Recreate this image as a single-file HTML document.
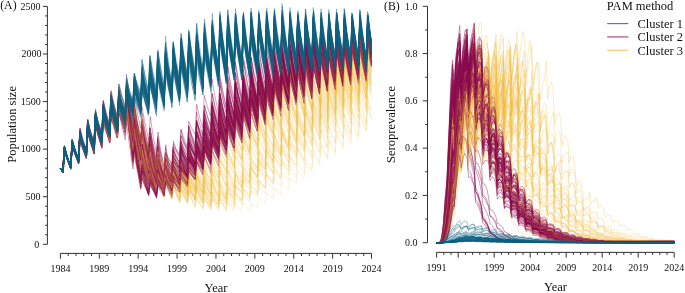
<!DOCTYPE html>
<html><head><meta charset="utf-8"><title>Population size and seroprevalence</title>
<style>
html,body{margin:0;padding:0;background:#fff;}
svg{display:block;}
.axes line{stroke:#333;stroke-width:1;fill:none;}
text{font-family:"Liberation Serif","Times New Roman",serif;fill:#111;}
.tk{font-size:10px;}
.ax{font-size:12.5px;}
.pl{font-size:11.8px;}
.data path{fill:none;stroke-linejoin:round;}
.c1{stroke:#0d5f80;stroke-opacity:0.55;stroke-width:2.6;}
.c2{stroke:#8a0a4e;stroke-opacity:0.58;stroke-width:2.6;}
.c3{stroke:#f2bd42;stroke-opacity:0.36;stroke-width:2.2;}
.d1{stroke:#0d5f80;stroke-opacity:0.55;stroke-width:2.6;}
.d2{stroke:#8a0a4e;stroke-opacity:0.62;stroke-width:2.6;}
.d3{stroke:#f2bd42;stroke-opacity:0.5;stroke-width:2.4;}
.lg{stroke-width:1.3;}
.l1{stroke:#0d5f80;stroke-opacity:0.8;stroke-width:1.1}.l2{stroke:#8a0a4e;stroke-opacity:0.55;stroke-width:1.6}.l3{stroke:#f2bd42;stroke-opacity:0.85;stroke-width:1.1}
</style></head>
<body>
<svg width="685" height="293" viewBox="0 0 685 293">
<g class="data" transform="scale(0.25)">
<path class="c2" d="M242 675l10 15 5-100 11 37 15 44 6-93 10 30 15 37 6-100 10 35 15 42 6-114 10 43 15 50 5-111 11 37 16 43 5-118 11 41 15 48 5-113 10 48 15 56 6-122 10 33 16 40 6-87 10 61 15 71 5-70 11 55 15 65 5-82 11 59 15 70 6-73 10 55 15 64 6-81 10 62 16 72 5-72 10 45 15 53 6-63 10 22 16 27 6-62 10 22 15 28 5-77 10 21 15 26 6-88 11 23 15 29 6-84 10 26 15 31 6-104 10 37 15 43 6-104 10 33 15 40 6-112 10 36 16 42 5-108 10 36 16 41 5-137 10 45 16 53 5-126 10 49 16 57 6-133 10 55 15 65 5-139 11 56 15 66 5-133 11 54 15 62 6-139 10 56 15 66 6-139 10 57 15 68 6-145 10 60 15 70 6-138 10 64 16 76 5-143 10 56 15 67 6-149 10 66 16 78 5-149 10 68 16 81 6-152 10 62 15 73 5-151 11 60 15 72 6-166 10 72 15 86 6-156 10 69 16 83 5-158 10 75 5 29"/>
<path class="c3" d="M242 676l10 13 6-94 10 34 15 40 6-98 10 32 16 38 6-99 9 35 15 41 6-109 10 37 15 45 6-123 10 41 16 48 6-116 10 42 14 51 6-124 10 52 16 62 5-124 11 38 15 44 6-96 10 98 15 117 6-77 10 71 15 83 6-55 10 42 16 49 5-64 10 33 16 38 5-64 10 40 16 46 6-68 10 37 15 43 5-66 11 24 15 29 6-57 10 12 15 14 5-75 11 17 15 19 6-80 10 26 15 31 6-95 10 33 16 39 5-96 10 32 16 37 5-107 10 37 15 45 6-114 10 41 16 49 5-118 11 40 15 47 6-122 10 45 15 52 5-122 11 39 15 45 5-130 11 50 15 58 6-143 10 55 15 65 5-141 11 53 15 62 6-132 10 55 15 64 6-155 10 59 15 70 6-157 10 69 16 83 5-161 10 71 15 85 6-150 10 65 16 76 5-162 10 70 16 82 5-146 11 68 16 81 5-161 10 68 15 81 5-152 11 72 15 85 6-161 10 63 16 74 5-170 10 75 16 89 5-152 11 70 4 24"/>
<path class="c2" d="M242 674l10 15 6-103 10 38 16 45 5-104 10 35 16 42 5-102 10 33 15 39 6-118 10 42 16 49 5-125 11 43 15 52 6-119 10 36 15 43 5-121 10 48 16 57 5-123 11 36 15 42 6-102 10 77 16 91 5-77 10 62 15 72 6-82 10 70 16 82 5-69 10 46 15 56 6-75 10 49 16 58 6-78 10 45 15 54 6-67 10 29 14 35 6-69 11 19 16 22 5-78 10 24 16 29 5-81 10 29 15 34 6-88 10 31 15 36 6-101 10 34 16 41 6-111 9 40 15 46 6-111 10 33 15 40 6-132 10 43 15 51 6-123 10 43 16 50 5-138 11 52 15 62 6-144 10 59 15 69 6-133 10 52 15 61 6-132 10 49 15 57 6-133 10 46 16 56 5-152 11 62 15 73 6-163 10 71 15 84 6-156 10 67 15 79 6-156 10 69 15 82 6-151 10 68 15 81 6-161 10 70 15 82 6-135 10 57 16 67 5-160 10 62 15 74 6-163 10 73 16 87 5-149 11 61 15 73 5-190 10 82 5 30"/>
<path class="c2" d="M242 675l9 14 6-99 10 37 15 44 6-108 10 36 16 43 5-106 11 34 15 41 6-118 10 41 15 47 6-137 10 51 15 60 6-121 10 42 15 49 6-117 10 44 15 53 6-111 10 40 15 47 6-90 10 118 15 139 6-49 10 71 15 84 6-41 10 29 16 35 5-46 11 7 15 8 6-52 10 13 14 16 6-72 10 21 16 25 6-79 10 27 15 33 5-82 11 34 15 41 6-87 10 35 15 41 6-92 10 33 15 40 6-96 10 31 16 37 5-117 11 39 15 47 6-120 10 40 15 48 6-118 10 44 15 52 6-115 10 39 15 45 6-121 10 47 15 56 5-135 11 55 16 65 5-129 10 46 15 56 6-158 10 68 15 80 6-152 10 71 16 85 6-133 10 54 15 65 6-134 10 51 15 61 5-156 11 72 15 84 6-123 10 51 15 60 6-138 10 56 15 66 6-154 10 68 15 81 6-137 10 60 16 71 5-142 10 60 15 71 6-145 10 62 16 73 6-157 10 61 15 71 6-156 10 66 15 79 6-161 10 77 5 32"/>
<path class="c2" d="M242 675l10 17 5-94 11 35 15 43 5-95 11 33 16 39 5-98 10 35 15 42 6-104 10 40 16 48 6-120 10 44 14 53 6-114 10 42 16 50 5-115 11 44 15 52 6-109 10 39 15 46 6-76 10 47 16 56 5-96 10 58 15 68 6-74 10 41 15 47 6-90 10 60 15 72 6-90 10 53 16 64 6-89 10 67 15 80 5-66 10 27 16 32 5-70 10 25 16 29 6-76 9 24 15 29 6-76 10 28 16 34 5-88 11 28 16 33 5-100 10 35 15 41 6-102 10 34 16 40 5-106 10 35 15 41 6-113 10 36 16 43 5-114 11 46 15 54 6-118 10 42 15 49 5-133 11 57 15 66 6-128 10 53 15 64 6-141 10 58 15 69 6-123 10 51 15 61 6-118 10 42 15 49 6-145 10 56 15 67 6-150 10 58 16 69 5-139 10 60 16 71 5-134 10 56 16 67 5-149 11 67 15 79 6-133 10 62 15 72 6-145 10 60 15 72 6-131 10 55 15 65 6-150 10 70 16 83 5-130 10 54 5 19"/>
<path class="c3" d="M242 674l9 16 6-89 10 32 16 39 5-97 10 34 16 40 5-105 10 37 15 45 6-107 10 40 16 46 5-122 11 46 15 55 6-103 10 32 15 38 6-101 10 41 15 49 6-104 10 45 15 53 5-88 11 72 16 85 5-59 10 53 15 63 6-64 10 50 16 59 5-65 11 43 15 52 6-57 10 26 15 30 6-77 10 42 15 50 6-62 10 35 15 41 6-59 10 35 15 41 6-55 10 29 15 34 6-52 10 28 16 33 5-48 10 22 16 27 5-53 10 17 16 20 5-59 10 19 15 22 6-61 10 20 16 25 6-65 10 21 15 26 6-64 10 14 15 16 5-71 11 20 15 23 6-89 10 29 16 35 5-83 10 29 15 33 6-91 10 32 15 36 6-97 10 35 15 40 6-106 10 39 16 45 5-94 10 39 16 45 5-101 11 35 15 40 6-106 10 38 15 46 6-112 10 40 16 47 5-102 10 36 15 43 6-124 10 45 15 53 6-106 10 41 16 49 5-135 10 52 16 62 5-142 10 68 16 81 5-140 10 61 6 26"/>
<path class="c2" d="M242 672l10 19 6-88 10 34 15 39 6-98 10 34 15 39 6-108 10 37 14 45 6-116 11 46 15 54 6-116 10 35 16 41 5-128 10 51 16 60 5-106 10 43 16 52 5-103 10 25 16 30 6-80 10 82 15 96 6-77 10 75 15 89 5-51 11 51 16 61 5-59 10 41 15 48 5-54 11 27 15 32 6-59 10 24 15 29 6-55 10 19 15 23 5-62 11 19 15 22 6-63 10 14 16 17 6-84 10 28 15 32 6-87 10 24 15 29 6-101 10 29 16 34 5-96 10 33 15 39 6-115 10 39 15 47 6-123 10 37 16 44 5-132 10 49 16 57 5-136 10 47 16 55 6-136 9 50 15 58 6-136 10 53 16 64 6-147 10 62 15 75 5-147 11 65 15 77 6-146 10 65 15 77 5-141 11 56 15 66 6-162 10 67 15 79 6-139 10 60 16 70 5-151 10 62 15 73 6-149 10 68 16 79 6-164 10 68 15 79 6-171 10 76 15 91 5-170 11 76 16 90 5-165 10 74 15 88 6-144 10 65 5 24"/>
<path class="c2" d="M242 674l10 14 6-102 9 36 15 42 6-97 10 30 16 36 5-109 10 35 16 42 5-117 11 41 15 49 6-128 10 46 15 54 5-124 11 43 15 50 5-122 11 35 16 43 6-122 10 38 15 46 5-95 10 74 15 86 6-87 10 76 16 89 5-90 11 72 15 85 6-84 10 67 15 79 5-63 11 41 15 49 6-74 10 19 15 23 6-81 10 20 15 24 6-84 10 27 15 31 6-100 10 29 15 33 6-114 10 32 15 39 5-114 11 41 16 48 5-121 11 44 15 52 5-134 11 51 15 60 6-159 10 64 15 76 5-139 11 52 15 60 6-133 10 52 15 62 6-146 10 58 15 69 5-141 11 58 15 69 5-145 11 64 16 75 5-150 10 63 15 75 6-128 10 48 16 57 6-158 10 70 16 83 5-168 10 72 15 86 5-154 11 57 15 68 6-158 10 64 15 76 6-177 10 82 16 97 5-151 10 64 15 76 6-153 10 71 16 84 6-150 10 60 15 71 6-167 10 79 15 93 6-170 10 77 15 91 5-165 11 69 5 28"/>
<path class="c2" d="M242 676l10 16 6-99 10 38 15 45 5-100 10 36 15 42 6-111 10 40 16 48 5-106 11 36 15 42 6-120 10 46 15 54 6-117 10 41 16 48 5-121 10 48 16 57 5-97 10 19 15 23 6-105 10 116 15 137 6-76 10 92 16 108 5-43 10 28 15 33 6-49 11 20 15 25 6-53 10 20 15 22 6-60 10 21 15 24 6-58 10 18 15 22 6-65 10 19 15 22 6-72 10 21 16 26 6-86 10 22 14 27 6-88 10 26 16 29 5-96 10 30 16 37 5-107 11 39 15 46 5-113 11 43 15 51 5-129 11 47 15 56 6-142 10 53 15 64 6-127 10 47 15 56 6-140 10 53 16 64 5-147 11 60 15 70 5-149 11 68 15 80 6-137 10 57 15 67 5-129 11 53 15 61 6-137 10 50 15 60 6-130 10 56 15 65 6-150 10 61 15 73 5-159 11 63 16 74 5-137 10 60 16 70 5-156 11 71 15 85 6-159 10 72 15 85 6-168 10 79 15 93 5-167 10 72 16 86 5-163 11 68 5 27"/>
<path class="c2" d="M242 674l10 15 6-102 10 36 15 44 6-106 10 33 15 39 6-122 10 41 15 49 6-117 10 40 16 47 5-120 10 38 16 45 5-134 10 44 16 53 5-135 11 51 15 59 6-127 10 40 15 48 5-136 11 79 15 94 6-81 10 58 15 67 5-87 11 62 16 72 6-95 10 69 15 81 6-88 10 67 15 80 5-85 11 68 15 80 6-66 10 26 15 29 6-66 10 20 15 24 6-75 10 19 15 21 6-88 10 24 15 29 5-95 11 28 15 33 6-108 10 38 15 45 6-115 10 39 15 46 6-121 10 42 16 50 5-110 11 33 15 39 5-135 10 54 15 64 6-129 10 50 16 58 5-140 11 54 15 64 5-128 11 49 15 58 6-152 10 63 15 76 6-149 10 61 16 73 5-136 11 50 15 59 6-156 10 67 14 81 6-148 10 58 16 68 6-178 10 70 15 82 6-170 10 73 15 87 5-158 11 75 15 89 6-167 10 70 16 83 5-166 10 72 16 86 5-181 10 80 16 93 6-172 9 85 15 101 6-170 10 73 5 28"/>
<path class="c2" d="M242 674l10 16 5-96 11 37 15 43 5-106 10 37 15 43 6-102 10 36 16 42 5-108 10 37 15 45 6-122 11 39 16 47 5-117 10 35 15 42 5-119 11 48 15 57 6-118 10 48 16 56 6-85 10 55 15 65 5-83 11 63 15 73 6-79 10 50 15 60 5-82 11 58 15 68 6-86 10 73 16 87 6-68 9 30 15 34 6-73 10 18 15 20 6-79 10 29 15 35 6-82 10 23 15 28 6-86 10 22 16 27 5-110 11 36 15 42 6-121 10 49 15 57 5-123 10 49 15 59 6-119 10 42 16 50 6-119 10 44 15 53 6-119 10 43 16 50 5-141 10 54 16 64 5-138 10 51 15 61 6-136 10 56 16 66 5-136 11 54 15 65 6-146 10 48 15 56 5-153 11 66 15 79 5-169 11 70 15 84 6-163 10 70 15 84 6-152 10 66 15 78 5-148 11 69 16 82 5-155 10 65 15 78 6-150 10 67 15 79 6-161 10 68 16 80 5-166 10 67 16 78 5-173 11 80 15 94 5-170 10 75 6 33"/>
<path class="c2" d="M242 675l10 16 6-100 10 37 15 43 6-86 10 28 16 33 5-97 10 36 15 42 5-113 11 44 16 52 5-118 10 46 15 55 6-99 10 33 16 39 5-108 11 39 15 45 6-109 10 42 15 50 5-92 10 87 15 102 6-69 11 71 16 85 5-59 10 53 16 63 5-53 10 37 16 44 5-47 10 8 16 9 6-56 9 15 15 18 6-61 10 22 16 27 6-66 10 16 15 20 6-76 10 19 15 24 6-85 10 29 15 35 6-90 10 36 16 43 5-95 10 28 16 34 5-115 10 41 15 48 6-118 10 41 16 48 6-121 10 50 15 60 6-117 10 42 15 49 5-127 11 49 15 58 6-119 10 45 15 53 6-120 10 46 15 55 6-127 10 50 15 59 6-140 10 57 16 66 5-136 10 56 15 65 6-130 10 51 16 60 5-144 10 53 15 64 6-153 10 68 15 81 6-151 10 61 16 72 6-147 10 62 15 73 6-155 10 68 15 81 6-152 10 66 15 79 6-154 10 72 15 85 6-154 10 65 15 78 6-165 10 70 5 27"/>
<path class="c2" d="M242 675l11 17 5-92 10 34 15 40 6-94 10 32 15 37 6-104 10 38 15 45 6-116 10 44 16 52 5-121 10 45 15 54 6-116 10 37 16 45 6-121 10 55 15 66 6-111 10 41 15 47 6-104 10 78 15 91 6-79 10 72 15 85 6-64 10 67 16 80 5-51 10 21 15 26 6-55 10 15 16 19 5-66 10 20 15 23 6-67 10 23 16 27 5-85 11 24 15 28 6-88 10 28 15 33 5-94 11 36 15 43 6-110 10 44 15 52 6-116 10 43 16 52 5-116 10 37 16 43 5-128 11 44 15 51 5-124 11 42 15 49 5-136 11 58 15 68 6-149 10 62 15 73 6-144 10 52 15 63 6-137 10 55 15 66 6-148 10 59 15 70 6-156 10 71 15 85 5-143 11 61 15 72 6-142 10 59 16 70 5-164 11 71 15 85 6-146 10 63 15 75 5-137 11 64 15 76 6-149 10 57 15 66 5-175 11 76 15 91 6-161 10 77 16 91 5-162 10 66 15 78 6-135 10 59 15 71 6-152 10 65 5 24"/>
<path class="c3" d="M242 675l10 15 6-96 10 35 15 42 6-95 10 32 15 39 5-98 10 34 16 39 5-114 11 45 16 54 5-115 11 40 15 47 5-105 10 43 15 50 6-108 10 38 16 44 6-113 10 38 15 45 5-115 11 67 15 79 6-81 10 57 15 67 6-77 10 59 15 71 6-86 10 53 15 63 6-73 10 43 15 50 6-80 10 67 16 79 5-69 10 37 16 44 5-60 10 16 16 18 5-64 11 19 15 23 5-65 11 26 15 31 5-76 11 23 15 27 5-80 11 24 15 29 6-93 10 36 15 41 6-89 10 29 16 34 5-87 10 36 16 42 5-108 10 40 16 47 5-103 10 37 16 44 5-112 11 39 15 47 6-115 10 42 15 51 5-110 11 42 15 49 6-119 10 45 16 53 5-120 10 50 15 59 6-131 10 48 15 57 6-133 10 56 15 66 6-128 10 50 16 59 6-149 10 63 14 75 6-142 10 61 16 72 5-142 11 58 15 69 6-135 10 56 15 66 5-148 11 59 15 70 6-134 10 55 15 65 6-155 10 72 5 29"/>
<path class="c2" d="M242 675l10 16 5-93 11 34 15 41 6-104 10 38 15 45 5-91 11 29 15 33 6-115 10 42 15 50 6-117 10 42 16 49 5-108 11 40 15 49 5-119 11 43 15 51 6-123 9 43 15 51 6-107 10 76 16 90 6-91 10 71 15 85 6-67 10 55 15 66 6-67 10 52 15 62 6-62 10 35 16 41 5-65 10 17 16 19 5-74 11 26 15 30 6-73 10 21 15 25 5-90 10 29 15 33 6-99 10 35 16 42 6-99 10 29 15 34 6-109 10 43 15 52 6-105 10 29 16 35 5-126 10 49 15 58 6-121 10 41 15 48 6-134 10 47 15 56 6-133 10 57 16 67 6-140 10 59 15 70 5-139 10 52 16 61 5-144 10 59 16 70 5-150 11 63 16 73 5-151 10 71 15 84 6-155 10 68 15 80 6-140 10 58 16 69 5-156 11 61 15 72 5-156 10 71 15 84 6-150 10 69 16 81 6-144 10 62 15 72 6-169 10 72 14 86 6-158 10 68 16 81 5-153 11 71 15 83 6-157 10 77 5 30"/>
<path class="c2" d="M242 675l10 16 6-96 10 37 15 44 6-101 10 34 15 40 6-110 10 39 15 46 6-111 10 44 16 51 5-114 10 37 15 43 6-129 10 49 16 58 5-123 11 45 15 53 5-118 11 41 15 50 5-121 11 80 15 95 6-76 10 54 15 63 6-85 10 63 16 75 5-80 10 69 15 81 5-68 11 54 16 64 6-59 10 21 15 24 5-65 11 15 15 17 6-68 10 24 15 29 5-73 11 20 15 25 5-82 11 34 15 40 6-83 10 27 16 31 6-107 10 38 15 44 5-94 10 25 15 31 6-113 10 41 16 47 5-106 11 36 15 43 6-111 10 40 15 47 6-125 10 44 15 53 6-117 10 50 15 58 6-127 10 47 15 56 5-151 11 63 16 75 5-134 10 55 16 65 5-141 11 57 15 68 6-133 10 55 14 65 6-146 10 64 16 75 6-130 10 55 15 64 5-146 11 64 15 76 6-143 10 55 15 65 6-170 10 71 15 85 6-151 10 68 15 81 5-148 11 59 16 70 5-151 10 63 16 75 5-147 10 66 5 23"/>
<path class="c3" d="M242 675l11 14 5-91 10 33 16 38 5-96 10 31 15 38 6-102 10 34 16 40 5-128 10 45 15 54 6-120 10 45 16 54 6-113 10 41 15 49 6-114 10 32 15 37 6-124 10 56 15 66 6-81 10 101 16 119 5-58 10 60 16 70 5-57 10 36 16 43 5-66 10 32 15 38 6-54 10 23 16 27 5-73 10 36 16 41 6-69 10 26 15 32 5-72 11 39 15 47 6-67 10 37 16 43 5-56 10 26 15 31 6-68 10 34 15 40 6-64 10 26 15 30 6-66 10 32 16 37 6-68 10 30 15 35 6-53 10 23 16 28 5-62 10 12 15 15 6-73 10 17 15 20 5-81 11 19 15 23 6-90 10 26 15 30 6-105 10 32 16 38 5-104 10 33 16 38 6-115 10 36 15 43 5-122 11 45 15 52 6-110 10 36 14 43 6-122 10 47 16 55 6-150 10 56 15 66 6-137 10 55 15 64 6-141 10 59 15 69 6-132 10 55 16 66 6-143 10 52 14 62 6-140 10 65 16 77 6-145 10 67 4 23"/>
<path class="c3" d="M242 675l10 14 5-100 10 37 16 44 5-99 11 31 15 38 5-110 11 36 15 42 5-120 11 43 15 50 6-124 10 44 15 53 6-124 10 39 16 45 5-113 10 38 15 45 6-117 10 35 16 42 5-115 10 92 16 110 5-101 11 92 15 110 5-68 11 62 15 73 6-63 10 49 15 58 6-64 10 35 15 41 6-63 10 43 15 51 5-52 11 31 15 36 6-46 10 14 15 17 6-53 10 15 15 17 6-61 10 19 16 22 5-65 11 16 15 19 6-80 10 24 15 29 6-86 10 25 15 29 6-94 10 30 15 36 6-97 10 34 15 41 6-98 10 40 15 47 6-105 10 34 15 41 5-118 11 44 16 52 5-110 10 41 16 49 5-104 10 39 16 46 5-118 11 42 15 50 6-120 10 43 15 51 6-148 10 56 15 66 5-139 11 46 15 54 6-131 10 57 16 67 6-140 10 56 15 66 5-159 10 71 15 83 6-136 10 59 15 69 6-143 10 58 16 68 5-151 10 61 16 73 5-153 11 70 15 83 6-147 10 57 5 23"/>
<path class="c2" d="M242 676l9 13 6-94 10 35 16 42 5-98 10 33 16 39 5-104 11 37 15 43 6-112 10 38 15 45 5-113 11 35 15 41 6-113 10 41 15 48 6-118 10 47 15 56 5-106 11 40 16 48 6-78 9 79 15 93 6-89 10 69 16 82 5-70 10 55 16 66 5-63 10 41 16 49 5-59 10 28 16 34 5-67 11 36 15 41 6-64 10 19 15 23 6-73 10 19 15 23 6-73 10 19 16 22 5-80 10 25 15 29 6-92 10 34 15 40 6-92 10 18 16 21 5-115 11 39 15 47 6-129 10 51 15 61 6-130 10 55 15 65 5-135 10 42 15 50 6-136 11 49 16 58 5-140 10 54 16 63 5-136 11 57 15 68 6-139 10 55 14 64 6-149 10 61 16 73 6-158 10 74 15 88 6-151 10 50 14 58 6-136 11 56 15 66 6-164 10 73 16 85 5-158 10 73 16 86 5-152 10 68 16 80 5-159 10 59 16 69 5-174 10 77 16 92 5-167 10 82 15 96 6-154 10 65 16 76 5-200 11 89 5 38"/>
<path class="c2" d="M242 677l9 12 6-90 10 31 16 36 5-102 10 34 16 41 5-111 10 38 16 44 5-114 11 41 15 48 5-121 11 37 15 43 6-132 10 50 16 59 5-119 10 42 15 49 6-134 10 59 15 70 6-100 10 71 15 83 6-86 10 66 15 79 6-72 10 61 15 72 6-71 11 56 15 66 6-70 10 50 14 58 6-68 10 40 16 48 5-56 10 24 16 28 5-61 11 17 15 19 6-60 10 17 15 21 6-73 10 24 15 28 5-77 11 25 15 28 5-80 11 26 16 30 5-98 10 31 15 36 6-95 10 31 16 36 6-105 10 32 15 37 6-106 10 37 15 44 5-119 11 44 15 51 6-125 10 49 15 57 6-122 10 45 15 53 6-124 10 49 15 56 6-135 10 55 15 65 6-135 10 52 16 61 5-135 11 47 15 56 6-145 9 63 15 74 6-145 10 62 16 72 6-144 10 59 15 70 6-158 10 65 15 77 6-170 10 67 15 80 6-153 10 69 16 82 5-156 11 68 15 81 6-150 10 68 15 81 5-145 10 66 6 29"/>
<path class="c3" d="M242 675l10 16 6-98 10 37 15 44 5-107 10 39 16 45 5-104 11 37 15 43 5-107 11 40 15 47 6-110 10 33 16 40 5-113 10 36 15 41 6-127 10 53 15 62 6-111 10 28 15 33 6-84 10 73 16 87 5-77 10 81 16 96 5-74 11 83 16 98 5-59 11 27 15 33 5-59 10 32 15 37 6-63 10 33 15 39 6-49 10 30 16 36 5-50 10 23 15 27 6-51 10 27 16 31 5-50 11 20 15 24 6-49 10 15 15 16 5-61 11 18 15 20 6-69 10 26 15 30 6-67 10 21 16 25 5-68 10 21 15 24 6-76 10 21 16 24 5-84 10 28 16 34 5-90 11 29 15 35 6-86 10 24 15 28 5-107 11 37 15 44 5-104 11 35 15 42 5-109 11 34 15 41 6-122 10 43 15 52 6-117 10 43 15 51 6-135 10 51 16 59 5-150 11 68 15 80 6-136 10 49 15 58 6-140 9 52 15 62 6-139 10 52 16 61 6-164 10 80 15 95 6-157 10 71 15 82 5-132 11 58 5 22"/>
<path class="c2" d="M242 673l9 17 6-98 10 36 16 42 6-96 10 33 15 39 6-100 10 30 15 35 5-112 11 39 16 45 5-125 10 39 16 47 5-128 10 40 16 47 5-133 10 54 16 63 5-126 10 43 16 50 5-121 10 113 16 133 5-57 11 74 15 88 6-58 10 54 15 64 5-53 11 27 15 31 6-59 10 17 15 21 6-70 10 19 15 23 6-76 10 24 16 28 5-83 10 25 16 30 5-91 11 31 15 36 6-96 10 35 15 41 6-109 10 42 15 50 6-114 10 43 15 51 6-118 10 41 15 49 6-115 10 40 15 46 6-120 10 52 16 61 5-121 10 45 15 53 6-136 10 48 16 58 6-123 10 47 15 55 6-144 10 61 15 71 5-140 11 59 15 69 6-135 10 46 16 54 5-141 10 64 15 76 6-152 10 63 16 76 5-152 10 59 15 71 6-136 10 65 15 76 6-145 10 57 16 68 6-147 9 69 15 82 6-154 10 60 16 72 6-152 10 55 15 65 6-171 10 83 15 98 6-157 10 71 15 83 6-160 10 70 5 27"/>
<path class="c2" d="M242 677l10 14 6-92 9 35 15 41 6-99 10 36 15 43 6-107 10 39 16 47 5-102 11 38 15 44 5-109 11 38 15 45 6-106 10 35 15 42 6-115 10 46 15 55 6-108 10 34 15 40 6-85 10 59 15 69 6-86 10 55 15 64 6-74 10 49 16 59 5-91 11 60 15 71 6-79 10 66 15 78 6-70 10 39 15 47 6-69 10 17 15 20 6-76 10 16 15 19 5-79 11 26 15 31 6-92 10 28 15 33 6-97 10 35 15 40 6-114 10 31 16 37 5-121 11 37 15 43 5-129 11 46 15 54 6-141 10 49 15 58 6-128 10 46 15 55 5-150 11 64 16 75 5-144 10 55 15 66 6-152 10 59 16 69 5-132 11 52 15 62 6-147 10 64 15 77 5-154 10 69 16 80 5-173 10 66 16 78 6-149 10 66 15 79 6-151 10 66 15 78 6-161 10 79 15 94 5-163 11 70 16 82 5-155 10 69 15 82 6-163 10 78 16 91 5-143 10 59 15 69 6-180 10 83 15 97 6-158 10 70 6 29"/>
<path class="c2" d="M242 674l10 17 6-100 10 37 15 44 6-94 10 32 15 38 5-112 11 36 15 43 6-121 10 44 16 52 5-119 10 41 16 47 5-118 11 45 15 53 6-121 10 51 15 60 5-123 10 40 15 47 6-108 10 89 16 106 5-68 11 66 15 79 6-78 10 66 15 77 5-62 11 50 15 59 5-54 11 30 15 36 6-61 10 27 15 31 6-55 10 18 16 20 5-58 10 18 15 21 6-59 10 14 16 15 5-77 11 21 15 25 6-77 10 24 15 29 6-97 10 33 15 38 6-89 10 27 15 31 6-102 10 36 15 42 5-107 11 26 16 32 5-111 11 42 15 49 6-120 10 48 15 57 5-119 10 51 16 61 5-124 10 46 15 54 6-119 10 42 17 49 5-133 10 53 15 63 6-149 10 57 15 66 5-154 11 67 15 80 6-160 10 68 15 80 6-148 10 63 16 75 5-143 11 64 15 74 6-150 10 70 15 82 5-153 10 66 16 78 6-149 10 65 15 77 6-162 10 71 15 84 6-142 10 61 15 73 6-148 10 64 5 23"/>
<path class="c2" d="M242 675l10 14 5-96 11 35 15 42 6-93 10 26 15 31 5-105 11 33 15 39 6-111 10 37 16 44 5-124 10 40 15 46 6-128 10 47 16 56 6-116 10 47 15 56 5-115 10 35 16 40 5-119 11 89 15 105 5-89 11 69 15 81 6-78 10 55 15 65 6-79 10 69 15 80 5-67 11 56 15 66 6-63 10 31 16 37 5-57 10 20 16 23 5-60 10 17 15 20 6-68 10 22 16 26 5-81 11 22 15 27 5-89 11 37 15 43 6-91 10 27 15 33 6-106 10 41 15 48 6-105 10 37 15 44 6-96 10 31 15 37 6-119 10 37 16 44 6-139 10 56 15 66 5-122 10 50 15 59 6-108 10 35 16 41 5-139 10 55 16 64 5-136 10 53 16 63 5-134 11 51 16 61 5-122 10 45 16 53 5-142 10 59 15 69 6-143 10 68 16 81 5-142 10 59 15 69 6-143 10 59 16 70 5-158 10 71 15 85 6-145 10 64 16 77 6-154 10 62 15 73 6-135 10 57 16 66 5-145 10 66 5 25"/>
<path class="c2" d="M242 675l10 14 5-97 11 35 15 41 6-101 10 35 15 40 6-102 10 38 16 43 5-112 10 44 15 51 6-113 10 36 15 44 6-111 10 40 16 46 5-119 11 51 15 60 6-110 10 35 15 42 5-117 11 89 15 106 5-80 11 71 15 84 6-58 10 49 15 58 6-61 10 47 16 56 5-63 10 37 15 42 6-59 10 25 16 29 6-57 10 14 15 15 5-70 11 21 15 24 6-73 10 21 15 25 6-80 10 26 15 30 6-83 10 19 15 22 6-96 10 34 15 41 6-113 10 39 16 46 5-115 10 36 15 43 5-120 11 47 15 56 6-129 10 46 16 55 5-127 10 48 16 56 5-133 11 48 15 57 6-130 10 60 15 70 6-129 10 50 15 58 6-133 10 54 15 64 6-150 10 56 16 65 6-154 10 64 15 76 5-141 11 61 15 71 6-148 10 58 14 69 6-156 11 65 15 76 6-150 10 62 15 72 6-167 10 70 15 84 5-156 11 67 15 80 6-161 10 76 15 90 6-159 10 71 15 83 6-143 10 64 5 25"/>
<path class="c3" d="M242 677l10 11 5-98 11 37 15 43 5-100 11 35 15 42 6-101 10 32 15 38 5-104 11 36 15 43 6-129 10 43 15 50 6-114 10 39 15 48 5-115 11 42 15 51 5-120 11 43 15 50 6-82 10 85 16 100 5-80 11 66 15 79 6-65 10 54 15 64 5-58 11 33 15 40 6-69 10 42 14 49 6-65 10 36 16 42 6-59 10 28 16 33 5-55 10 21 15 26 6-62 10 9 15 12 6-80 10 26 15 30 6-87 10 24 16 29 6-92 10 35 15 40 6-101 10 23 15 28 5-114 10 48 16 58 5-99 10 26 15 30 6-116 10 43 16 49 6-129 10 54 16 64 5-132 10 49 15 60 5-116 11 38 16 46 5-125 11 48 15 57 5-147 11 62 15 73 6-136 10 53 15 63 5-146 11 59 15 71 6-135 10 52 16 62 5-161 10 67 15 78 6-156 10 70 16 83 5-166 10 76 15 89 6-143 10 62 15 72 6-147 10 65 15 77 6-142 10 61 16 72 5-142 11 67 15 80 5-140 11 61 5 26"/>
<path class="c2" d="M242 676l10 14 6-91 10 34 16 40 5-95 10 33 15 39 5-103 11 38 16 45 5-115 10 43 16 52 5-116 11 35 15 40 6-103 10 36 15 42 6-119 10 43 15 50 5-120 11 33 15 38 6-89 10 70 15 82 6-62 10 57 15 68 6-71 10 60 16 72 5-80 10 57 16 68 5-67 11 52 15 61 6-69 10 45 15 54 5-54 11 12 16 14 6-66 9 24 15 27 5-63 11 15 15 17 6-71 10 13 16 16 5-87 11 27 15 32 5-92 10 29 16 35 5-101 11 37 15 44 6-112 10 34 15 39 5-125 11 48 15 57 6-121 10 42 15 49 6-115 10 41 16 49 5-122 10 43 15 50 5-136 11 53 15 63 6-136 10 54 15 64 6-162 10 61 16 72 5-164 10 68 15 81 6-147 10 57 16 68 6-174 10 77 15 91 5-144 11 55 15 66 6-150 10 63 15 75 6-175 10 73 16 86 5-153 10 66 15 79 6-160 10 80 16 94 5-178 10 90 15 107 6-152 10 61 15 72 6-174 10 79 5 28"/>
<path class="c3" d="M242 673l10 17 6-88 10 31 15 36 5-97 11 33 15 39 6-104 10 33 15 39 6-109 10 36 15 43 6-120 10 44 15 52 6-125 10 57 16 67 5-108 10 37 15 43 6-111 10 37 16 44 6-108 10 64 15 75 5-84 11 58 15 70 5-88 11 64 15 76 6-89 10 66 15 79 6-79 10 60 15 70 5-74 11 37 15 43 6-58 10 27 16 31 5-69 11 37 15 42 5-62 10 30 15 35 6-67 10 22 16 25 5-66 10 19 16 23 5-83 11 30 15 36 6-91 10 23 15 27 6-95 10 31 15 37 6-95 10 32 15 37 6-100 10 32 15 38 6-112 10 41 16 48 6-110 9 40 15 48 6-107 10 35 16 41 6-126 10 48 15 56 6-138 10 50 15 59 6-135 10 50 15 59 6-146 10 51 15 60 6-155 10 66 16 77 5-146 10 60 15 72 6-148 10 64 16 77 5-143 11 55 15 66 5-157 11 66 15 78 5-161 10 69 15 83 6-149 10 58 16 69 5-160 11 72 15 85 6-174 10 78 5 32"/>
<path class="c2" d="M242 673l10 16 6-97 10 34 15 41 5-106 10 35 16 40 5-102 11 36 15 42 5-119 11 45 15 53 6-125 10 40 15 46 6-130 10 50 15 59 6-124 10 42 15 48 6-126 10 43 15 52 6-109 10 103 16 122 5-70 10 64 16 74 5-71 10 55 15 66 6-66 10 44 16 52 6-67 10 41 15 49 6-62 10 24 15 28 6-67 10 17 16 21 5-72 10 18 15 21 6-83 10 25 16 29 5-82 10 28 15 34 6-101 10 40 16 46 5-101 11 33 15 39 6-120 10 38 15 45 6-125 10 46 15 54 6-117 10 47 15 54 6-135 10 56 15 66 6-139 10 59 15 70 6-140 10 51 15 61 6-140 10 51 16 60 5-134 10 59 15 70 6-148 10 59 16 71 6-130 10 44 15 52 5-144 11 67 15 79 5-149 11 55 15 64 6-137 10 53 15 62 5-169 11 70 16 83 6-166 10 71 14 85 6-160 10 69 15 82 6-141 10 60 16 72 6-157 10 64 15 76 5-176 10 86 16 102 5-170 10 84 6 38"/>
<path class="c2" d="M242 673l11 19 5-101 10 39 15 47 6-103 10 37 16 44 6-92 10 33 15 38 5-107 11 41 15 48 6-118 10 43 15 52 6-108 10 28 15 32 6-113 10 43 15 50 6-110 10 31 16 35 5-122 10 100 15 118 6-79 10 82 16 97 5-58 10 63 16 75 5-52 10 38 16 45 5-50 10 12 16 14 5-61 10 16 16 19 6-61 10 17 15 20 6-74 10 25 15 28 6-81 10 28 15 34 6-90 10 31 15 35 5-97 11 35 16 42 5-107 10 39 15 45 6-106 10 27 16 31 5-119 10 41 16 48 5-124 10 51 16 61 5-123 11 46 15 54 5-130 11 49 15 57 6-123 10 48 15 56 6-134 10 55 15 66 6-130 10 49 15 60 6-137 10 55 15 64 6-155 10 63 15 74 6-146 10 57 16 68 5-151 11 67 15 79 6-142 10 60 15 71 6-136 10 60 15 72 6-139 10 63 15 75 6-147 10 65 15 77 6-148 10 63 16 74 5-135 10 61 15 72 5-146 11 67 16 80 5-151 11 68 4 24"/>
<path class="c2" d="M242 674l10 16 6-93 10 34 15 40 6-103 10 36 15 43 6-110 10 37 15 44 6-106 10 36 15 43 6-120 10 46 15 55 6-117 10 42 16 50 5-116 11 46 15 54 5-116 11 42 15 49 5-108 11 86 15 102 5-74 11 67 15 80 6-68 10 64 15 77 6-55 10 31 16 37 6-57 9 17 14 20 6-72 10 23 16 28 6-77 10 22 16 25 5-88 10 36 16 43 5-91 11 26 15 30 5-100 11 39 15 47 5-109 10 39 16 46 5-106 11 35 15 41 6-121 10 43 15 51 6-125 10 51 15 61 6-120 10 43 15 50 6-128 10 56 16 65 6-132 9 49 15 59 6-130 10 50 15 60 6-151 10 53 16 63 5-159 10 66 16 79 5-141 11 60 15 71 6-155 10 66 15 78 6-154 10 67 15 79 6-150 10 62 15 73 6-149 10 61 15 73 6-158 10 61 16 72 5-160 10 76 15 89 6-151 10 63 15 75 6-167 10 79 16 94 5-158 10 70 16 83 5-168 11 69 15 81 6-147 10 60 5 26"/>
<path class="c2" d="M242 675l10 15 5-104 11 38 15 45 6-94 10 32 16 37 5-98 10 34 15 39 6-109 10 40 15 46 6-118 10 41 15 48 6-138 10 42 16 49 6-118 10 43 15 51 5-117 11 28 15 33 6-96 10 99 15 117 6-97 10 93 15 110 6-70 10 62 15 73 6-54 10 21 15 25 6-72 10 20 15 23 6-80 10 28 16 34 5-78 11 26 15 31 5-86 11 25 15 29 6-101 10 31 15 36 6-109 10 40 15 47 6-112 10 37 15 44 6-131 10 42 15 50 6-157 10 55 16 65 5-156 10 59 16 70 5-141 11 59 15 70 5-142 10 52 16 62 5-164 10 70 16 83 5-144 11 61 15 72 6-136 10 52 15 62 6-148 10 61 15 73 6-146 10 60 15 72 6-146 10 67 15 79 6-157 10 69 15 81 6-151 10 64 16 75 5-157 10 66 15 79 6-167 11 72 15 84 6-159 10 79 15 93 5-147 10 54 16 64 5-157 11 68 16 80 5-177 10 85 15 100 6-154 10 64 16 77 5-156 10 72 5 28"/>
<path class="c2" d="M242 675l9 14 6-92 10 33 15 40 6-97 10 33 16 39 5-105 10 38 15 45 6-111 10 43 16 50 5-111 10 39 16 45 6-107 10 34 16 40 5-105 10 39 15 45 5-116 11 45 15 54 6-118 10 99 15 118 6-81 10 69 16 83 5-61 10 53 16 63 5-56 10 41 16 49 5-56 11 33 15 38 6-57 10 26 15 30 5-57 11 18 15 22 6-61 10 14 15 16 6-66 10 26 15 29 6-73 10 15 15 18 6-90 10 29 15 34 6-95 10 32 16 39 5-112 10 37 16 44 5-101 10 34 16 40 5-107 10 37 16 44 5-116 11 39 15 46 5-121 11 42 15 49 5-133 11 52 16 62 5-131 10 44 16 51 5-141 11 62 15 72 6-149 9 56 15 66 6-131 10 52 15 61 6-142 10 62 16 74 5-163 11 65 15 76 5-147 11 57 15 67 5-144 11 68 15 81 6-144 10 59 15 69 6-144 10 63 15 74 5-155 11 67 16 78 6-160 10 78 14 91 6-158 10 66 16 78 5-166 11 68 5 29"/>
<path class="c2" d="M242 673l10 17 5-102 11 39 15 47 6-107 10 39 15 46 6-101 10 36 15 43 6-103 10 38 15 45 6-120 10 40 15 47 6-112 10 34 15 40 6-121 10 49 16 58 5-120 10 39 15 47 6-117 11 87 15 103 6-80 10 73 14 86 6-68 10 68 16 80 5-61 11 45 15 52 6-54 10 31 15 37 6-57 10 17 16 20 6-59 10 17 15 20 5-67 11 19 15 22 6-72 10 23 15 27 6-83 10 25 15 30 5-83 10 28 15 32 6-98 10 32 16 39 6-111 10 40 15 48 6-107 10 43 15 51 6-104 10 43 15 49 6-123 10 39 16 47 5-118 10 48 15 56 6-134 10 56 15 66 6-122 10 42 16 50 5-132 11 48 15 57 6-141 10 58 15 69 5-131 11 49 15 57 5-134 11 58 15 68 6-142 10 61 16 71 6-142 9 64 15 77 5-150 11 54 15 65 5-145 11 62 16 73 5-145 10 60 16 71 5-156 11 75 15 89 6-144 10 60 15 70 5-144 11 70 15 83 6-154 10 69 5 26"/>
<path class="c3" d="M242 675l10 15 6-93 10 34 15 39 6-98 10 34 15 41 5-109 11 38 16 45 5-115 10 42 16 49 6-119 10 43 15 50 6-127 10 47 15 56 5-104 10 40 16 47 5-115 10 32 15 38 6-91 10 67 16 80 6-87 10 69 15 83 6-79 10 67 15 79 6-69 10 55 16 65 5-69 11 32 15 37 5-74 10 36 16 44 5-70 10 39 16 46 5-59 10 33 15 40 6-59 10 31 16 36 6-64 10 35 15 42 6-58 10 25 15 30 6-57 10 26 15 31 6-57 10 23 15 28 6-52 10 13 16 15 5-62 10 21 15 24 6-62 10 15 16 18 6-67 10 20 15 23 5-73 11 19 15 22 5-87 11 25 15 30 6-82 10 28 15 33 6-80 10 21 15 24 6-117 10 43 15 51 6-104 10 37 16 44 5-108 10 35 16 43 5-111 10 38 16 45 5-134 11 55 15 65 5-133 11 51 15 61 6-137 10 57 15 67 5-138 11 59 15 69 6-143 10 60 15 71 5-141 11 56 15 66 6-140 10 64 5 24"/>
<path class="c2" d="M242 674l10 15 6-93 10 35 15 40 6-103 10 36 16 42 5-85 10 27 15 32 6-115 10 38 15 45 6-122 10 41 16 50 6-117 10 42 15 50 6-118 10 45 14 54 6-118 10 36 16 43 6-113 10 68 15 81 6-77 10 61 15 73 6-80 10 59 15 71 6-86 10 64 15 76 6-74 10 56 15 66 6-71 10 19 16 23 6-80 10 33 15 38 6-83 10 26 15 31 6-86 10 23 15 28 6-96 10 31 15 37 6-110 10 31 15 38 6-130 10 48 16 57 6-135 10 47 14 56 6-139 10 50 16 60 5-135 10 53 15 63 6-134 10 54 16 63 6-144 10 57 16 68 5-144 10 61 15 73 6-140 10 54 15 65 6-151 10 64 15 75 5-177 11 73 16 87 5-148 10 65 15 78 6-150 10 55 16 66 5-165 11 69 15 83 6-154 10 62 15 73 5-161 11 75 15 88 6-158 10 72 16 86 5-162 10 70 15 82 6-172 10 76 15 90 6-170 10 76 16 89 5-150 10 65 15 77 6-163 10 73 5 27"/>
<path class="c2" d="M242 674l9 16 6-98 10 36 16 43 6-102 10 38 15 45 6-98 10 35 15 42 6-110 10 34 16 41 5-117 10 42 15 49 5-110 11 39 16 46 5-118 11 42 15 50 5-108 10 29 15 35 6-96 10 73 16 85 6-75 10 60 15 71 6-71 10 48 16 56 5-78 10 64 15 76 5-67 11 55 16 65 5-70 10 50 15 59 6-55 10 17 16 20 6-59 10 16 15 19 6-73 10 24 15 27 5-73 11 22 15 26 5-79 11 19 15 21 6-90 10 26 15 30 6-97 10 30 16 36 5-111 10 39 15 47 6-116 10 34 15 41 6-121 10 38 16 44 5-133 10 51 16 60 5-134 11 55 15 66 6-148 10 62 15 73 5-137 11 45 15 52 5-154 11 53 15 64 6-150 10 67 15 80 6-143 10 60 15 72 6-138 10 66 15 79 6-140 10 62 15 72 6-154 10 57 16 68 6-147 10 61 15 72 5-170 10 73 16 86 5-158 11 73 15 85 6-141 10 68 15 80 5-160 11 72 15 85 6-152 10 63 5 23"/>
<path class="c3" d="M242 674l10 17 5-86 11 32 15 37 5-94 11 32 15 38 6-98 10 31 15 37 6-117 10 47 15 56 6-123 10 48 16 56 5-105 10 31 16 36 5-118 10 44 15 52 6-109 10 43 15 51 6-85 10 62 16 73 5-57 11 46 15 55 6-71 10 58 15 69 6-76 10 50 16 60 5-76 10 43 16 52 5-70 10 29 16 35 5-75 11 44 15 52 5-68 10 28 16 34 5-72 11 37 15 44 6-66 10 31 15 37 5-72 11 39 15 45 5-70 11 34 16 40 5-68 10 31 16 36 5-70 10 33 15 40 6-58 10 26 16 31 5-60 11 18 15 21 5-67 11 21 15 24 5-73 11 20 15 23 5-75 11 24 15 29 5-82 10 23 16 28 5-94 11 30 16 37 5-91 10 30 15 36 6-97 10 34 16 40 5-103 10 37 15 43 6-91 10 34 16 41 6-115 10 40 15 48 6-121 10 46 15 54 6-136 10 48 16 57 5-116 10 47 15 57 6-133 10 56 15 65 6-136 10 55 15 64 6-142 10 59 5 24"/>
<path class="c3" d="M242 676l10 14 5-97 11 35 15 42 6-86 10 27 15 31 6-99 10 31 15 38 6-116 10 45 15 52 6-125 10 42 16 48 5-117 10 38 16 45 6-120 10 41 15 48 6-117 10 61 15 73 6-78 10 74 15 87 5-79 10 79 16 94 5-55 11 58 15 67 6-46 10 27 16 32 5-55 10 33 15 40 6-59 10 33 16 39 5-51 11 23 15 27 5-46 10 11 15 14 6-54 10 17 16 20 6-59 10 18 15 21 6-68 10 25 15 30 6-76 10 25 15 29 6-75 10 23 16 27 5-85 10 29 15 33 5-86 11 22 15 26 6-103 10 43 16 51 5-95 10 33 16 39 5-101 11 35 15 40 6-92 10 28 15 33 5-107 11 38 15 44 6-120 10 51 15 60 6-108 10 42 16 49 5-113 10 40 15 47 6-124 10 47 15 57 6-126 10 45 15 54 6-126 10 49 16 59 5-134 10 56 15 67 6-145 10 62 16 74 6-155 10 63 15 74 6-154 10 69 15 82 6-148 10 64 16 76 5-159 10 64 5 24"/>
<path class="c2" d="M242 674l10 16 6-96 10 36 15 42 5-91 11 28 15 34 6-97 10 34 15 40 6-120 10 48 15 56 6-120 10 40 15 47 6-106 10 39 15 46 6-113 10 34 16 41 5-124 10 40 16 47 5-87 10 89 16 106 5-75 11 71 16 83 5-65 10 51 15 60 5-59 11 45 16 53 5-52 10 25 15 29 6-61 10 22 15 27 6-65 10 17 15 20 6-72 10 20 16 24 5-80 11 26 15 30 5-86 10 28 15 34 6-96 10 28 16 33 5-124 11 42 15 49 6-123 10 45 15 53 6-128 10 41 15 49 5-141 11 54 16 64 5-121 10 40 16 48 5-131 11 54 15 64 6-134 10 50 14 59 6-132 10 49 16 58 6-157 9 60 15 72 6-141 10 60 16 71 5-147 11 62 15 73 6-164 10 70 15 82 6-148 10 59 16 70 5-163 10 76 15 89 6-167 10 74 16 88 5-153 10 74 16 88 5-169 11 66 15 78 6-169 10 75 15 88 5-167 11 76 15 91 6-161 10 73 15 85 6-152 10 65 5 25"/>
<path class="c2" d="M242 675l10 14 5-97 11 36 15 43 5-95 11 31 15 36 5-108 11 37 15 43 6-120 10 46 15 55 5-119 11 36 15 42 6-123 10 38 15 44 6-133 10 48 15 58 6-129 10 61 16 72 5-87 10 118 15 140 6-51 10 52 16 62 5-48 10 21 15 25 6-63 10 18 16 21 6-68 10 25 16 31 5-78 10 23 15 27 5-72 11 13 15 16 6-100 10 33 15 39 6-103 10 25 16 28 6-121 9 43 15 51 6-130 10 38 15 45 6-148 10 62 16 74 5-155 11 60 15 70 6-161 10 60 15 70 5-151 11 65 15 77 6-160 10 49 15 57 6-165 10 68 15 80 6-178 10 79 15 94 6-165 10 70 16 83 5-166 10 75 15 89 6-171 10 77 16 90 5-167 11 68 15 80 6-164 10 74 15 86 6-172 10 71 15 83 6-181 10 84 15 99 6-171 10 75 15 88 6-167 10 75 15 88 6-186 10 82 16 95 5-175 10 84 15 99 6-162 10 73 16 87 5-161 11 73 15 87 6-168 10 85 5 35"/>
<path class="c3" d="M242 675l10 15 6-106 9 39 15 47 6-95 10 33 16 40 5-107 10 39 16 47 5-113 10 38 16 46 5-122 10 41 16 48 5-110 11 39 16 45 5-121 10 39 16 45 5-125 10 43 15 50 5-103 11 56 16 67 5-83 10 66 16 79 5-84 10 62 16 72 6-93 10 68 14 81 6-80 10 59 16 69 6-75 10 36 15 42 6-81 10 41 15 48 5-77 11 40 15 48 6-71 10 38 15 45 6-63 10 35 16 42 5-61 10 37 15 45 6-62 11 36 15 42 6-53 10 28 15 34 6-48 10 27 15 31 5-45 10 23 16 27 5-43 11 15 15 18 5-42 11 7 15 9 6-53 10 13 15 15 6-56 10 14 16 17 5-70 10 20 16 23 5-67 10 16 15 19 6-75 10 16 16 19 5-81 11 24 15 28 6-93 10 27 15 33 6-95 10 30 15 37 5-105 11 35 15 43 6-118 10 39 16 46 5-127 10 51 15 62 6-122 10 46 16 54 5-122 10 44 15 52 6-129 10 49 16 58 6-125 10 55 5 22"/>
<path class="c2" d="M242 675l9 15 6-97 10 35 15 41 6-103 10 35 16 42 5-108 10 39 15 46 6-114 10 42 15 50 6-124 10 45 15 54 6-124 10 41 16 48 5-115 11 45 15 53 6-119 10 50 15 58 5-116 11 117 16 138 5-64 10 69 15 82 6-50 10 44 16 52 5-44 11 18 15 21 5-51 10 14 15 17 6-60 10 12 16 14 5-68 11 21 15 24 6-76 10 20 15 24 6-82 10 32 16 37 5-93 10 29 15 35 6-94 10 32 15 38 6-110 10 37 15 43 6-125 10 43 15 51 6-123 10 45 16 53 5-119 11 40 15 48 6-127 10 43 16 50 5-143 10 56 15 66 6-147 10 63 15 75 6-134 10 48 15 58 6-140 10 59 16 71 6-165 10 68 14 81 6-142 10 55 15 64 6-168 10 72 16 84 5-156 11 68 15 81 6-150 10 65 15 78 6-155 10 72 15 85 6-152 10 67 16 79 5-152 10 70 16 84 5-159 11 67 15 78 6-141 10 63 15 75 5-168 11 73 15 88 5-163 10 67 6 30"/>
<path class="c2" d="M242 672l10 18 5-95 11 35 15 42 6-99 10 35 16 41 5-111 10 39 15 46 6-95 10 32 16 38 5-123 10 38 15 46 6-123 10 47 16 55 6-105 10 43 15 51 6-117 10 27 15 32 6-106 10 71 15 84 6-84 10 50 16 60 5-90 10 64 16 77 5-83 10 63 15 74 6-90 10 61 16 71 5-75 10 54 16 63 5-62 11 27 15 31 6-66 10 19 15 23 6-75 10 19 15 23 6-88 10 28 15 33 6-94 10 28 15 33 5-107 11 37 15 44 5-97 11 32 16 37 5-114 11 38 16 45 5-119 10 43 15 50 5-133 11 54 15 63 6-122 10 43 15 51 5-137 11 55 15 65 6-131 10 50 15 60 5-132 11 52 15 61 6-142 10 59 15 71 6-142 10 48 16 57 5-152 10 69 15 82 6-149 10 57 16 67 6-164 10 75 15 90 5-163 11 71 15 84 6-145 10 58 15 69 6-175 10 76 15 91 5-174 11 76 15 90 5-170 11 67 16 80 5-168 10 75 16 87 5-187 10 81 5 29"/>
<path class="c3" d="M242 674l11 14 5-99 10 35 15 41 6-91 10 30 16 34 5-106 11 37 15 45 6-111 10 38 15 45 6-125 10 40 15 47 5-121 11 40 16 49 5-120 10 44 16 51 5-115 10 23 15 28 6-105 10 91 16 108 5-85 11 89 15 105 6-74 10 71 14 83 6-62 10 30 16 36 6-63 10 29 15 34 5-80 11 45 15 53 6-73 10 39 16 46 5-64 10 31 16 36 5-59 10 30 16 36 5-70 11 33 15 38 6-67 10 34 15 40 5-65 10 22 16 25 5-61 11 13 15 16 5-81 11 21 15 25 6-85 10 24 15 29 6-86 10 25 15 28 6-83 10 23 15 28 6-111 10 34 16 41 5-105 10 32 15 37 6-117 10 43 15 51 6-127 10 48 15 56 6-135 10 49 16 58 5-130 10 52 15 62 6-140 10 54 16 64 5-142 11 46 15 55 5-147 11 59 16 70 5-158 10 69 16 81 5-151 10 66 15 78 6-152 10 67 15 80 6-153 10 69 16 82 5-139 11 59 15 71 6-149 10 61 4 19"/>
<path class="c2" d="M242 676l10 12 5-96 11 34 15 41 5-101 11 34 15 41 6-100 10 39 15 45 5-114 11 42 15 50 6-106 10 34 16 40 5-112 10 44 16 52 5-109 11 36 15 43 6-111 10 30 15 35 5-87 11 83 15 99 6-76 9 68 15 82 6-69 10 57 16 67 5-65 11 55 15 65 6-49 10 33 15 39 6-58 10 16 16 20 5-61 10 14 16 16 5-74 10 24 16 29 5-80 11 24 15 30 6-91 10 31 15 37 5-95 11 33 15 38 6-100 10 34 15 41 6-115 10 38 15 45 6-112 10 40 15 47 6-112 10 39 16 45 5-121 10 46 15 55 6-139 10 56 16 66 6-135 10 53 15 62 5-129 11 47 15 55 5-134 11 54 16 63 5-129 10 57 16 69 5-144 10 56 16 66 5-109 10 47 16 56 5-141 10 65 15 78 5-137 11 55 15 64 6-137 10 49 16 58 5-158 10 64 16 76 5-150 11 63 15 74 6-171 10 79 15 94 6-142 10 66 15 78 5-174 11 80 15 95 5-146 11 64 5 27"/>
<path class="c2" d="M242 675l10 15 6-88 10 32 15 38 6-94 10 32 15 38 6-103 10 34 16 40 5-108 10 41 16 48 5-119 11 38 15 46 6-123 10 43 14 52 6-123 10 51 16 60 5-124 10 50 16 59 5-89 10 62 16 73 5-83 10 56 16 66 6-70 10 56 15 65 6-74 10 60 16 70 5-65 11 50 15 58 5-63 10 37 15 43 6-61 10 21 16 24 5-63 10 18 15 22 6-62 10 16 16 20 5-87 11 21 15 24 6-94 10 40 15 48 6-96 10 34 15 41 6-98 10 26 16 32 5-103 11 32 15 37 5-105 10 35 15 40 6-111 10 42 16 51 5-129 10 44 15 53 6-118 10 47 16 56 6-135 10 54 16 64 5-144 10 60 16 70 5-135 10 50 15 60 6-151 10 66 15 77 6-147 10 57 15 68 6-145 10 62 15 74 6-147 10 59 15 69 6-167 10 73 15 87 6-168 10 66 16 78 6-143 10 64 15 77 5-157 11 70 15 83 5-140 11 64 16 76 5-152 10 70 16 81 5-167 11 74 4 26"/>
<path class="c2" d="M242 676l10 15 6-94 10 36 15 41 6-105 10 38 15 44 6-102 10 34 16 41 5-108 11 39 15 46 5-129 11 50 15 59 5-115 10 45 16 53 5-113 11 39 15 45 6-120 10 45 15 54 5-95 11 97 15 113 6-63 10 78 15 92 6-51 10 43 15 51 6-47 10 23 16 26 5-43 10 8 15 9 6-62 10 14 16 16 5-72 10 27 16 33 6-77 10 26 15 32 6-76 10 22 15 26 5-88 11 29 15 34 6-91 10 33 15 39 6-101 10 39 15 46 6-101 10 37 15 43 6-110 10 36 16 43 5-118 10 41 15 47 6-122 10 50 16 58 6-129 10 49 15 57 6-128 10 53 15 64 5-129 10 45 16 53 5-133 11 55 15 64 6-136 10 57 15 67 6-127 10 54 16 65 6-135 10 52 15 62 5-132 11 51 15 60 6-135 10 62 15 74 6-162 10 64 15 77 6-142 10 65 15 76 5-139 11 61 16 72 5-114 10 51 15 61 6-148 10 59 15 71 6-153 10 60 15 70 6-136 10 65 5 23"/>
<path class="c2" d="M242 676l10 13 6-97 10 35 16 40 5-103 11 34 15 40 6-108 10 38 15 45 5-116 10 42 16 49 5-117 11 42 15 50 6-125 10 47 16 55 5-114 10 37 15 43 6-108 10 30 16 34 6-90 10 113 15 133 6-58 10 79 15 94 5-51 10 46 16 55 5-45 10 21 15 24 6-52 10 13 16 16 6-56 10 14 15 17 5-65 11 23 16 27 5-65 10 19 15 24 6-72 10 20 16 24 5-91 10 29 15 33 6-94 10 33 16 40 5-115 10 42 16 49 5-118 11 41 15 49 6-120 10 46 15 55 5-119 10 47 16 55 5-113 11 37 15 45 6-122 10 45 15 53 6-126 10 53 16 62 6-123 10 42 15 49 5-134 10 48 16 55 5-156 10 63 15 75 6-148 11 63 16 75 5-143 10 60 16 70 5-143 10 58 15 70 6-152 10 67 15 79 5-164 11 69 15 82 5-155 11 70 16 84 5-150 11 65 15 76 6-169 9 79 15 93 6-149 10 66 16 78 5-144 11 63 15 74 6-148 10 72 4 24"/>
<path class="c2" d="M242 675l10 13 6-87 10 31 15 36 6-106 10 37 14 45 6-99 10 34 16 41 6-118 10 44 16 53 5-110 11 40 15 46 5-115 11 37 15 44 6-120 10 43 15 51 6-102 10 36 15 43 6-111 10 126 15 148 5-72 11 76 16 89 5-46 10 33 16 39 6-53 9 14 15 17 6-56 10 13 15 17 6-69 10 20 16 23 5-73 11 20 15 23 6-84 10 26 15 30 6-92 10 33 15 40 6-102 10 33 16 39 6-107 9 42 15 49 6-126 10 40 15 48 6-127 10 49 16 57 5-122 10 42 15 49 6-135 10 48 16 57 5-135 10 54 16 65 5-151 11 54 15 63 6-149 10 62 15 73 5-142 11 55 15 66 5-154 11 66 15 79 6-145 10 56 16 66 5-156 10 60 16 70 6-149 10 63 15 75 5-184 10 79 16 95 5-161 10 75 16 88 5-151 11 65 15 78 6-141 10 64 15 76 5-177 11 73 15 86 6-183 10 86 15 102 5-167 11 73 16 87 5-157 10 70 15 84 6-167 10 70 5 26"/>
<path class="c2" d="M242 675l10 15 5-95 11 35 15 40 6-97 10 34 15 39 5-105 11 38 15 44 6-117 10 41 15 49 6-119 10 42 15 50 6-124 10 42 15 50 6-99 10 34 16 41 5-119 11 45 15 54 6-89 10 87 14 103 6-88 10 84 16 100 5-65 11 61 15 73 6-45 10 27 16 33 5-50 10 14 16 17 6-63 9 16 15 19 6-63 10 16 16 18 5-71 11 24 15 29 6-78 10 24 15 29 5-87 10 28 16 32 5-99 11 38 15 45 5-108 11 40 15 47 6-102 10 28 15 33 6-113 10 43 15 52 6-107 10 36 15 43 6-135 10 52 15 62 6-127 10 47 16 55 5-131 10 50 16 59 5-135 11 55 15 65 6-133 10 57 15 67 6-150 10 60 15 71 6-146 10 48 15 58 6-159 10 65 16 78 5-151 10 68 15 80 5-159 11 66 15 77 6-149 10 60 15 72 6-167 10 79 16 92 5-159 11 71 15 84 6-168 10 72 15 86 6-154 10 70 15 83 6-161 10 74 14 88 6-135 11 57 5 23"/>
<path class="c2" d="M242 675l10 15 6-100 10 36 15 41 6-95 10 33 16 39 6-104 10 29 15 35 5-119 10 42 15 50 6-113 10 37 15 43 6-129 10 43 16 52 5-127 11 49 15 57 6-126 10 41 15 50 6-117 10 101 15 120 6-65 10 73 16 86 5-60 11 61 15 72 5-53 10 38 16 45 5-52 10 18 16 22 5-70 11 20 15 25 6-73 10 16 15 18 6-82 10 22 15 26 6-88 10 25 15 30 6-105 10 33 15 40 6-101 10 33 16 39 5-132 10 42 15 48 6-131 10 55 15 66 6-137 10 46 15 54 6-136 11 49 15 58 6-134 10 61 15 73 6-149 10 60 15 71 6-163 10 66 15 77 6-147 10 54 15 64 5-150 11 62 15 75 6-147 10 62 15 72 6-154 10 67 15 80 6-165 10 72 16 84 5-140 10 55 16 64 5-164 10 74 16 88 5-149 11 69 15 82 6-165 10 73 15 87 6-171 10 76 15 91 6-157 10 76 16 89 5-143 10 64 15 77 6-153 10 66 16 78 5-167 11 72 4 25"/>
<path class="c2" d="M242 674l10 17 5-99 11 39 15 46 5-98 11 35 15 41 6-98 10 36 15 41 6-115 10 45 15 52 6-117 10 37 15 43 6-119 10 50 15 60 6-107 10 41 15 48 6-110 10 46 15 54 6-79 10 65 16 76 5-69 10 62 16 73 5-61 10 62 16 73 5-50 11 40 15 48 5-49 11 14 16 16 5-61 10 19 15 22 6-68 10 19 15 22 6-75 10 21 15 25 6-75 10 22 16 25 6-90 10 27 15 33 5-100 11 27 15 33 6-98 10 28 15 32 5-121 11 45 15 52 6-125 10 47 15 55 5-124 11 46 16 53 5-143 11 56 15 67 6-135 10 49 15 57 5-149 10 64 16 77 5-131 11 52 15 62 5-144 11 57 15 68 6-144 10 61 15 72 6-159 10 63 15 76 6-146 10 60 15 71 6-140 10 56 15 67 6-174 10 76 15 89 6-141 10 67 16 78 5-159 11 74 15 87 5-149 11 61 15 72 5-158 11 74 15 86 6-161 10 67 15 80 6-137 10 60 15 71 6-168 10 79 5 32"/>
<path class="c3" d="M242 676l10 12 5-100 11 36 16 42 5-98 11 32 15 38 6-101 10 36 15 44 5-116 10 41 16 48 5-131 11 51 15 60 5-121 11 46 15 54 6-116 10 45 15 53 5-128 11 42 16 50 5-118 11 104 15 123 6-83 10 68 14 80 6-60 10 55 16 64 5-58 10 32 16 38 5-62 10 33 16 40 5-61 11 46 15 55 6-50 10 30 15 35 6-48 10 21 16 25 5-47 10 12 15 13 6-49 10 15 15 18 6-60 11 16 15 17 6-72 10 18 15 23 6-77 10 30 15 36 5-80 11 27 15 33 5-73 11 15 15 17 6-96 10 30 15 34 6-96 10 35 15 40 6-101 10 36 15 42 6-98 10 34 15 41 6-120 10 45 16 54 5-115 10 37 15 45 6-137 10 53 15 63 6-121 10 48 15 58 6-131 10 54 16 65 5-133 11 51 16 60 5-120 10 44 15 53 6-135 10 47 15 56 6-142 10 67 15 79 6-159 10 66 15 77 6-150 10 69 16 82 5-138 11 52 15 61 6-155 10 75 4 26"/>
<path class="c3" d="M242 675l10 14 5-98 10 36 15 44 6-103 10 35 16 41 5-100 11 33 15 39 6-125 10 45 15 53 5-128 10 44 15 52 6-120 10 38 16 45 5-120 11 47 15 56 6-132 10 68 15 81 6-95 10 99 16 116 5-69 10 71 16 83 5-50 10 33 15 40 6-59 10 31 15 36 6-56 10 27 16 32 5-60 10 21 15 25 6-67 10 29 16 33 6-64 10 22 15 26 6-75 10 20 15 23 6-83 10 28 15 33 6-87 10 26 15 31 6-104 10 39 15 46 6-101 10 29 15 34 6-114 10 51 16 60 6-104 10 36 15 43 5-114 11 49 15 57 6-106 10 36 15 41 5-127 11 44 15 52 6-109 10 38 16 45 5-119 10 44 15 53 6-135 10 53 15 63 6-137 10 56 16 67 5-146 11 61 15 72 5-127 11 50 15 59 6-139 9 56 15 67 6-150 10 57 16 68 5-150 11 63 16 75 5-154 10 65 15 77 6-161 10 69 16 83 5-158 10 72 16 86 5-148 11 68 15 81 5-139 11 55 5 24"/>
<path class="c3" d="M242 675l11 13 5-99 10 35 15 43 6-109 10 38 16 45 5-94 11 31 15 36 6-121 10 43 15 51 5-123 11 41 15 49 5-114 11 39 15 48 6-118 10 48 16 56 5-121 10 43 16 51 5-118 10 103 15 122 6-65 10 66 16 78 6-62 10 56 15 67 5-54 11 28 15 33 6-60 10 32 16 38 5-64 10 26 15 31 6-63 10 33 16 40 5-64 10 33 16 39 5-61 10 35 15 41 6-56 10 30 16 37 6-54 10 26 14 31 6-57 10 33 16 38 5-51 11 24 15 29 6-52 10 17 15 21 6-48 10 14 15 17 6-51 10 14 15 17 6-53 10 16 16 19 5-64 10 17 15 19 6-66 10 24 16 28 5-69 11 25 15 30 6-80 10 24 15 28 6-83 10 25 15 30 6-84 10 28 15 33 6-88 10 33 15 40 6-95 10 31 15 36 6-107 10 37 16 45 5-105 10 37 16 44 5-111 10 43 15 50 6-101 10 38 16 45 5-121 10 42 16 50 6-122 10 44 15 53 6-120 10 47 4 16"/>
<path class="c3" d="M242 676l10 14 6-103 10 38 15 45 6-97 10 32 16 38 5-102 11 35 15 42 6-107 10 38 15 44 6-128 10 46 15 56 5-111 11 36 16 41 5-113 10 38 16 44 5-118 10 46 15 55 6-112 10 68 15 82 6-95 10 66 16 79 5-76 11 56 15 66 6-79 10 85 15 101 5-64 11 29 15 35 6-73 10 38 15 46 6-67 10 37 15 44 6-68 10 38 15 45 6-64 10 31 16 36 5-57 11 19 15 22 5-58 10 20 15 23 6-66 10 19 16 21 5-74 10 20 16 23 5-85 11 36 15 42 6-76 10 21 16 24 5-87 10 30 15 34 6-95 10 35 16 41 6-100 9 39 15 45 6-107 10 39 17 46 5-115 10 42 15 49 6-92 10 29 15 34 5-108 11 44 15 52 5-123 11 44 15 51 6-132 10 54 14 64 6-124 10 44 16 52 6-133 10 54 16 64 6-136 9 59 15 69 6-131 10 53 16 63 5-146 10 63 15 74 6-129 10 49 16 57 5-134 10 58 15 68 6-157 10 70 5 25"/>
<path class="c3" d="M242 674l10 17 5-92 11 34 15 39 6-105 10 37 15 45 6-108 10 39 16 46 5-107 11 41 15 50 6-126 10 40 15 47 6-123 10 43 14 51 6-110 10 40 16 48 5-120 11 26 16 30 5-121 10 86 15 101 6-95 10 69 15 81 6-82 10 64 15 76 6-85 10 79 15 93 6-63 11 38 15 46 6-67 10 45 14 54 6-54 11 38 15 44 6-47 10 28 15 34 6-39 10 18 16 21 5-45 10 12 15 15 6-49 10 18 15 20 6-55 10 15 15 17 6-61 10 18 15 21 6-62 10 21 16 24 5-63 11 21 15 23 5-71 11 23 15 27 6-69 10 25 15 30 5-74 11 25 15 30 6-82 10 25 15 30 6-86 10 31 16 36 6-90 9 29 15 34 6-89 10 31 16 36 5-98 11 38 15 45 6-97 10 37 15 44 6-114 10 41 15 49 6-112 10 45 15 52 6-115 10 43 15 50 6-125 10 57 15 69 6-129 10 52 15 62 6-113 10 49 15 58 6-125 10 48 16 56 5-119 11 48 4 16"/>
<path class="c3" d="M242 674l10 17 5-95 10 36 15 42 6-100 10 35 15 42 6-94 10 33 16 39 5-119 10 42 15 50 6-113 10 32 16 37 6-118 10 48 15 56 6-119 10 52 15 62 6-110 10 28 15 32 6-82 10 61 15 73 6-63 10 51 15 60 5-80 11 52 16 62 6-91 10 67 15 80 5-72 10 73 15 87 6-58 10 26 16 29 5-61 10 35 15 42 6-52 10 25 16 30 5-54 11 33 15 38 6-51 10 29 15 34 6-46 10 27 15 32 6-47 10 23 16 28 6-43 9 22 15 27 6-41 10 15 16 17 5-38 11 7 15 7 5-43 10 7 16 8 6-61 10 17 14 19 6-58 10 15 16 16 6-70 10 18 15 21 5-66 11 18 16 21 5-77 10 20 15 25 6-88 10 31 15 36 6-101 10 34 16 41 6-103 10 32 15 37 6-97 10 31 15 37 6-117 10 44 15 53 6-118 10 44 15 52 6-121 10 40 15 48 6-140 10 59 15 70 6-128 10 52 15 60 6-129 11 46 16 53 5-118 10 44 5 19"/>
<path class="c2" d="M242 675l10 16 6-91 10 34 15 41 6-106 10 39 16 46 5-98 10 34 16 39 5-114 11 46 15 54 6-115 10 41 15 48 5-117 10 45 16 54 5-105 11 40 15 46 6-109 10 53 15 63 6-67 10 84 15 100 6-59 10 56 15 66 5-50 11 33 15 39 6-57 10 35 16 43 6-54 10 19 15 22 5-55 10 12 16 16 5-66 11 16 15 18 6-79 10 22 15 26 5-88 10 30 15 35 6-94 10 30 16 35 6-99 10 30 15 36 5-114 11 45 16 53 5-121 11 43 15 51 5-117 10 40 15 47 6-127 10 40 16 47 6-137 10 50 15 60 6-138 10 59 15 69 5-126 11 47 15 56 6-142 10 57 15 69 5-139 11 57 16 68 5-147 10 60 16 72 5-145 11 62 15 73 5-150 10 60 16 71 5-149 10 62 16 73 5-164 11 71 15 85 6-147 10 63 15 73 5-170 11 80 16 94 5-158 10 68 15 80 6-154 10 66 15 79 6-170 10 77 15 92 5-182 11 81 16 96 5-149 10 71 5 25"/>
<path class="c2" d="M242 674l10 14 6-95 10 34 15 39 5-96 11 29 16 34 5-118 10 40 15 46 6-125 10 52 16 61 6-117 10 32 15 38 6-122 10 41 15 49 6-118 10 43 15 51 6-127 10 67 15 78 6-120 10 115 15 137 6-76 10 71 15 83 6-50 10 36 16 43 5-52 10 19 16 22 5-60 10 15 16 19 5-76 10 19 15 22 6-84 10 23 16 28 5-94 10 29 16 35 5-106 11 39 15 46 6-99 10 24 15 29 6-121 10 41 16 49 5-136 10 52 15 61 6-158 10 59 16 70 5-148 10 53 15 64 6-137 10 52 16 60 6-153 10 60 15 72 6-150 10 59 15 70 6-162 10 65 15 78 5-150 11 61 15 73 6-169 10 71 15 83 6-162 10 68 16 81 5-154 10 66 15 77 6-163 10 71 16 83 5-186 11 81 15 96 6-154 10 70 15 83 6-166 10 72 15 84 6-176 10 78 15 92 5-180 11 81 15 97 6-163 10 80 16 95 5-174 10 82 16 96 5-176 11 77 15 91 5-162 11 65 4 22"/>
<path class="c3" d="M242 676l9 13 6-93 10 33 16 40 5-93 11 31 15 36 6-96 10 36 15 42 5-109 11 41 15 49 6-126 10 44 15 51 5-110 11 37 15 44 6-116 10 40 15 46 6-115 10 55 15 65 6-116 10 96 15 113 6-77 10 67 16 79 5-63 10 52 16 60 5-56 10 31 15 36 6-59 10 29 16 35 5-61 11 27 15 33 6-58 10 26 15 30 6-64 10 33 15 40 6-58 10 29 16 33 5-60 10 31 15 38 5-57 11 33 15 39 6-57 10 28 16 34 6-60 10 27 15 32 5-55 11 16 15 19 6-63 10 22 15 27 6-60 10 19 14 23 6-64 10 20 16 24 6-67 10 21 16 26 5-80 10 27 15 32 6-79 10 22 16 27 6-90 10 35 15 42 5-92 10 30 16 36 5-92 11 32 15 38 6-94 10 34 15 40 6-94 10 36 15 42 6-102 10 38 15 46 6-113 10 38 15 45 6-119 10 42 15 50 6-115 10 47 15 56 6-116 10 48 16 57 5-125 10 49 16 59 5-132 10 52 6 23"/>
<path class="c3" d="M242 675l10 14 6-94 10 34 15 39 6-102 10 35 15 41 6-117 10 39 15 47 6-127 10 42 15 50 6-120 10 37 15 44 6-130 10 45 16 52 5-114 10 38 16 45 5-120 11 43 15 50 6-125 10 85 14 101 6-66 10 56 16 67 6-82 10 65 15 76 5-83 11 71 15 85 6-74 10 44 15 51 6-69 10 33 15 39 6-66 10 34 15 40 6-68 10 38 16 45 5-60 11 35 15 41 5-63 10 33 16 39 5-61 11 31 15 36 6-64 10 21 16 25 5-62 11 14 15 16 5-73 10 21 15 25 5-69 11 19 15 23 6-82 10 17 16 20 5-88 11 27 15 32 6-100 10 34 15 39 6-100 10 31 15 37 6-99 10 24 15 28 5-128 11 46 15 53 6-112 10 39 16 46 5-144 10 55 15 64 6-146 10 56 15 66 6-150 10 59 16 69 5-148 10 61 16 73 5-155 10 60 16 72 5-147 11 61 15 71 5-148 11 70 15 82 6-131 10 50 16 59 5-163 10 72 15 86 6-146 10 62 5 24"/>
<path class="c2" d="M242 674l10 16 6-100 10 37 16 44 5-104 11 34 15 41 5-109 10 36 15 43 6-108 10 42 15 51 6-129 10 47 15 56 6-114 10 44 16 52 5-109 11 48 15 58 6-103 10 35 15 42 6-104 10 80 15 94 6-57 10 58 15 70 6-64 10 49 16 58 5-66 11 42 15 50 5-58 11 28 15 34 6-62 10 19 15 23 6-73 10 15 15 18 5-93 10 32 16 36 5-86 11 30 15 34 6-89 10 27 15 32 6-102 10 34 15 41 6-122 10 39 15 47 6-128 10 47 16 55 5-124 11 50 15 59 5-126 11 49 15 57 6-131 10 49 15 59 5-147 11 61 16 71 5-130 10 51 15 59 6-149 10 67 15 78 5-134 11 49 15 58 6-151 10 57 16 68 6-155 10 62 15 74 6-149 10 69 15 82 6-152 10 67 15 78 5-150 11 62 15 73 5-157 11 78 16 92 5-151 10 62 15 74 6-161 10 66 15 78 6-143 10 59 15 69 6-154 10 73 15 86 6-175 10 72 16 86 5-152 11 61 4 22"/>
<path class="c2" d="M242 675l10 16 6-89 10 33 15 40 6-99 10 34 16 39 5-95 10 32 15 39 6-106 10 40 15 48 6-104 10 37 16 45 6-115 10 44 15 53 5-111 10 42 16 50 5-110 11 32 15 37 6-118 10 89 15 105 6-73 10 69 15 82 6-63 10 63 15 74 6-56 10 51 16 60 6-46 9 20 15 23 6-51 10 13 16 17 6-56 10 11 15 13 5-64 11 17 15 21 5-70 11 16 15 19 6-85 10 26 15 32 6-89 10 26 15 31 6-107 10 38 16 44 5-115 10 39 16 47 6-111 10 35 15 43 5-122 10 42 15 51 6-129 11 40 15 47 6-137 10 52 15 62 6-155 10 65 15 77 5-136 11 57 16 67 5-155 10 67 15 80 6-151 10 59 15 71 6-147 10 58 16 67 5-157 11 63 15 75 6-152 10 73 15 86 5-167 11 76 15 90 6-156 10 62 15 74 5-172 11 63 15 75 6-155 10 66 15 77 6-157 10 68 16 81 6-193 10 91 15 108 6-165 9 77 15 91 6-156 10 69 5 25"/>
<path class="c2" d="M242 675l10 15 5-98 11 37 15 43 6-95 10 32 15 38 6-104 10 38 15 46 6-104 10 39 16 45 5-115 10 37 15 44 6-120 10 48 15 57 6-117 10 39 16 47 6-112 10 31 15 37 5-104 11 87 15 104 6-63 10 66 15 79 6-67 10 58 15 68 5-59 10 42 16 49 6-71 10 38 15 45 6-62 10 21 15 24 6-64 10 19 15 23 6-71 10 18 16 20 5-86 10 27 15 32 6-99 10 29 16 34 5-94 11 26 15 32 6-116 10 44 15 52 6-117 10 42 15 49 6-125 10 43 15 51 6-122 10 40 16 47 5-148 11 56 15 67 5-136 11 50 15 59 5-152 10 62 15 73 6-153 10 63 16 75 5-143 11 62 15 74 6-159 10 72 15 86 6-146 10 62 16 72 5-143 10 55 15 65 5-143 11 57 15 68 6-158 10 69 15 82 5-160 11 65 16 76 5-148 10 63 16 74 5-161 11 79 15 92 5-144 11 59 15 71 6-142 10 63 15 74 6-176 10 81 15 95 5-147 11 68 5 28"/>
<path class="c2" d="M242 672l10 18 6-90 10 33 15 39 6-96 10 33 16 40 5-101 10 37 15 44 6-113 10 39 15 45 6-121 10 32 16 38 5-125 10 47 16 55 5-128 10 43 16 50 5-116 10 47 15 55 6-102 10 90 16 105 5-70 11 68 16 81 5-70 10 63 15 75 6-63 10 51 15 59 6-53 10 33 15 38 6-54 10 16 16 18 5-55 10 14 16 15 5-62 11 11 15 13 6-81 10 21 15 25 6-88 10 22 15 26 5-102 11 26 15 30 5-113 11 49 15 57 6-120 10 52 16 61 5-120 10 38 15 45 6-121 10 40 16 47 5-133 11 51 15 61 6-122 10 45 14 52 6-139 10 59 15 69 6-122 10 45 16 53 5-137 11 56 15 66 6-146 10 47 16 55 5-163 10 69 15 81 6-166 10 68 16 82 5-156 10 59 16 69 5-158 11 70 15 82 5-167 10 76 15 91 6-175 10 78 16 92 6-171 10 80 15 95 5-164 10 67 16 80 5-162 11 80 15 95 5-152 11 72 15 85 6-153 10 62 5 24"/>
<path class="c2" d="M242 675l10 14 6-85 10 31 15 37 6-104 10 34 15 39 6-102 10 37 15 44 6-112 10 40 15 47 6-122 10 45 15 52 6-110 10 36 16 43 5-119 11 46 15 54 6-118 10 28 15 33 5-121 11 89 15 105 5-99 11 76 15 90 6-70 10 58 15 69 6-86 10 65 16 76 5-59 10 46 15 55 6-67 10 30 15 36 6-64 10 15 16 17 5-68 10 13 16 15 6-81 10 27 14 33 6-87 11 22 15 26 6-88 10 25 15 30 5-100 11 30 16 36 5-127 10 43 15 51 6-123 10 43 16 52 5-122 11 43 15 51 5-127 10 42 15 50 6-149 10 60 15 72 6-146 10 58 16 69 6-145 10 59 15 71 6-147 10 57 15 68 6-151 10 56 15 67 6-147 10 71 15 84 6-157 10 61 15 72 6-170 10 72 16 84 5-154 11 60 15 71 6-167 10 75 15 89 5-164 11 80 15 94 5-162 10 68 16 79 6-171 10 78 15 93 6-161 10 71 16 84 5-151 10 65 15 77 6-175 10 73 5 28"/>
<path class="c3" d="M242 676l10 12 6-88 10 29 15 35 5-100 11 31 15 38 6-102 10 33 15 39 6-110 10 36 15 42 6-128 10 42 15 50 6-121 10 49 15 58 6-118 10 31 15 35 6-127 10 46 16 54 5-102 10 94 16 112 5-86 10 68 16 80 5-70 11 59 15 71 5-71 11 54 15 63 6-60 10 38 15 45 6-63 10 32 15 38 6-61 10 27 15 33 6-66 10 33 15 39 6-68 10 37 15 44 6-67 10 35 16 42 5-57 11 30 15 35 5-52 11 28 15 32 6-52 10 29 15 34 6-53 10 27 15 33 6-48 10 21 15 25 5-47 11 17 15 20 6-48 10 14 16 15 5-53 10 13 15 15 6-52 10 17 16 20 5-55 11 14 15 18 6-66 10 18 15 20 5-68 10 21 16 24 5-74 11 25 15 30 5-82 11 24 15 27 6-82 10 25 15 31 6-96 10 33 15 39 6-97 10 29 16 34 6-107 10 43 15 51 6-112 10 42 15 51 6-111 10 41 15 48 6-118 10 41 15 49 6-118 10 47 5 20"/>
<path class="c2" d="M242 675l9 15 5-96 11 35 15 41 6-102 10 33 15 39 6-105 10 33 15 38 6-120 10 41 15 48 6-123 10 45 16 52 5-112 10 38 15 46 6-129 10 42 16 49 5-116 10 48 16 57 5-104 10 85 15 102 6-91 11 74 15 86 6-76 10 64 16 75 5-66 10 49 15 57 6-61 10 34 15 41 6-66 10 21 16 24 6-66 10 30 15 34 5-76 11 21 15 25 6-87 10 26 15 30 6-90 10 32 15 39 6-94 10 29 15 34 6-111 10 36 15 43 5-118 11 44 15 52 6-114 10 42 15 50 6-118 10 47 16 57 6-124 10 47 15 57 5-132 11 52 15 62 6-115 10 44 15 52 5-125 11 52 15 61 6-131 10 47 15 55 6-132 10 51 15 61 6-149 10 64 16 76 5-144 10 59 15 70 6-132 10 53 16 63 6-157 10 65 14 77 6-140 10 62 16 72 5-152 11 66 15 77 6-154 10 65 16 77 5-160 10 71 15 85 5-150 11 69 15 80 5-148 11 66 15 78 6-156 10 65 6 28"/>
<path class="c3" d="M242 675l11 15 6-96 10 36 15 42 5-96 11 33 15 40 5-107 11 36 15 42 5-120 11 43 16 50 5-121 10 44 15 52 6-125 10 41 16 48 5-132 10 53 16 63 5-119 10 41 15 49 6-115 10 98 16 115 5-74 10 78 16 92 5-65 11 67 16 79 5-48 10 27 15 32 6-47 10 25 16 29 5-60 10 35 16 41 5-47 10 28 16 34 5-49 11 25 15 30 6-46 10 27 14 31 6-42 10 23 16 26 5-43 10 21 16 24 5-40 11 10 16 11 5-50 10 16 15 19 6-54 10 18 15 21 6-48 10 14 16 16 6-63 9 18 15 21 6-63 10 21 16 23 5-69 11 25 15 28 5-61 10 15 15 18 6-69 10 21 16 26 6-80 10 30 15 36 6-72 10 20 15 23 6-82 10 26 15 32 6-89 10 31 15 37 6-116 10 45 16 54 5-99 11 32 15 38 6-100 10 33 15 40 5-99 10 38 15 44 6-110 10 40 16 47 6-116 10 41 15 48 6-112 10 41 15 48 6-138 10 56 4 17"/>
<path class="c3" d="M242 676l9 13 6-97 10 36 15 42 6-86 10 26 15 31 6-109 10 38 16 46 6-113 10 44 14 52 6-131 10 46 15 54 6-119 10 34 15 40 6-115 11 48 15 56 6-123 10 64 16 76 5-89 10 86 16 100 5-64 10 55 16 65 5-66 10 37 15 43 5-67 11 34 16 40 6-68 10 41 15 49 6-70 10 36 15 41 5-71 10 44 16 53 5-58 10 41 16 48 5-53 11 30 15 35 6-50 10 28 15 34 6-52 10 28 15 33 5-45 11 14 16 16 5-55 10 16 16 19 5-58 10 20 15 22 6-52 10 15 16 18 5-58 10 15 15 19 6-66 10 22 16 26 6-68 10 22 15 26 5-70 11 23 15 27 6-78 10 23 15 29 6-73 10 23 16 28 5-78 10 23 16 28 5-98 11 33 15 39 6-109 10 36 15 43 5-97 10 40 16 47 5-104 11 32 15 38 5-112 11 36 15 42 6-112 10 41 15 48 6-136 10 62 15 72 5-144 11 56 15 66 6-127 10 50 16 59 5-136 10 63 6 31"/>
<path class="c3" d="M242 676l10 15 6-94 10 35 15 42 6-101 10 34 15 42 6-101 10 35 16 42 5-117 11 45 15 52 5-121 11 44 15 52 5-115 11 44 15 52 6-108 10 46 15 53 5-109 11 31 15 37 6-97 10 62 16 75 5-85 10 56 15 67 6-75 10 59 15 70 6-71 10 44 15 52 6-73 10 49 15 58 6-83 10 42 16 49 5-74 10 48 16 58 5-68 10 48 16 57 5-53 11 38 16 45 5-50 10 32 15 37 6-42 10 22 15 25 6-39 10 15 16 17 5-43 10 15 15 17 6-46 10 14 15 16 6-48 10 12 16 15 6-50 10 14 15 16 6-53 10 14 15 16 5-63 11 21 15 25 5-71 11 22 16 26 5-69 10 21 15 24 6-78 10 28 16 33 6-85 9 29 15 35 6-80 10 25 16 29 5-88 10 28 15 34 6-99 10 34 16 41 5-103 10 44 16 53 5-99 11 35 15 41 5-106 11 37 16 44 5-112 10 47 16 56 5-101 10 37 15 43 6-113 10 41 15 49 6-134 10 50 5 18"/>
<path class="c2" d="M242 673l10 18 5-99 11 39 15 46 6-99 10 34 15 40 6-104 10 37 16 45 5-102 10 33 15 40 6-112 10 40 15 48 6-110 10 39 16 47 5-119 10 46 15 54 5-119 11 36 15 43 6-99 10 105 16 124 5-58 10 77 16 91 5-52 11 43 15 51 6-46 10 28 16 32 5-55 10 17 15 20 6-54 10 12 15 16 6-60 10 17 15 20 6-69 10 24 16 28 5-76 10 22 15 25 6-76 10 21 16 25 5-86 11 27 15 32 6-106 10 39 15 46 5-101 11 36 15 43 6-110 10 39 15 46 6-120 10 32 15 39 6-116 10 46 16 56 5-121 10 49 16 58 5-133 11 49 15 57 5-143 11 52 15 62 5-148 11 60 15 72 6-134 10 57 15 68 6-155 10 66 15 77 6-151 10 66 15 77 6-139 10 61 15 73 6-145 10 58 15 70 6-152 10 61 15 71 6-144 10 64 16 76 5-159 11 67 15 78 6-153 10 66 15 78 6-163 10 74 15 87 6-162 10 68 15 79 6-158 10 68 5 27"/>
<path class="c2" d="M242 676l9 13 6-93 10 34 15 40 6-99 10 33 16 39 6-101 10 36 15 42 6-116 10 36 15 44 5-118 11 38 15 44 6-128 10 43 15 51 6-125 10 41 15 49 6-117 10 45 16 53 6-130 10 115 15 136 6-92 10 81 15 94 5-64 10 55 15 65 6-55 10 40 16 47 5-51 11 30 15 36 6-57 10 20 15 24 6-61 10 14 15 17 6-70 10 20 16 24 6-77 10 23 15 26 5-79 10 24 16 28 5-90 11 28 15 33 6-102 10 33 15 40 6-107 10 47 15 55 6-107 10 27 15 32 5-136 11 50 16 58 5-112 10 51 15 61 6-125 10 50 15 59 6-126 10 51 16 60 5-116 11 32 15 38 6-150 10 61 15 73 6-136 10 53 15 63 5-138 10 52 16 61 5-143 11 62 15 74 6-149 10 60 15 71 5-150 10 65 16 77 6-138 10 57 15 66 6-164 10 70 15 82 6-157 10 63 16 74 5-176 10 83 16 98 5-173 10 71 16 84 5-156 10 67 16 79 5-155 10 66 6 28"/>
<path class="c3" d="M242 674l10 14 5-95 11 33 15 38 5-97 11 34 15 39 5-96 11 31 15 38 6-109 10 38 15 45 5-133 10 48 16 56 5-114 11 38 15 46 6-121 11 48 15 55 6-117 10 44 15 51 5-84 10 88 15 105 6-83 11 83 15 98 6-59 10 52 15 60 6-55 10 30 15 36 5-51 10 24 16 28 5-55 11 33 15 40 6-62 10 36 15 42 6-49 10 28 16 32 5-45 10 31 15 37 6-40 10 22 16 27 5-40 11 20 15 23 6-42 10 20 15 22 5-44 10 16 16 18 5-41 11 11 16 15 5-41 10 12 15 14 6-47 10 14 16 16 5-55 11 20 15 24 6-51 10 13 15 17 5-60 10 19 16 24 6-56 10 20 15 22 6-65 10 21 15 24 6-69 10 20 15 25 6-80 10 27 16 32 5-75 10 25 15 30 6-84 10 28 16 34 5-97 10 33 15 40 6-98 10 38 16 45 5-92 10 32 16 38 5-96 11 37 15 44 5-101 11 34 15 41 6-107 10 44 15 51 5-107 11 37 5 15"/>
<path class="c2" d="M242 674l10 14 5-87 11 29 15 34 6-104 10 33 15 40 6-118 10 41 15 47 6-123 10 45 16 53 5-124 10 46 15 55 6-129 10 46 15 54 6-116 10 51 16 61 5-114 11 57 15 67 6-93 10 91 15 108 5-70 11 66 15 79 6-54 10 35 15 41 6-61 10 26 15 31 6-63 10 16 15 19 6-71 10 16 16 19 6-92 10 22 14 25 6-102 10 40 16 47 5-99 11 38 15 44 6-99 10 33 15 38 5-119 11 49 15 58 6-132 10 45 15 54 6-144 10 50 15 60 6-145 10 55 15 65 6-133 10 51 16 60 5-136 11 53 15 62 6-152 9 59 15 70 6-162 10 63 16 74 5-152 11 64 16 75 5-160 10 67 15 79 5-177 11 74 15 87 6-152 10 60 15 71 6-162 10 72 16 85 5-187 11 82 15 98 5-169 11 64 15 75 5-173 11 81 15 97 6-166 10 79 15 93 6-155 10 67 15 80 6-151 10 61 15 73 6-160 10 75 15 89 5-172 11 75 15 88 6-179 10 83 5 34"/>
<path class="c2" d="M242 674l10 15 5-89 11 31 15 37 5-94 10 30 15 36 6-109 10 37 15 45 6-115 10 43 16 50 5-132 10 50 16 60 5-105 10 38 16 46 6-119 10 44 15 54 6-114 10 42 15 49 6-117 10 86 15 102 6-80 10 73 16 87 5-61 10 45 15 54 6-61 10 36 15 43 6-70 10 41 16 48 6-63 10 31 15 36 5-60 11 16 15 20 5-79 11 25 15 28 6-86 10 32 15 39 6-85 10 29 15 34 6-84 10 26 16 32 5-113 11 42 15 50 6-101 10 37 15 44 6-115 10 40 15 47 5-122 10 41 16 49 5-112 11 50 15 59 6-112 10 42 15 50 6-118 10 43 15 51 6-122 10 44 16 52 5-144 10 59 15 69 6-131 10 56 16 66 5-140 10 52 16 62 5-157 11 64 15 75 6-129 10 53 15 62 5-134 11 55 15 64 5-142 10 61 16 72 6-145 10 56 15 65 6-159 10 69 15 81 5-147 11 71 16 83 5-158 11 66 15 77 6-163 10 77 15 91 6-150 10 66 5 28"/>
<path class="c2" d="M242 675l9 14 5-96 11 36 15 43 6-97 10 32 16 37 5-96 10 28 15 32 6-127 10 44 16 51 6-129 10 44 15 51 5-110 10 33 16 38 5-128 11 43 16 51 5-120 10 50 16 59 6-89 9 78 15 93 5-84 11 73 15 86 6-71 10 65 16 77 5-63 10 51 16 59 5-62 11 39 15 47 6-64 10 28 15 32 5-59 11 11 15 12 6-76 10 30 15 35 6-77 10 27 15 31 5-86 11 33 15 40 6-78 10 25 15 30 5-92 11 35 15 41 6-89 10 25 15 30 6-102 10 35 16 41 5-110 11 41 15 49 6-115 10 42 15 49 5-125 11 43 15 50 6-131 10 49 15 57 6-122 10 50 15 60 5-131 11 51 15 61 6-135 10 60 15 71 6-144 10 58 15 67 6-131 10 56 16 68 6-127 10 51 15 61 5-135 11 51 15 60 6-136 10 57 15 67 5-146 11 64 15 74 6-149 10 62 16 73 5-173 10 74 15 88 6-149 10 64 16 75 5-155 10 72 16 85 5-132 10 50 6 22"/>
<path class="c2" d="M242 674l9 16 6-96 10 35 15 42 6-100 10 34 16 40 5-97 11 32 15 39 6-110 10 40 15 48 6-117 10 42 15 50 6-124 10 38 15 44 6-112 10 41 15 48 6-112 10 56 15 66 6-110 10 112 16 133 5-50 10 56 15 66 6-49 10 26 16 30 6-59 10 18 15 21 5-69 11 27 15 31 6-82 10 28 15 33 6-77 10 23 15 27 6-91 10 28 15 34 6-95 10 31 16 38 6-116 10 44 14 52 6-102 10 34 15 40 6-119 10 43 16 50 5-130 11 52 15 60 5-127 11 45 15 53 6-131 10 54 15 63 6-144 10 61 15 74 6-139 10 57 16 66 6-141 10 48 15 56 5-161 10 69 15 81 6-136 10 56 16 66 5-167 10 74 16 87 5-138 10 55 16 66 5-146 11 66 15 78 6-156 10 70 15 83 5-161 11 71 16 83 5-151 10 70 15 84 6-169 10 75 15 89 6-123 10 46 16 54 6-160 9 67 15 80 6-168 10 71 16 85 6-180 10 82 15 97 5-170 11 74 5 30"/>
<path class="c3" d="M242 673l10 18 6-99 10 37 15 44 6-101 10 34 15 40 6-113 10 41 15 47 6-117 10 42 15 50 6-129 10 45 15 54 6-120 10 40 16 49 5-115 10 39 16 46 5-121 10 56 15 65 6-77 11 63 16 75 5-69 10 51 15 61 6-84 10 66 16 79 5-67 10 49 15 59 6-67 10 49 15 57 6-57 10 20 15 24 6-67 10 19 15 21 6-77 10 28 16 32 5-78 10 25 15 31 6-83 11 33 15 39 6-88 10 25 15 28 6-100 10 37 15 43 6-106 10 41 16 49 5-112 10 35 15 40 6-115 10 44 15 52 5-127 11 44 16 53 5-126 11 49 15 58 6-127 10 49 15 59 5-123 10 47 16 56 5-130 10 60 16 70 5-134 11 53 16 63 5-122 10 44 15 52 5-149 11 68 16 79 5-136 10 55 15 64 6-153 10 64 15 74 6-150 10 68 16 81 5-156 10 70 16 84 6-136 10 54 15 64 6-155 10 66 15 79 6-151 10 60 15 70 5-133 10 59 16 70 5-141 11 62 5 25"/>
<path class="c3" d="M242 676l10 14 5-97 10 35 16 43 6-107 10 38 15 45 6-104 10 36 15 43 6-121 10 48 15 56 6-112 10 39 15 45 6-116 10 39 15 46 6-122 10 41 16 47 5-121 10 37 16 45 6-122 10 102 15 121 5-78 10 72 16 85 5-64 11 65 15 76 6-62 10 42 15 50 6-51 10 29 15 34 6-58 10 33 15 40 6-55 10 26 16 31 5-55 10 18 16 21 6-58 9 18 15 21 6-63 10 24 15 30 6-61 10 15 16 17 5-74 11 26 15 30 6-84 10 30 15 36 6-84 10 31 15 37 6-84 10 30 15 35 6-81 10 24 15 28 6-100 10 29 16 35 5-94 11 36 15 43 5-114 11 40 15 47 6-123 10 51 15 60 6-105 10 38 15 46 6-115 10 45 15 54 6-121 10 42 16 50 5-113 10 50 15 58 5-133 11 60 15 71 6-108 10 41 16 48 5-129 11 49 15 57 6-130 10 54 15 64 5-142 11 63 15 74 6-128 10 53 15 63 5-136 11 55 16 64 5-162 10 74 5 29"/>
<path class="c3" d="M242 675l10 14 5-95 10 35 16 40 5-100 10 34 16 41 5-104 10 35 16 43 5-113 11 41 15 49 6-122 10 39 15 46 6-122 10 41 15 50 6-125 10 48 16 56 5-127 10 48 15 56 6-111 10 75 15 87 6-101 10 60 15 70 6-94 10 73 16 86 5-84 11 75 15 90 6-65 10 34 15 39 5-69 11 44 15 52 5-63 11 42 15 49 6-60 10 44 15 51 6-48 10 31 15 37 6-42 10 21 15 26 6-40 10 16 15 20 6-43 10 14 16 17 5-45 10 10 15 12 6-48 10 12 16 15 5-54 11 15 15 17 6-54 10 13 15 17 6-65 10 21 15 25 6-68 10 17 15 19 5-76 11 25 16 30 5-80 10 23 16 28 5-89 11 27 15 34 5-98 10 36 15 42 6-92 10 29 16 35 5-98 11 37 15 44 6-107 10 41 15 48 6-106 10 38 15 44 6-121 10 39 15 45 6-132 10 49 16 57 5-119 10 50 15 59 6-138 10 53 15 63 6-123 10 42 16 50 6-137 9 62 6 27"/>
<path class="c3" d="M242 675l11 16 5-84 10 29 15 35 6-91 10 31 15 37 6-100 10 31 16 36 5-115 10 44 16 53 5-111 11 36 15 43 6-120 10 44 14 52 6-134 10 50 16 59 5-129 10 44 16 52 5-101 11 98 16 116 5-86 10 78 15 92 6-69 10 59 16 70 5-54 10 36 16 43 5-57 10 25 15 30 6-59 10 24 16 29 6-55 10 25 15 30 6-61 10 21 14 25 6-63 10 17 16 20 5-73 11 20 15 24 6-83 10 27 15 31 6-91 10 23 15 27 6-104 10 36 16 43 5-97 10 34 16 40 5-106 10 40 15 47 6-107 10 39 16 47 5-115 11 42 15 48 6-126 10 40 15 47 6-119 10 47 15 54 5-139 11 56 16 65 6-142 10 52 15 62 5-126 10 51 15 59 6-141 10 53 15 61 6-157 10 73 16 86 6-147 10 59 15 70 6-148 10 61 15 71 5-145 11 67 15 79 6-143 10 60 15 72 6-160 10 74 15 87 5-155 11 66 16 77 5-158 11 66 15 77 5-157 11 72 4 25"/>
<path class="c2" d="M242 673l10 18 5-91 10 33 16 39 5-94 10 30 15 36 6-101 10 33 16 39 6-119 10 40 15 48 5-125 11 46 15 55 6-115 10 36 15 42 6-118 10 46 15 54 6-112 10 49 15 58 6-90 10 98 16 115 5-79 11 67 15 79 6-56 9 52 15 62 6-53 10 35 16 42 6-52 10 27 15 32 5-57 11 13 15 15 6-65 10 18 15 21 6-67 10 20 15 22 6-79 10 21 15 25 6-94 10 33 15 40 6-100 10 34 16 40 5-107 10 39 15 46 6-117 10 43 16 50 5-123 11 42 15 49 6-113 10 43 15 51 6-121 10 34 15 41 6-131 10 52 15 61 5-121 11 53 16 61 6-124 9 45 15 54 6-145 10 60 15 70 6-141 10 57 16 66 6-141 10 55 15 65 6-140 10 62 15 72 5-138 11 54 15 65 6-170 10 79 15 94 6-150 10 54 15 64 6-152 10 63 15 74 6-166 10 72 15 86 6-169 10 77 16 92 5-149 10 68 16 81 5-142 10 58 16 68 5-160 10 73 6 33"/>
<path class="c3" d="M242 677l9 11 6-97 10 37 16 43 6-100 10 35 15 41 6-102 10 38 15 46 6-106 10 38 16 44 5-119 10 37 15 44 6-121 10 44 15 52 6-110 10 40 16 48 6-117 9 32 15 38 6-93 10 89 16 104 6-73 10 69 15 80 5-66 11 65 15 76 6-64 10 35 16 41 6-60 10 29 15 35 5-70 10 33 15 39 6-59 10 39 16 45 5-60 10 35 15 42 6-53 10 35 16 41 5-43 11 24 15 30 6-41 10 26 15 30 5-42 11 21 15 25 6-38 10 18 15 22 5-37 11 14 15 17 6-41 10 12 16 14 5-42 10 13 15 15 6-41 10 12 16 14 5-53 11 18 15 22 6-55 10 18 15 22 6-52 10 17 15 19 6-56 10 16 16 18 5-62 10 24 15 28 6-64 10 19 16 24 5-63 10 22 15 26 6-80 10 24 16 29 5-82 10 28 16 34 5-85 11 29 15 34 5-85 11 28 15 34 5-89 11 28 15 34 5-111 10 44 16 51 5-105 11 40 15 48 6-111 10 43 5 18"/>
<path class="c2" d="M242 674l9 15 6-100 10 36 16 41 6-104 10 34 15 39 6-112 10 41 15 47 5-120 11 44 15 52 5-119 11 39 16 46 5-121 10 35 15 42 6-124 10 49 16 58 6-130 9 51 15 60 6-111 10 73 16 87 5-95 10 62 16 74 6-88 10 53 15 63 5-78 11 54 15 64 6-86 10 69 15 82 6-82 10 53 16 63 6-69 10 20 15 24 5-74 11 22 15 27 5-89 10 29 16 34 5-93 10 32 16 38 5-96 11 33 15 39 5-120 11 39 15 47 6-110 10 36 15 42 6-125 10 46 15 54 6-127 10 47 15 56 6-111 10 40 15 47 6-135 10 57 16 67 5-130 10 55 16 64 5-128 10 49 16 58 6-144 10 57 15 68 6-136 10 62 15 72 6-140 10 56 15 67 6-140 10 56 15 66 6-131 10 43 15 51 6-172 10 80 16 94 5-153 10 70 15 84 5-161 11 67 16 79 5-164 11 73 15 86 6-160 10 65 15 75 6-183 10 89 15 104 6-157 10 66 16 79 5-159 10 73 5 27"/>
<path class="c2" d="M242 675l11 16 5-93 10 34 15 41 6-96 10 35 16 41 5-109 11 40 15 46 6-103 10 38 15 46 6-138 10 44 15 51 6-128 10 40 16 47 5-117 10 46 16 55 5-122 10 39 15 48 6-128 10 87 16 103 5-72 10 60 15 72 6-71 10 47 16 56 5-86 11 57 15 67 6-82 10 65 16 76 5-72 10 40 15 47 6-69 10 32 15 39 6-60 10 12 15 15 6-70 10 24 16 28 5-85 10 26 16 32 5-87 10 31 16 36 5-91 11 29 15 34 6-111 10 38 15 44 5-102 11 34 16 40 5-121 10 43 15 50 6-124 10 48 15 57 5-123 11 47 16 56 5-133 11 46 15 55 5-123 10 48 16 57 5-128 11 55 15 66 5-140 11 53 15 64 6-134 10 57 15 67 5-146 10 61 16 72 5-147 11 53 15 61 6-144 10 55 15 65 6-131 10 57 15 68 6-153 10 70 16 82 5-163 10 64 16 75 5-146 10 76 15 90 6-161 10 75 16 89 5-148 10 65 16 76 5-141 10 58 5 21"/>
<path class="c2" d="M242 675l11 16 6-88 9 31 15 37 6-93 10 32 15 38 5-100 11 37 15 44 6-111 10 41 15 50 6-116 10 40 16 46 5-124 10 44 16 51 5-109 11 39 15 46 6-109 10 44 15 52 6-111 10 70 16 83 5-69 10 42 15 50 5-80 11 63 16 76 5-78 11 60 15 72 6-70 10 51 14 60 6-72 11 46 15 53 6-54 10 17 15 20 6-73 10 16 15 19 6-80 10 21 16 25 5-88 10 28 15 34 6-100 10 32 15 38 6-103 10 35 16 42 5-113 10 33 15 40 6-128 10 40 16 48 5-127 11 51 15 61 6-130 10 43 14 50 6-144 10 57 16 67 6-137 10 50 15 58 6-133 10 48 15 56 5-137 10 56 16 66 5-151 11 58 15 69 6-159 10 69 16 82 5-144 10 59 16 69 5-164 10 74 16 87 5-169 11 73 15 85 6-176 10 76 15 91 6-160 10 74 15 87 5-146 11 68 15 82 6-154 10 71 15 84 6-142 10 58 16 68 5-151 10 69 16 82 5-149 11 66 4 23"/>
<path class="c3" d="M242 674l9 17 6-96 10 36 16 43 5-93 11 29 15 34 5-102 10 38 16 45 5-117 11 43 15 51 6-118 10 39 15 46 6-109 10 33 15 39 6-111 10 46 15 54 6-110 10 34 16 40 6-80 10 120 15 143 5-51 10 62 15 74 6-46 10 24 16 29 5-50 11 28 15 34 6-57 10 32 15 38 6-55 10 29 15 35 6-45 10 27 15 31 6-49 10 22 15 26 6-49 10 16 15 19 6-47 10 11 15 13 6-59 10 17 16 21 5-67 10 25 16 28 6-70 10 24 15 28 5-67 11 21 15 25 6-72 10 21 15 26 6-87 10 28 15 34 6-92 10 33 16 39 5-94 10 34 16 41 6-89 9 34 15 40 6-103 10 36 15 43 6-93 10 30 16 36 6-101 10 37 15 44 6-115 10 45 15 54 6-105 10 36 15 43 6-120 10 47 15 55 5-112 11 50 15 59 6-111 10 51 15 59 6-127 10 52 15 61 6-116 10 47 16 55 5-118 10 44 16 53 5-135 11 53 15 63 6-134 10 58 5 24"/>
<path class="c2" d="M242 675l10 15 6-101 10 37 15 43 5-107 11 35 16 41 5-109 10 40 15 46 6-119 10 44 15 51 6-134 10 45 16 54 6-124 10 50 15 58 6-110 10 37 15 43 5-117 10 37 15 45 6-126 10 68 16 80 5-86 11 69 15 83 5-80 11 61 16 72 6-83 10 62 15 74 5-79 10 64 16 75 5-69 11 48 15 57 6-59 10 18 15 21 6-68 10 22 15 26 6-65 10 17 15 20 6-77 10 26 15 31 6-81 10 29 15 35 6-87 10 31 16 37 5-95 10 25 16 29 5-107 10 34 15 40 6-113 10 43 16 51 6-113 10 42 15 50 5-119 11 45 15 53 5-118 11 43 15 51 6-129 10 46 15 55 6-132 10 55 15 66 6-138 10 49 15 57 6-140 10 59 16 70 5-143 10 59 16 70 5-146 11 62 15 74 6-137 10 51 15 61 5-146 11 65 15 76 6-160 10 65 15 77 6-142 10 56 15 66 6-146 10 68 15 81 5-134 11 61 16 73 5-136 10 53 16 62 5-169 10 75 5 27"/>
<path class="c2" d="M242 676l11 14 6-95 9 35 15 41 6-103 10 37 16 43 6-104 10 38 15 44 6-115 10 38 15 45 6-126 10 48 15 56 5-127 11 44 16 51 5-115 10 37 15 45 6-108 10 42 16 49 6-93 10 67 15 79 5-100 11 67 15 79 6-78 10 61 15 73 6-67 10 56 16 65 5-68 10 47 15 55 6-71 10 44 15 52 6-62 10 33 16 39 5-56 10 14 15 17 5-61 11 16 15 20 6-71 10 15 16 17 6-80 10 20 15 23 6-88 10 27 15 33 5-102 11 31 16 36 5-112 10 47 16 55 5-109 10 35 15 42 6-122 10 45 15 54 6-122 10 43 16 51 6-126 10 39 15 47 5-143 11 57 15 67 5-131 10 51 16 59 5-135 11 61 15 72 6-142 10 61 15 71 5-138 11 54 15 65 6-153 10 66 15 79 6-151 10 61 15 72 6-145 10 67 15 80 6-136 10 53 16 62 5-137 11 59 15 69 5-140 11 59 15 71 6-161 10 67 15 78 6-156 10 66 15 77 6-146 10 72 4 23"/>
<path class="c3" d="M242 675l10 13 6-92 10 33 15 38 6-96 10 30 14 34 6-101 11 33 16 39 5-98 11 32 15 37 5-143 11 50 15 59 6-112 10 37 15 43 5-119 11 50 15 60 6-115 10 41 15 47 6-89 10 61 15 71 6-90 10 65 15 78 6-81 10 69 15 81 6-83 10 78 15 92 6-60 10 32 16 38 5-67 10 29 15 34 6-59 10 22 15 26 6-71 10 35 16 42 5-74 11 34 16 40 5-71 10 34 15 40 6-74 10 33 15 40 5-71 11 35 15 41 6-69 10 35 16 41 5-64 11 29 15 34 6-61 10 15 15 18 5-68 11 15 15 19 6-84 10 23 15 26 5-94 11 30 15 36 6-90 10 26 16 31 5-95 10 25 15 29 6-116 10 33 15 39 6-126 10 45 16 54 5-130 11 55 15 65 6-122 10 43 15 51 6-123 10 41 15 50 6-145 10 53 15 64 6-161 10 66 15 78 5-146 11 57 15 67 6-164 10 70 15 82 6-166 10 62 15 74 6-176 10 85 16 101 5-157 10 68 5 26"/>
<path class="c2" d="M242 674l10 16 6-96 10 34 15 41 6-100 10 35 16 41 5-103 11 35 15 41 6-114 10 44 15 53 5-126 11 43 15 51 6-125 10 48 15 57 6-119 10 42 15 51 5-128 10 61 16 72 5-112 11 105 16 123 6-69 10 73 15 87 6-49 10 42 15 50 6-49 10 24 15 28 5-45 11 17 15 20 5-58 11 13 16 15 5-65 10 23 15 27 6-66 10 20 16 23 5-77 10 24 16 29 5-85 10 29 15 34 5-84 11 24 15 29 6-100 10 37 16 43 6-97 10 34 15 40 5-110 10 39 15 45 6-117 11 44 15 52 6-111 10 39 15 47 6-124 10 46 15 55 6-120 10 41 16 49 5-119 10 44 15 52 6-141 10 58 16 69 5-138 11 55 15 65 6-128 10 48 15 56 6-150 10 68 15 81 6-143 10 57 15 68 6-133 10 52 15 61 6-170 10 78 15 93 6-140 10 65 15 78 5-158 11 71 15 84 6-157 10 69 16 81 5-159 10 74 16 87 5-136 10 55 15 65 6-160 10 71 5 26"/>
<path class="c2" d="M242 676l10 13 6-97 10 35 15 42 6-91 10 30 16 35 5-103 10 34 15 40 6-105 10 35 16 43 5-128 10 39 16 47 6-115 10 46 15 55 6-121 10 43 15 52 6-120 10 39 15 47 6-111 10 71 15 83 6-76 10 66 16 77 5-77 10 71 15 83 6-77 10 57 15 67 6-65 10 48 16 56 6-62 10 27 14 32 6-61 10 25 16 29 5-66 11 20 15 24 6-76 10 20 16 25 5-90 10 28 15 34 6-89 10 28 15 33 6-102 10 37 15 44 6-109 10 38 16 44 6-112 10 43 15 52 5-105 11 32 15 37 5-117 11 40 15 48 6-129 10 50 15 58 6-126 10 52 15 61 5-132 11 48 15 57 6-142 10 52 16 60 5-132 10 49 15 57 6-138 10 59 16 70 5-146 10 65 16 77 5-135 11 57 15 67 5-162 10 70 16 83 5-152 11 60 15 72 6-158 10 67 15 78 6-164 10 67 16 80 5-139 10 60 16 71 6-163 9 73 15 86 6-150 10 65 16 75 5-163 10 71 5 27"/>
<path class="c3" d="M242 674l10 14 6-105 10 38 15 45 5-99 11 33 15 39 6-104 10 38 15 46 6-111 10 39 15 45 6-126 10 46 16 53 5-122 11 45 15 52 6-114 10 37 16 43 5-120 10 49 16 58 5-106 10 66 15 77 5-95 11 63 16 76 5-87 10 73 15 85 6-71 10 48 15 57 6-72 10 35 16 42 6-81 10 47 15 56 5-63 11 41 15 48 6-59 10 34 15 41 5-55 10 35 16 42 6-62 10 38 15 45 6-53 10 31 16 36 5-49 10 24 16 28 5-48 11 11 15 13 5-56 10 14 15 17 6-63 10 19 16 23 5-64 10 16 16 19 5-65 11 17 15 20 5-77 11 22 15 27 6-84 10 26 15 31 6-89 10 28 15 32 6-84 10 24 15 30 6-101 10 40 16 46 5-98 11 34 16 41 5-100 10 35 15 42 6-104 10 34 14 40 6-120 10 43 16 52 6-127 10 49 15 57 6-130 10 47 15 55 6-135 10 55 16 66 5-132 10 54 15 65 6-126 10 51 15 61 6-151 10 62 5 22"/>
<path class="c3" d="M242 675l10 14 6-91 10 34 16 40 5-87 10 27 15 31 6-100 10 30 16 35 5-116 11 42 15 50 5-121 11 41 15 49 6-124 10 46 15 54 5-122 11 53 15 62 6-108 10 33 15 39 6-81 10 76 15 91 6-69 10 58 16 68 5-75 11 64 15 77 5-67 11 43 15 50 6-65 10 36 15 41 5-67 11 40 15 46 6-66 10 36 14 43 6-60 10 32 16 39 6-57 10 31 15 37 6-55 10 24 16 28 5-56 10 10 16 13 5-65 11 20 15 24 6-65 10 15 15 17 5-73 10 20 16 24 5-90 11 26 15 30 6-89 10 23 16 28 5-103 10 32 15 39 6-108 10 39 15 45 6-118 10 38 16 43 5-117 10 40 16 48 5-131 10 42 15 50 6-142 10 53 16 62 5-133 11 52 15 62 5-138 10 53 16 63 5-146 11 56 15 67 6-146 10 66 15 78 6-151 10 66 16 78 5-150 10 61 15 72 6-168 10 71 15 83 6-161 10 73 16 86 6-166 10 72 15 85 5-172 11 73 4 26"/>
<path class="c2" d="M242 675l10 15 6-104 10 39 15 47 5-102 10 36 16 43 5-113 11 42 16 48 6-105 10 39 14 45 6-124 10 48 15 57 6-124 10 50 16 59 5-115 10 44 15 52 6-113 10 32 16 38 6-74 10 53 15 62 5-72 11 54 15 64 6-78 10 59 15 68 5-70 11 47 15 56 6-69 10 49 16 57 5-63 10 36 16 42 6-66 10 34 15 41 5-67 11 21 15 24 5-63 10 16 16 20 5-86 11 27 15 32 6-87 10 30 15 36 5-93 11 34 15 40 5-96 11 31 15 37 6-103 10 35 16 40 5-115 10 41 15 47 6-120 10 45 16 54 5-122 11 46 15 54 6-125 10 52 14 61 6-120 10 47 15 55 6-122 10 39 16 47 6-138 10 56 15 66 5-138 11 57 15 67 6-142 10 57 15 67 6-142 10 57 16 67 5-156 10 70 15 84 6-152 10 63 15 74 6-147 10 63 16 75 6-163 10 71 15 83 6-140 10 60 15 71 6-135 10 67 15 79 6-129 10 58 15 68 6-154 10 65 5 27"/>
<path class="c3" d="M242 674l10 16 5-95 11 36 15 43 6-103 10 36 15 41 6-107 10 39 16 45 5-119 10 43 15 51 6-121 10 37 16 45 5-109 10 37 16 45 5-113 11 39 15 47 6-118 10 39 15 46 6-103 10 64 15 77 6-67 10 60 16 72 5-80 10 66 16 77 5-80 10 55 16 65 5-72 10 43 15 49 6-78 10 40 16 46 5-77 10 45 15 52 6-76 10 37 16 43 5-70 11 29 15 35 6-71 10 27 15 32 5-71 11 27 15 32 6-78 10 25 15 29 6-91 10 32 15 38 6-91 10 30 15 36 6-97 10 29 15 34 5-100 11 29 16 33 5-109 10 35 16 42 6-108 10 41 15 48 5-114 11 39 15 46 6-127 10 55 15 66 5-140 11 47 16 55 6-146 9 58 15 68 6-134 10 54 16 63 5-142 10 58 16 69 5-134 10 46 16 54 5-139 10 58 16 68 5-132 10 60 15 70 6-157 10 69 16 81 5-152 11 71 15 83 6-126 10 50 15 59 5-150 11 61 16 73 5-175 10 82 5 32"/>
<path class="c3" d="M242 675l10 15 6-97 10 37 16 44 5-97 10 35 15 40 6-99 10 36 16 43 5-112 11 41 15 49 6-122 10 41 15 48 5-117 10 48 15 56 6-104 10 32 16 39 5-113 11 48 15 57 5-106 11 112 16 133 5-51 10 60 15 71 6-44 10 23 15 27 6-56 10 25 16 30 5-63 11 31 15 38 6-67 10 31 15 37 5-61 11 30 15 35 6-56 10 31 14 36 6-54 10 25 16 29 5-61 11 18 15 22 6-73 10 24 15 27 6-76 10 28 15 34 6-72 10 25 15 30 6-80 10 23 15 27 6-96 10 31 16 36 6-93 10 32 15 37 6-93 10 36 15 44 5-97 10 33 16 39 5-107 11 40 15 48 6-103 10 31 15 36 6-103 10 36 16 43 5-114 10 43 16 52 5-124 10 39 15 47 6-125 10 52 16 63 5-114 11 44 15 52 5-137 11 53 15 62 6-141 10 55 15 66 5-128 11 57 16 66 5-125 10 55 15 65 6-155 10 63 15 75 6-154 10 68 15 80 6-152 10 61 5 25"/>
<path class="c2" d="M242 675l10 14 6-96 10 35 15 40 6-99 10 35 15 40 6-104 10 33 15 38 6-113 10 42 15 50 6-121 10 38 15 44 6-121 10 40 16 47 5-116 11 42 15 50 6-118 10 36 15 43 5-120 10 113 16 135 5-81 11 98 15 116 6-56 10 47 15 56 6-48 10 10 15 11 6-65 10 10 16 12 6-82 10 23 15 27 6-95 9 29 15 35 6-88 10 25 16 30 5-93 10 32 15 38 6-125 11 42 15 50 6-117 10 37 14 44 6-130 11 44 15 52 6-155 10 54 15 63 6-166 10 71 15 84 5-171 11 71 16 85 6-167 10 65 15 76 5-151 10 54 16 64 5-156 10 69 16 82 5-162 11 61 15 72 6-155 10 70 16 83 5-168 10 74 15 89 6-160 10 65 16 76 5-174 10 78 15 92 6-161 10 71 16 85 5-145 10 69 16 82 5-158 10 70 15 83 6-155 10 61 16 72 6-168 10 78 15 92 5-171 11 77 15 91 6-163 10 81 15 96 6-165 10 74 16 88 5-160 10 72 5 28"/>
<path class="c2" d="M242 675l10 13 6-99 10 37 15 42 6-101 10 36 16 42 5-109 10 39 14 45 6-109 11 37 15 44 6-121 10 46 16 54 5-119 11 44 15 52 5-119 11 40 15 47 6-118 10 32 15 38 5-124 11 87 15 102 5-95 11 81 15 96 6-85 10 70 15 83 6-69 10 53 15 62 6-62 10 45 16 54 6-64 9 32 15 38 6-54 10 18 16 21 5-63 10 21 16 25 5-58 10 17 16 20 6-74 10 24 15 29 5-78 11 33 15 38 6-85 10 27 15 32 6-97 10 28 16 33 5-102 10 36 16 43 5-100 10 31 16 36 5-108 11 39 15 45 5-112 10 40 15 47 6-115 10 42 16 50 5-118 10 44 16 52 5-124 11 49 15 59 6-117 10 45 16 53 6-134 9 47 15 55 5-124 11 58 16 68 5-140 10 54 16 65 5-135 10 50 16 58 5-134 10 61 16 73 5-150 11 57 15 68 5-155 11 68 15 81 6-146 10 63 15 74 6-156 10 72 15 86 6-146 10 55 15 65 6-169 10 72 5 29"/>
<path class="c3" d="M242 673l10 17 6-98 10 37 15 45 6-100 10 33 15 39 6-98 10 35 15 42 6-111 10 40 15 47 6-121 10 47 16 55 5-123 10 41 16 49 5-116 10 41 15 49 6-118 10 39 16 45 5-96 11 75 15 89 6-95 10 85 15 100 6-70 10 67 15 80 5-56 10 27 16 32 5-59 10 19 16 23 6-76 10 47 16 55 6-68 9 35 15 42 6-63 10 35 15 41 6-60 10 32 16 38 6-59 10 31 15 37 5-57 11 28 15 33 6-63 10 35 15 41 6-54 10 25 15 29 6-58 10 24 16 28 5-54 10 14 15 16 6-53 10 9 15 9 6-63 10 17 16 20 6-69 10 20 15 22 5-75 11 23 15 27 6-77 10 24 15 28 5-87 11 29 15 35 6-93 10 28 16 33 5-91 10 28 15 34 6-108 10 38 16 46 5-108 10 38 16 45 5-109 10 40 15 46 6-125 10 45 16 53 6-117 10 42 15 50 6-147 10 60 15 70 6-131 10 55 15 65 6-143 10 57 16 67 5-155 10 56 5 20"/>
<path class="c2" d="M242 676l9 14 5-94 11 34 16 41 6-99 10 33 15 39 6-109 10 41 15 47 5-107 11 40 15 47 5-119 11 37 15 44 6-126 10 35 16 40 6-134 10 49 15 59 5-127 11 53 15 62 5-98 10 89 16 106 5-72 10 75 16 87 5-59 11 50 15 60 6-61 10 39 16 46 5-60 10 30 15 35 6-64 10 17 16 20 5-79 10 25 15 29 6-82 10 26 16 31 5-82 10 16 15 20 6-97 10 25 15 30 6-124 10 44 16 53 6-129 10 50 15 59 5-128 11 41 15 48 6-137 10 46 15 55 5-140 11 59 16 68 5-140 10 57 15 66 6-144 10 62 15 74 6-147 10 66 15 79 6-144 10 59 16 68 6-140 10 51 15 60 5-154 11 70 15 82 6-158 10 63 15 74 5-157 11 65 15 77 6-179 10 83 15 98 6-158 10 67 15 78 6-168 10 72 15 85 6-153 10 66 16 77 5-152 10 68 16 80 5-169 10 75 15 88 6-157 11 72 15 86 6-157 10 71 15 85 6-159 10 72 5 29"/>
<path class="c2" d="M242 677l10 12 5-100 10 36 15 43 6-91 10 29 16 35 6-111 10 39 15 46 6-115 10 43 15 52 6-118 10 47 15 57 6-119 10 41 16 48 6-117 10 39 15 46 5-120 11 45 15 54 6-107 10 86 15 101 6-74 10 67 15 80 6-65 10 69 15 82 6-60 10 44 15 53 6-47 10 7 15 10 5-73 11 16 16 18 5-80 10 24 16 28 5-82 10 28 16 32 5-88 10 27 15 32 6-100 10 30 16 36 6-112 10 33 15 40 5-126 11 38 15 45 6-131 10 50 15 59 6-129 10 47 15 55 6-135 10 50 15 58 6-135 10 47 16 56 5-153 10 71 16 84 5-152 10 60 16 71 5-168 11 70 15 82 6-145 10 54 15 65 6-149 10 65 14 77 6-156 11 64 15 75 6-157 10 62 16 72 5-156 10 72 15 86 6-171 10 80 16 94 5-164 10 76 15 90 6-159 10 69 16 81 6-149 10 70 15 83 5-148 11 61 15 71 5-162 11 72 15 87 5-161 11 70 15 82 6-151 10 68 5 26"/>
<path class="c3" d="M242 672l9 18 6-95 10 35 16 41 5-98 10 32 16 39 5-106 10 39 15 47 6-112 10 38 16 45 6-114 10 41 14 49 6-109 10 33 16 38 5-120 11 49 15 58 6-116 10 39 15 47 6-96 10 82 15 98 6-71 10 62 15 74 6-68 10 65 16 76 5-60 10 44 15 51 6-57 10 27 16 33 5-67 11 35 15 42 6-61 10 33 15 40 6-60 10 35 16 41 5-50 10 28 15 33 6-49 10 27 15 31 6-49 10 27 16 32 6-41 10 19 15 23 5-49 10 21 16 24 5-42 10 6 15 7 6-47 10 13 16 15 5-52 11 9 15 11 5-61 11 17 15 19 6-67 10 16 15 18 6-84 10 23 15 28 5-82 11 25 15 28 6-89 10 27 15 32 6-93 10 25 16 29 5-89 11 25 15 30 5-104 11 34 15 40 5-137 10 48 16 56 5-128 11 46 15 54 6-140 10 54 16 63 5-115 10 43 15 50 6-138 10 58 16 68 5-142 10 57 15 66 6-148 10 65 16 76 5-151 10 64 6 27"/>
<path class="c3" d="M242 675l10 16 5-97 11 36 15 42 6-94 10 32 15 39 5-102 11 32 15 38 6-114 10 40 16 46 5-126 10 43 15 51 6-109 10 34 15 41 6-110 10 41 15 48 6-117 10 56 16 67 6-106 10 87 15 104 6-81 10 74 15 88 6-69 10 53 15 62 6-54 10 40 15 48 6-60 10 32 16 39 5-61 11 28 15 33 5-61 10 21 15 26 6-62 11 17 15 19 6-74 10 17 14 21 6-74 11 20 15 24 6-83 10 23 15 27 6-113 10 32 15 38 6-125 10 46 15 54 6-117 10 42 15 49 6-110 10 38 16 46 6-119 10 38 15 44 5-139 11 54 15 63 6-146 10 54 15 63 6-142 10 55 15 64 6-151 10 67 15 80 6-140 10 59 15 68 6-133 10 59 16 71 5-147 10 56 15 65 5-143 11 55 16 66 6-155 10 63 15 74 5-165 11 79 15 94 5-155 11 70 15 82 5-157 11 65 15 76 6-160 10 76 15 89 6-159 10 63 15 75 6-167 10 79 15 93 6-162 10 76 5 31"/>
<path class="c3" d="M242 675l10 17 5-94 11 36 16 43 5-96 10 34 15 40 6-101 10 37 15 43 5-101 11 36 15 44 6-129 10 46 16 54 5-123 10 45 15 54 6-110 10 44 15 52 6-104 10 39 16 45 5-77 10 52 16 62 5-65 11 44 15 51 6-76 10 63 15 74 5-69 11 42 15 50 6-71 10 39 15 46 6-71 10 30 15 36 6-78 10 47 15 56 6-67 10 42 16 49 5-69 10 41 16 49 5-63 10 39 16 46 5-56 11 31 15 37 6-49 10 23 15 28 6-56 10 19 15 23 6-58 10 16 15 18 6-58 10 14 16 17 5-71 10 26 15 30 6-66 10 19 15 21 6-79 10 26 16 31 5-80 10 28 16 32 5-79 11 26 15 30 5-85 11 27 15 31 6-95 10 31 15 37 5-94 10 32 16 37 5-103 11 32 15 38 6-116 10 41 15 49 6-107 10 37 16 44 5-116 10 44 15 52 6-124 11 53 15 63 6-130 10 46 14 55 6-125 10 53 17 64 5-127 10 56 15 68 6-130 10 54 5 21"/>
<path class="c2" d="M242 676l9 13 6-102 10 37 16 45 5-105 10 36 16 42 5-100 10 33 16 40 5-107 10 40 16 47 5-123 11 35 15 42 5-128 11 47 15 55 6-119 10 47 15 55 6-119 10 40 15 48 6-103 10 88 15 103 6-94 10 78 15 92 6-63 10 63 16 75 5-62 11 47 15 56 5-58 11 16 15 19 6-70 10 20 15 24 5-63 11 16 16 18 6-86 9 36 15 43 6-91 10 34 15 39 5-90 11 25 16 29 5-104 11 33 15 40 6-120 10 44 15 51 6-115 10 42 15 49 6-132 10 48 15 57 5-116 11 42 15 50 6-122 10 40 15 47 6-159 10 60 16 70 6-128 9 45 15 54 6-141 10 56 16 66 5-151 10 58 15 69 6-153 11 60 15 71 6-166 10 79 15 94 5-156 11 71 15 85 6-149 10 64 15 77 5-160 11 63 15 74 6-163 10 67 15 80 6-156 10 71 16 85 5-158 10 76 15 89 6-181 10 90 16 107 6-153 10 65 14 77 6-170 10 79 16 93 6-140 10 64 5 26"/>
<path class="c2" d="M242 676l10 14 5-88 11 32 15 37 5-98 11 34 15 40 5-96 10 37 15 44 6-105 11 39 16 46 5-125 10 44 15 51 6-111 10 35 15 42 6-116 10 30 15 36 6-123 10 55 16 64 6-115 10 77 15 91 6-80 10 56 15 66 6-81 10 61 15 73 6-79 10 65 15 78 6-67 10 50 16 59 5-68 10 29 16 34 5-62 10 18 16 21 5-81 10 31 15 37 6-81 10 27 16 32 5-80 11 23 15 27 5-101 11 37 15 43 6-107 10 39 15 45 6-100 10 37 16 43 5-106 10 37 16 43 5-114 10 45 15 52 6-119 10 43 16 52 5-128 10 46 15 54 6-133 10 49 16 57 5-131 10 52 16 62 5-134 10 51 16 61 5-144 11 59 15 69 6-139 10 55 15 65 6-154 10 65 16 76 5-151 10 64 15 76 6-139 10 54 16 65 5-147 10 66 16 78 5-157 11 65 15 76 6-148 10 61 15 73 5-152 11 71 15 83 6-147 10 66 16 79 5-154 10 73 15 85 6-151 10 65 5 26"/>
<path class="c2" d="M242 674l11 15 5-98 10 35 15 41 5-99 11 33 15 39 6-94 10 30 16 36 6-116 10 43 15 50 6-128 9 43 15 51 6-132 10 48 16 57 5-111 11 40 16 48 5-122 10 32 15 37 6-109 10 79 15 93 5-95 11 73 16 86 5-85 10 62 15 74 6-77 10 61 16 73 5-69 10 50 15 60 6-68 10 48 16 57 5-54 11 24 15 28 5-63 11 16 15 18 6-68 10 15 15 18 6-80 10 20 15 23 6-84 10 26 15 31 5-91 11 29 16 34 5-95 10 32 16 37 5-113 10 35 16 42 5-117 10 34 16 40 5-122 11 45 15 53 6-133 10 52 15 62 6-142 10 53 15 64 6-145 10 55 15 65 6-129 10 53 15 63 6-134 10 50 16 59 6-147 10 54 15 65 6-161 10 75 15 87 5-147 10 63 15 75 5-156 11 67 16 79 5-165 11 64 15 76 5-152 10 69 15 82 6-133 11 52 15 60 6-163 10 75 15 87 6-161 10 72 15 86 6-173 10 79 16 95 6-160 10 74 4 26"/>
<path class="c3" d="M242 674l9 16 6-96 10 34 16 40 6-100 10 33 15 40 5-95 11 32 15 37 6-115 10 43 15 50 6-120 10 38 15 45 6-117 10 35 16 40 5-127 10 47 16 56 5-113 10 51 15 60 6-112 10 80 15 93 6-86 10 74 16 87 5-72 11 56 16 67 5-69 10 61 15 72 6-54 10 30 16 37 5-69 10 30 15 35 6-56 10 26 16 32 5-64 10 30 15 34 5-65 11 29 16 34 5-64 10 20 15 23 6-72 10 19 16 23 6-86 10 20 15 24 5-97 11 28 15 33 6-91 10 28 16 34 5-106 10 34 15 41 6-113 10 43 15 50 6-127 10 40 16 47 6-120 9 42 15 49 6-142 10 51 16 60 5-120 10 43 16 50 6-136 10 50 15 59 5-167 11 74 15 86 6-148 10 66 15 79 6-153 10 57 15 68 6-160 10 69 16 82 6-161 10 68 15 81 5-165 10 69 16 82 5-140 11 54 15 64 6-149 10 69 15 80 6-156 10 68 15 81 6-162 10 81 15 96 6-157 10 67 5 25"/>
<path class="c3" d="M242 675l10 15 6-96 9 36 15 42 6-99 10 31 16 36 6-100 10 31 15 37 6-118 10 42 15 51 6-123 10 46 15 55 6-125 10 51 16 61 5-116 10 39 16 45 5-122 10 46 16 53 5-78 11 61 15 73 6-63 10 52 14 62 6-79 10 62 16 75 6-71 10 51 15 60 6-71 10 51 15 60 6-71 10 36 15 42 6-61 10 35 15 42 6-59 10 31 16 38 5-57 10 34 16 40 5-51 11 34 15 40 6-46 10 23 14 27 6-49 10 24 16 28 6-43 10 21 15 24 6-44 10 20 15 23 6-43 10 11 16 14 5-46 11 15 15 18 6-48 10 13 15 15 6-50 10 15 15 17 5-61 11 17 15 21 5-60 10 20 16 24 5-68 11 19 15 22 6-61 10 16 16 19 5-75 10 26 15 32 6-85 10 33 15 38 6-86 10 30 15 37 6-93 10 36 15 42 6-89 10 30 16 36 6-104 10 42 16 49 5-100 10 34 15 42 5-102 11 32 16 38 5-114 10 49 15 58 6-109 10 44 5 16"/>
<path class="c3" d="M242 675l9 16 6-105 10 39 16 46 5-113 10 40 16 47 5-91 10 32 16 39 5-112 10 45 16 52 5-118 11 40 15 49 5-113 11 38 15 46 5-119 11 45 15 54 6-110 10 32 16 39 5-89 10 84 15 99 5-89 11 73 15 87 6-75 10 60 15 71 6-60 10 39 16 46 6-57 10 41 15 47 6-57 10 36 15 43 6-51 10 33 15 38 5-44 11 18 16 22 5-43 10 11 15 12 6-49 10 13 16 15 5-62 10 19 15 21 6-70 10 18 16 20 6-69 10 19 15 23 6-77 10 20 14 23 6-99 10 38 16 45 6-100 10 35 15 42 5-100 11 32 15 38 6-99 10 29 15 34 6-109 10 44 16 53 5-113 10 39 15 45 6-118 10 49 16 58 5-120 11 41 15 49 6-117 10 41 15 49 6-147 10 54 15 65 5-125 11 52 15 62 5-136 11 53 15 62 5-136 11 59 15 70 6-141 10 68 15 80 5-151 11 56 16 67 5-139 11 54 15 64 5-163 10 72 15 85 6-152 10 67 6 29"/>
<path class="c2" d="M242 674l10 15 6-89 10 31 16 36 5-94 10 30 15 36 6-100 10 33 15 40 6-118 10 42 16 51 5-124 10 42 15 49 6-115 10 41 16 49 6-111 10 43 15 50 6-121 10 55 16 65 5-108 10 98 15 115 6-71 10 75 15 89 6-54 10 51 15 62 6-52 10 21 15 26 6-48 10 17 16 21 5-61 10 17 15 19 6-64 10 12 16 15 5-80 11 21 15 26 6-85 10 26 15 30 6-94 10 30 15 36 6-100 10 29 15 34 6-120 10 44 15 53 6-119 10 40 15 48 6-124 10 43 16 51 5-132 10 52 16 60 5-137 10 57 16 67 6-151 10 56 15 66 6-143 10 59 15 70 6-145 10 55 15 65 6-153 10 67 16 79 5-155 10 60 16 71 6-152 10 67 15 79 6-152 10 52 15 61 5-162 10 75 16 88 5-183 11 74 15 87 6-161 10 77 15 90 6-165 10 82 15 97 6-167 10 69 15 81 6-166 10 76 16 92 5-172 10 72 15 85 6-157 10 68 16 80 6-162 10 76 4 27"/>
<path class="c3" d="M242 676l11 13 5-101 10 37 15 44 6-104 10 36 16 43 6-100 10 32 15 38 5-111 11 43 15 50 6-125 10 40 15 46 6-123 10 40 16 47 5-118 10 46 15 55 6-117 10 57 15 67 6-73 10 76 16 90 5-56 10 52 15 63 6-64 10 46 16 56 6-64 10 36 15 43 6-71 10 69 15 81 5-48 11 22 15 27 6-51 10 13 15 15 6-55 10 16 15 19 5-68 11 17 15 19 6-81 10 26 16 31 5-82 11 32 15 38 6-88 10 27 15 32 6-95 10 30 15 35 6-96 10 31 15 37 6-97 10 32 16 38 5-106 11 33 15 40 6-118 10 41 14 48 6-125 10 47 16 55 6-111 10 43 15 50 5-129 11 54 15 64 5-115 11 39 16 47 5-142 10 59 15 69 6-135 10 54 15 64 6-167 10 66 15 79 5-161 11 71 15 83 6-143 10 57 16 68 6-152 9 68 15 81 6-155 10 59 16 70 6-159 10 70 15 82 6-142 10 64 15 75 6-152 10 76 15 90 6-150 10 68 4 21"/>
<path class="c3" d="M242 676l10 13 5-99 11 34 15 42 6-102 10 34 16 40 5-108 10 39 16 46 5-110 11 33 15 37 5-128 10 46 16 55 5-115 10 32 16 39 6-137 10 52 15 61 6-129 10 50 15 59 6-122 10 82 15 98 6-87 10 75 16 90 5-83 10 80 16 95 5-65 10 39 16 46 5-65 10 36 16 43 5-73 10 35 16 42 6-65 10 20 15 23 5-74 11 22 15 26 6-84 10 24 15 29 5-92 11 40 15 48 6-98 10 30 15 35 6-110 10 38 15 46 6-122 10 42 15 51 6-101 10 32 16 38 6-120 10 47 15 54 6-137 10 55 15 64 6-139 10 53 15 62 6-134 10 51 15 59 6-125 10 48 15 56 6-129 10 53 15 63 6-131 10 52 16 60 5-153 10 65 16 77 5-142 10 62 15 74 6-135 10 56 16 65 5-136 11 58 15 69 5-139 11 54 15 64 5-156 11 70 15 82 6-146 10 65 15 78 5-156 11 64 15 77 6-168 10 78 16 93 5-161 10 72 16 86 5-160 10 71 5 28"/>
<path class="c3" d="M242 676l11 15 5-86 10 32 15 38 6-91 10 29 15 35 6-94 10 32 15 37 6-103 10 37 16 44 5-123 11 42 15 49 6-130 10 51 15 60 5-98 11 34 15 41 6-112 10 34 15 41 6-97 10 97 15 116 6-80 10 65 15 77 6-63 10 43 16 51 5-64 10 37 16 44 5-63 10 42 16 51 5-67 10 48 16 56 5-52 11 34 16 39 5-47 10 22 15 27 6-47 10 18 15 22 6-54 10 16 15 19 6-52 10 14 15 16 6-62 10 20 15 23 6-69 10 17 15 21 6-73 10 25 16 30 6-71 10 20 15 23 5-88 11 30 15 36 5-90 10 30 15 36 6-95 11 29 15 34 6-99 10 31 16 36 5-103 10 39 15 47 6-118 10 42 16 50 5-116 10 38 16 44 5-126 11 46 15 56 5-131 11 56 15 66 6-121 10 51 15 60 5-128 11 56 15 66 6-126 10 43 15 52 6-162 10 71 15 85 6-135 10 49 15 58 6-145 10 65 15 77 6-137 10 52 16 63 6-147 10 65 4 23"/>
<path class="c2" d="M242 675l9 13 6-96 10 33 15 39 6-108 10 40 16 46 5-98 10 32 16 38 5-124 11 44 15 53 6-128 10 48 15 57 6-116 10 47 15 55 6-105 10 40 15 47 6-120 10 36 15 42 6-118 10 92 16 109 5-87 10 83 16 98 5-60 10 54 16 63 5-61 10 47 16 55 6-61 10 36 15 43 6-53 10 27 15 32 5-49 11 14 15 16 5-58 11 16 15 19 6-63 10 14 16 18 5-75 10 17 16 20 5-88 10 32 15 37 5-83 11 26 16 31 5-99 11 36 15 44 6-100 9 36 15 42 6-106 10 38 16 45 6-108 10 43 15 51 6-101 10 33 15 39 6-118 10 34 15 40 6-116 10 44 15 51 6-124 10 43 16 50 5-139 10 55 16 65 5-145 10 59 15 70 6-132 10 48 16 56 5-148 11 64 15 75 6-171 10 73 15 85 6-165 10 74 15 89 6-140 10 57 15 67 6-135 10 62 15 74 6-150 10 59 15 70 6-159 10 67 16 80 5-160 11 71 15 83 6-171 10 73 5 31"/>
<path class="c2" d="M242 677l10 13 6-98 10 36 15 43 5-94 11 29 15 35 6-99 10 33 15 39 5-110 11 41 16 48 5-121 10 46 16 54 5-115 11 36 15 43 6-128 10 48 15 56 6-113 10 47 15 57 6-113 10 94 15 111 6-68 10 68 16 80 5-63 10 58 15 68 6-55 10 41 15 48 6-55 10 29 15 35 6-57 10 24 16 27 5-52 10 13 16 16 5-62 10 21 16 25 5-64 10 15 16 18 5-81 11 20 15 24 6-84 10 26 15 31 6-90 10 30 15 34 6-103 10 30 15 36 6-114 10 38 15 45 6-122 10 44 15 51 6-119 10 40 16 46 5-126 11 52 15 61 5-119 11 42 15 50 5-129 11 54 15 63 5-141 11 61 15 71 6-134 10 56 15 65 6-137 10 49 15 58 6-142 10 59 15 70 5-151 11 60 16 71 5-159 10 74 15 87 6-146 10 61 16 72 5-161 11 67 15 79 5-154 11 65 15 77 5-150 11 59 16 69 5-158 10 74 15 88 5-181 11 80 15 95 6-164 10 75 5 31"/>
<path class="c2" d="M242 678l9 9 6-93 10 33 16 39 5-98 10 31 16 37 6-110 10 38 15 45 6-114 10 39 15 47 5-123 11 44 15 51 6-121 10 35 16 42 5-113 10 49 15 58 6-120 10 47 16 56 5-84 10 61 16 73 5-65 10 54 16 64 5-76 11 51 15 61 6-80 10 76 15 90 6-67 10 29 15 34 6-73 10 23 15 28 6-85 10 23 16 28 5-86 10 36 15 42 6-93 10 26 16 31 5-116 10 38 15 46 6-109 10 36 15 44 6-134 10 45 16 54 5-139 10 57 16 68 5-144 11 55 15 65 6-148 10 52 16 62 5-140 10 57 16 67 5-152 10 62 15 73 6-154 10 56 16 66 5-148 10 58 15 67 6-169 10 69 16 81 5-149 11 72 15 86 5-160 11 62 15 74 6-153 10 66 15 78 6-161 10 71 15 84 6-162 10 68 16 82 6-166 10 66 15 79 5-183 10 83 15 99 6-149 10 73 16 85 5-146 10 64 15 76 6-168 10 78 16 93 5-186 11 80 15 94 6-177 10 85 5 34"/>
<path class="c2" d="M242 673l9 16 6-93 10 33 16 39 6-92 10 29 15 34 6-105 10 36 15 43 6-115 10 46 15 54 6-112 10 35 15 42 6-111 10 41 15 49 6-116 10 43 16 51 5-122 11 45 15 52 6-115 10 107 15 128 5-54 11 89 15 105 5-45 11 25 15 30 6-43 10 9 15 10 6-58 10 13 15 14 6-69 10 19 16 23 5-85 10 30 15 35 6-89 10 30 16 36 5-88 11 32 15 39 5-96 10 32 16 38 5-109 11 36 16 43 5-111 10 39 15 47 6-131 10 53 15 64 6-120 10 46 15 53 6-113 10 37 15 43 6-132 10 50 15 60 6-159 11 66 16 77 5-142 10 49 15 57 6-150 10 60 15 71 5-150 11 65 15 77 6-151 10 56 15 67 6-154 10 65 15 76 6-155 10 66 16 77 5-158 10 67 16 79 5-149 10 63 16 76 5-165 10 71 15 84 6-168 10 73 16 86 5-158 10 71 16 84 6-180 10 78 15 93 6-174 10 82 15 96 6-172 10 74 15 87 6-148 10 76 5 31"/>
<path class="c2" d="M242 675l10 14 6-100 10 38 15 45 6-95 10 32 16 38 5-105 10 38 16 46 6-115 10 43 15 52 5-115 10 36 15 43 6-113 11 41 15 48 6-103 10 32 16 38 5-109 10 40 15 48 5-82 11 70 15 83 6-84 10 74 15 87 6-62 10 54 15 63 6-63 10 49 16 59 6-56 10 33 14 39 6-59 10 29 16 34 5-54 11 13 15 16 6-65 10 20 15 25 5-68 11 22 15 26 5-83 11 28 15 33 6-87 10 29 15 35 6-99 10 33 16 40 5-106 10 40 16 47 5-97 10 39 16 46 5-113 10 36 15 41 6-115 10 41 16 48 5-114 11 44 15 52 6-117 10 36 15 42 5-127 11 46 15 56 6-127 10 46 16 55 5-128 10 47 16 56 5-140 10 60 15 70 6-155 10 68 15 82 6-148 10 61 16 72 6-163 10 66 15 79 6-138 10 56 16 67 5-164 11 66 15 79 6-144 10 58 14 69 6-152 10 72 16 86 5-153 11 68 15 81 6-169 10 78 15 93 5-152 11 64 4 22"/>
<path class="c2" d="M242 674l10 16 5-103 10 38 15 44 6-106 11 35 15 40 6-114 10 42 15 49 6-133 10 53 15 64 6-118 10 35 15 41 6-119 10 44 16 52 5-115 10 39 15 46 6-120 10 42 16 48 5-88 11 68 15 80 6-79 10 72 14 85 6-75 10 58 16 70 6-72 10 59 15 70 6-64 10 46 15 55 6-59 10 30 16 34 5-58 10 15 15 17 6-66 10 17 15 19 5-74 11 23 16 27 5-74 11 18 15 23 5-100 11 28 15 32 5-106 11 34 15 39 6-114 10 40 15 48 5-114 10 44 16 52 6-113 10 38 15 45 6-134 10 44 15 52 6-145 10 50 15 58 6-140 10 55 15 66 6-124 10 51 16 59 6-134 10 47 15 56 5-151 11 58 15 69 5-145 11 64 15 76 6-156 10 68 15 81 5-151 11 67 16 79 5-164 10 66 15 80 6-175 10 73 15 86 6-154 10 64 16 76 5-167 10 81 16 96 5-173 11 75 15 88 6-166 10 73 15 85 6-153 10 70 15 83 6-183 10 81 5 31"/>
<path class="c2" d="M242 674l9 14 6-91 10 32 16 38 5-97 10 31 16 37 5-105 11 39 15 47 6-112 10 44 15 51 6-115 10 40 15 48 6-119 10 46 16 56 5-111 10 36 16 43 5-114 10 42 15 50 6-96 10 109 15 129 6-67 10 66 16 78 6-52 10 41 15 47 6-53 10 31 15 37 6-56 10 15 15 17 6-64 10 19 15 22 6-66 10 20 16 23 5-73 10 25 15 29 6-85 10 31 16 36 5-88 10 21 15 25 6-98 10 36 16 42 6-101 10 29 15 34 5-115 11 40 15 47 6-136 10 49 15 57 6-122 10 44 15 53 6-135 10 51 16 60 5-138 10 57 16 68 5-127 10 46 16 56 5-145 10 60 15 71 6-141 10 57 16 68 6-126 10 47 15 57 6-158 10 66 15 79 6-157 10 63 16 74 5-155 10 60 15 70 6-156 10 64 15 76 6-155 10 67 15 81 6-178 10 82 16 97 5-146 10 61 16 72 5-176 11 75 15 87 6-172 10 78 15 92 6-166 10 71 15 84 6-174 10 81 5 33"/>
<path class="c3" d="M242 675l10 15 5-107 11 40 15 49 6-98 10 32 15 37 6-101 10 32 15 37 6-116 10 45 15 55 6-122 10 41 15 48 6-120 10 44 15 53 6-121 10 51 15 60 6-115 10 40 15 47 6-93 10 86 16 103 5-83 11 70 15 82 6-66 10 61 15 72 6-62 10 39 15 46 5-56 11 24 16 28 5-67 10 31 15 36 6-67 10 35 15 40 6-71 10 40 16 47 5-54 10 27 15 32 6-55 10 35 16 41 6-50 10 28 15 33 6-45 10 29 15 34 5-43 10 26 16 31 5-39 11 17 15 21 6-32 10 15 15 18 5-33 11 14 15 18 6-33 10 9 15 10 6-36 10 7 15 10 6-39 10 10 16 12 6-44 10 13 15 16 5-53 11 15 15 17 5-48 11 11 15 14 6-52 10 14 15 17 6-63 10 17 15 19 5-69 11 19 15 23 6-79 10 26 16 30 6-75 9 26 15 32 6-82 10 27 16 33 5-97 10 35 16 41 5-91 10 31 16 37 6-100 10 31 15 37 6-99 10 36 5 15"/>
<path class="c3" d="M242 674l10 16 5-94 10 35 16 40 5-104 11 37 15 43 6-100 10 35 16 40 5-118 11 46 15 53 5-122 11 45 15 52 6-107 9 38 15 45 6-120 10 50 16 60 5-117 11 37 15 44 6-82 10 73 15 86 6-72 10 72 15 85 6-61 10 66 15 79 6-52 10 22 15 25 6-58 10 30 15 34 6-70 10 40 16 46 5-59 11 28 15 34 5-55 11 27 15 33 5-57 10 32 16 38 5-52 11 26 15 31 6-48 10 26 15 31 5-48 11 22 16 28 6-49 10 23 15 28 6-44 10 13 14 15 6-52 10 12 16 16 6-52 10 10 15 11 5-65 11 14 15 17 5-72 11 19 15 22 5-78 11 20 15 23 5-95 11 31 15 36 6-85 10 28 15 33 6-93 10 32 15 37 6-114 10 39 16 46 5-105 10 29 16 35 5-117 11 44 15 52 5-134 11 47 15 55 6-139 9 52 15 62 6-146 10 62 16 73 5-136 11 50 15 59 6-134 10 52 15 61 6-146 10 60 16 70 5-140 10 64 5 26"/>
<path class="c3" d="M242 676l9 14 6-98 10 37 16 43 6-94 10 34 15 40 5-107 10 39 16 47 5-116 11 42 15 49 5-130 11 53 15 63 6-110 10 40 16 46 5-105 10 40 15 49 6-109 10 23 16 27 5-81 10 58 15 67 6-91 10 77 16 91 6-76 10 64 15 77 6-65 10 72 14 84 6-51 10 24 16 28 5-55 11 30 15 36 5-52 11 27 15 32 6-54 10 29 15 34 6-53 10 25 16 29 5-48 10 27 16 32 5-46 10 23 15 29 6-48 10 22 16 25 6-45 10 12 15 15 6-48 10 11 15 13 6-54 10 10 15 13 6-65 10 19 15 23 6-69 10 18 16 22 5-83 10 27 15 32 6-77 10 23 15 27 6-83 10 28 16 33 5-92 10 26 16 32 5-102 11 32 15 39 6-109 10 36 15 42 5-105 11 42 15 50 6-103 10 36 16 43 5-123 10 43 15 50 6-125 10 48 15 55 6-136 10 54 16 64 5-141 10 57 15 68 6-141 10 57 16 66 6-136 10 61 15 72 6-141 10 56 5 22"/>
<path class="c2" d="M242 675l9 15 6-98 10 36 16 42 6-113 10 41 15 48 5-96 11 30 15 36 6-121 10 45 16 52 5-130 10 44 16 52 5-133 11 54 16 63 5-111 10 34 14 42 6-117 10 43 16 50 6-113 10 94 15 110 6-68 10 62 15 73 6-64 10 53 16 63 5-67 10 50 16 58 5-56 10 43 15 50 6-50 10 17 16 21 5-57 11 18 15 21 6-65 9 16 15 19 6-69 10 21 16 26 6-84 10 29 14 35 6-90 11 33 15 40 6-96 10 32 16 38 5-98 10 34 16 40 5-108 10 33 15 39 5-110 11 41 15 48 6-110 10 40 16 48 5-119 10 42 15 48 6-116 10 40 16 46 6-131 10 51 15 61 6-138 10 58 15 68 5-129 11 51 15 59 6-142 10 63 15 75 6-137 10 53 15 63 6-141 10 66 16 78 5-142 10 58 15 68 6-151 10 65 16 76 5-142 10 62 16 73 5-162 10 68 16 80 5-158 11 69 15 82 5-134 11 50 16 59 5-145 10 71 15 83 6-156 10 70 5 25"/>
<path class="c1" d="M242 674l10 15 5-90 11 32 15 37 6-95 10 33 15 38 5-98 11 32 15 38 6-116 10 38 15 45 5-125 11 41 16 48 5-124 10 50 15 60 6-112 10 39 15 46 6-124 10 42 16 51 6-121 9 41 15 48 6-95 10 35 16 42 5-112 11 55 16 64 5-128 10 43 15 51 6-144 10 62 16 74 5-164 10 61 15 73 6-185 10 77 15 90 6-189 10 74 15 87 6-191 10 79 16 94 5-183 10 94 16 110 5-207 10 91 16 107 5-200 10 100 16 118 5-182 10 78 16 93 5-181 11 71 15 85 6-178 10 74 15 87 6-210 10 89 16 104 5-193 10 90 15 106 6-185 10 81 16 97 6-158 10 72 15 86 5-188 10 80 15 95 6-170 10 72 16 85 6-171 10 83 15 98 6-187 10 79 15 93 6-172 10 79 16 92 5-190 10 90 16 106 5-191 11 87 15 104 5-158 11 71 15 85 5-176 10 81 15 95 6-159 10 78 16 93 5-172 11 73 15 87 6-185 10 87 15 103 6-158 10 67 5 26"/>
<path class="c1" d="M242 674l10 17 5-88 11 33 16 38 5-99 10 34 15 40 5-102 11 37 16 44 5-106 10 40 15 47 6-121 11 43 15 50 6-114 10 38 15 45 6-117 10 45 15 54 5-112 11 26 15 30 6-111 10 45 15 52 6-103 10 34 15 41 6-126 10 62 15 74 6-119 10 52 16 60 5-134 11 55 15 65 6-159 10 52 15 61 6-147 10 60 15 71 5-155 10 73 16 86 5-189 11 76 15 90 6-160 10 73 16 87 5-183 10 86 15 101 6-177 10 74 15 86 6-180 10 78 16 92 5-164 10 66 15 77 6-172 10 82 16 96 5-187 11 82 15 97 6-166 10 71 15 84 6-185 10 82 15 97 6-179 10 83 15 97 6-195 10 92 15 109 6-165 10 71 15 83 6-185 10 84 16 99 5-180 10 80 16 95 6-167 10 79 15 93 6-151 10 69 15 82 5-183 11 89 15 104 6-150 10 67 15 80 6-159 10 69 16 81 6-175 9 80 15 94 6-176 10 77 16 92 5-157 10 71 16 85 5-165 11 70 4 25"/>
<path class="c1" d="M242 676l10 14 5-93 10 33 15 39 6-99 10 32 15 39 6-122 10 45 16 53 5-110 11 41 15 48 6-110 9 33 15 40 6-128 10 34 16 41 6-119 10 58 16 69 5-117 11 29 15 35 5-112 10 38 16 44 5-108 10 37 16 45 5-116 11 45 15 53 6-139 10 61 14 73 6-152 10 74 16 87 5-172 11 80 15 94 6-155 10 75 15 90 5-153 11 52 15 61 6-159 10 68 15 80 5-180 11 78 16 94 5-176 10 74 16 89 5-195 11 90 15 106 5-192 10 78 16 92 5-204 11 79 15 93 6-188 10 78 15 94 5-199 10 99 16 118 5-172 11 68 15 81 5-174 11 82 15 97 6-176 10 89 15 105 6-161 10 76 16 90 5-178 10 82 15 96 6-155 10 66 15 79 6-170 10 79 15 93 6-143 11 69 15 81 6-154 10 68 15 80 6-163 10 63 15 74 6-169 10 80 15 94 6-150 10 66 15 77 6-171 10 77 16 92 5-180 11 70 15 83 5-182 11 94 15 113 5-162 10 69 6 30"/>
<path class="c1" d="M242 675l10 14 6-97 10 34 15 41 6-103 10 33 15 39 6-104 10 31 15 38 5-111 11 38 15 46 6-139 10 55 15 65 6-120 10 41 15 49 6-121 10 45 16 54 5-123 10 38 16 44 6-122 10 46 15 54 6-113 10 51 15 61 5-120 11 45 15 52 6-137 10 52 15 62 6-147 10 72 16 85 5-163 11 62 15 74 5-156 10 68 16 80 5-150 10 66 15 79 6-167 10 67 16 78 5-167 11 72 15 86 6-206 10 93 15 109 5-205 11 87 16 104 5-204 10 100 16 118 5-176 10 75 15 90 6-197 10 87 16 103 5-160 10 75 16 88 5-163 11 67 15 80 6-167 10 70 15 83 6-165 10 76 15 89 5-174 11 78 15 91 6-174 10 74 15 88 6-194 10 83 15 98 6-187 10 89 15 105 6-185 10 83 16 98 5-177 10 76 16 91 5-173 10 80 15 95 6-165 10 80 15 94 6-154 10 74 16 86 5-158 11 73 15 86 5-163 11 78 15 92 6-172 10 67 16 81 6-151 10 72 4 25"/>
<path class="c1" d="M242 674l9 16 5-102 11 39 15 46 6-90 10 30 15 36 6-104 10 36 15 42 6-112 10 35 15 42 6-122 10 46 15 53 6-107 10 34 15 41 6-109 10 47 15 56 6-122 10 29 16 33 5-106 11 38 15 44 6-112 10 45 15 54 6-118 10 42 15 51 5-138 11 55 15 65 6-154 10 80 15 94 6-150 10 57 15 68 6-158 10 70 16 82 5-172 10 70 16 83 5-159 11 68 15 81 6-192 10 79 15 94 6-176 10 75 15 89 5-192 11 86 15 101 6-182 10 72 16 87 5-197 10 97 15 114 6-173 10 79 15 93 6-177 10 83 15 98 6-167 10 73 15 85 6-188 10 84 15 99 6-155 10 69 16 82 5-177 11 81 15 95 6-173 10 79 15 93 6-174 10 84 15 99 6-155 10 67 16 79 5-177 10 77 16 92 5-178 11 82 15 97 6-167 10 77 15 92 5-168 10 78 16 91 5-162 11 65 15 76 6-174 10 79 15 93 6-159 10 72 15 84 6-174 10 81 16 96 5-170 10 80 6 37"/>
<path class="c1" d="M242 674l11 16 6-95 10 35 14 41 6-114 10 39 16 46 5-106 10 35 15 43 6-122 10 42 15 50 6-130 10 44 16 53 6-112 10 27 15 31 6-117 10 41 15 48 6-134 10 44 15 52 6-111 10 38 15 44 5-109 11 48 16 57 5-116 10 46 16 54 5-130 11 51 15 60 6-164 10 72 14 84 6-182 10 80 16 94 5-173 10 81 16 96 5-179 11 66 15 77 5-173 11 71 15 83 5-199 11 110 15 130 6-170 10 70 16 83 6-208 9 94 15 111 6-184 10 79 15 94 6-181 10 66 16 79 5-201 10 97 16 116 5-192 11 90 15 107 6-172 10 61 15 74 5-194 11 90 15 107 6-182 10 84 15 100 6-180 10 76 15 90 6-188 10 89 16 106 5-185 10 84 16 100 5-189 10 85 16 100 5-181 11 77 15 91 6-182 10 92 15 109 5-172 11 82 15 97 6-187 10 85 15 100 6-162 10 69 16 81 5-193 10 91 15 108 5-194 11 86 15 102 6-195 10 92 16 108 5-168 10 78 5 28"/>
<path class="c1" d="M242 676l9 13 6-99 10 38 15 44 6-97 10 32 15 37 6-106 10 38 15 44 6-121 10 40 15 47 6-125 10 49 16 57 5-119 11 39 15 46 6-113 10 42 15 50 6-125 10 39 15 47 6-111 10 24 15 28 6-112 10 39 16 46 5-112 10 57 15 67 6-126 10 44 16 52 5-145 10 70 16 82 5-169 10 65 15 76 6-181 10 92 16 109 5-154 10 66 16 78 5-166 11 72 15 85 6-172 10 74 16 87 6-200 10 94 14 112 6-183 10 85 15 102 6-177 10 70 16 84 5-190 10 75 16 88 5-170 10 73 16 87 5-188 11 84 15 100 6-165 10 79 15 93 6-197 10 86 15 101 6-173 10 78 15 93 6-168 10 77 15 91 6-158 10 68 16 80 5-171 10 75 15 88 6-174 10 76 15 90 6-166 10 77 16 90 5-186 10 88 15 104 6-167 11 76 15 89 6-171 10 79 15 92 5-172 11 84 15 100 6-180 10 81 15 96 6-162 10 79 16 92 5-163 11 80 15 93 5-162 10 73 6 33"/>
<path class="c1" d="M242 674l10 16 5-93 11 33 16 40 5-109 10 38 15 46 6-94 10 31 16 37 5-110 10 38 15 46 6-128 10 43 15 50 6-108 10 45 16 54 6-108 10 40 15 47 5-110 11 46 15 53 6-111 10 35 15 42 5-92 11 37 15 43 6-109 10 46 15 55 6-115 10 35 15 40 6-138 10 56 15 67 6-151 10 54 16 63 5-151 10 62 15 72 6-167 10 62 15 74 6-166 10 78 16 93 6-179 10 81 15 96 5-181 11 80 15 95 6-196 10 70 15 83 5-218 11 103 15 121 6-208 10 94 16 110 5-174 10 72 16 85 5-181 10 80 16 94 5-208 10 99 16 117 5-183 10 74 16 88 5-179 10 82 15 98 6-194 10 85 16 99 5-176 11 81 15 96 6-191 10 87 15 103 5-176 11 86 16 103 5-189 11 82 15 97 5-175 10 86 15 101 6-181 10 84 15 99 6-183 10 80 15 94 6-190 10 90 16 107 6-161 10 74 15 88 6-165 10 76 16 90 5-153 10 70 15 83 6-149 10 66 5 24"/>
<path class="c1" d="M242 676l11 13 5-106 10 39 15 46 5-92 11 29 16 33 5-98 10 30 16 36 5-117 10 45 15 54 6-125 10 41 16 48 5-121 10 40 15 46 6-135 10 52 16 61 5-110 10 41 15 49 6-109 10 32 16 37 6-97 10 39 15 47 5-111 11 38 16 44 5-139 10 68 15 80 6-131 10 48 15 56 6-178 10 73 15 87 6-160 10 51 16 60 5-174 10 87 16 103 5-164 11 66 15 78 6-180 10 84 16 100 5-178 11 84 15 99 5-202 10 80 16 95 5-183 10 77 15 91 6-199 10 82 15 98 6-203 10 103 16 122 5-183 10 88 15 104 6-191 10 80 16 95 6-175 10 81 15 96 6-181 10 74 15 88 6-177 10 73 15 86 6-208 10 98 15 115 6-177 10 82 16 96 6-175 10 81 15 95 5-181 10 85 16 100 5-169 10 78 15 92 6-172 10 79 16 95 5-177 11 79 15 93 5-183 11 85 15 101 6-165 10 78 15 91 6-170 10 78 15 93 6-167 10 78 16 93 5-175 10 79 5 29"/>
<path class="c1" d="M242 676l10 14 5-99 11 38 15 44 6-92 10 32 15 38 5-112 11 41 15 48 6-104 10 36 15 42 6-115 10 35 15 41 6-125 10 45 15 54 6-127 10 50 16 59 5-117 10 41 15 50 6-87 10 24 16 30 5-102 10 44 16 52 5-91 10 37 16 45 6-119 10 56 15 67 6-139 10 52 15 60 6-163 10 70 15 83 6-154 10 75 15 89 6-155 10 63 15 76 6-163 10 74 15 87 6-156 10 60 16 71 5-163 10 59 16 70 5-196 11 82 15 97 5-193 11 85 15 101 6-195 10 90 15 106 6-179 10 81 15 96 5-178 11 67 16 80 5-191 10 81 15 96 6-188 10 91 15 108 6-192 10 92 16 108 5-176 10 77 16 91 5-165 11 74 15 88 6-166 10 75 15 87 6-159 10 69 16 82 5-172 10 84 15 99 6-159 10 76 16 89 6-151 10 63 15 75 5-173 10 78 16 91 5-181 10 84 15 100 6-148 10 68 16 80 5-174 11 77 15 90 6-167 10 76 15 89 5-154 11 74 5 32"/>
<path class="c1" d="M242 674l10 16 6-97 10 35 15 42 6-92 10 27 15 32 6-100 10 32 15 38 6-120 10 46 15 54 6-118 10 38 16 45 5-117 11 41 15 49 6-120 10 47 15 56 5-122 11 35 16 41 5-101 10 28 15 32 6-110 10 39 16 46 5-127 10 64 16 75 5-135 10 46 16 54 5-164 11 75 15 90 6-165 10 80 15 94 5-173 10 78 15 92 6-184 10 76 16 90 6-176 10 79 15 95 6-182 10 74 16 87 5-188 10 85 15 100 6-166 10 62 16 73 5-188 10 80 16 94 5-203 10 90 16 106 5-171 10 71 16 84 5-192 11 92 15 109 5-190 11 85 15 100 6-195 10 83 15 99 6-179 10 80 15 93 6-189 10 87 15 102 6-179 10 78 15 91 5-197 11 94 16 110 6-169 10 77 15 91 6-169 10 81 14 96 6-176 10 80 16 95 5-189 10 91 15 107 6-171 10 81 15 97 6-166 10 73 16 87 6-160 10 75 16 90 6-176 10 74 15 88 5-159 10 67 16 80 5-166 10 73 5 26"/>
<path class="c1" d="M242 674l10 16 5-91 11 33 16 39 5-98 10 33 15 40 6-107 10 41 15 48 6-102 10 35 16 41 6-115 10 38 15 45 6-115 10 34 15 39 5-117 11 43 15 52 6-117 10 35 15 42 6-113 10 39 15 45 6-107 10 49 16 57 5-94 10 37 15 44 6-137 10 62 16 72 5-127 10 60 15 70 6-165 10 66 15 78 6-163 10 67 16 79 5-148 10 59 15 69 6-169 10 68 16 80 6-190 10 68 15 81 6-203 10 94 16 110 5-198 10 80 16 94 5-193 10 88 15 104 6-208 10 93 15 110 5-172 11 75 15 88 6-173 10 85 16 100 5-193 11 87 15 103 6-169 10 72 15 84 6-185 10 92 15 109 6-163 10 77 15 91 6-165 10 75 14 88 6-182 11 81 16 95 5-169 10 72 15 85 6-179 10 87 15 103 6-166 10 68 16 81 6-167 10 74 15 86 5-164 11 73 16 87 5-162 10 84 14 99 6-170 10 75 16 89 6-171 10 81 15 96 6-182 10 79 15 93 6-169 10 77 5 29"/>
<path class="c1" d="M242 674l10 13 6-87 10 31 16 36 5-100 10 34 15 39 6-102 10 34 16 39 5-115 11 47 15 55 6-116 10 41 15 47 6-111 10 31 15 37 6-120 10 47 15 55 5-117 11 27 15 33 6-116 10 34 15 40 6-115 10 39 16 45 6-124 10 51 15 60 5-144 11 61 15 73 6-150 10 63 15 75 5-176 11 83 15 97 6-177 10 65 15 78 6-182 10 84 15 99 6-189 10 91 15 107 6-184 10 76 16 91 5-198 10 95 15 113 6-184 10 65 16 77 5-208 10 84 16 100 5-213 10 93 16 111 5-189 11 89 15 105 6-196 10 89 15 105 6-198 10 89 15 105 6-189 10 89 16 105 5-194 11 90 15 107 5-185 11 82 15 97 6-179 10 85 15 99 5-188 10 86 16 101 5-182 11 82 15 97 5-208 11 101 15 118 6-157 10 72 15 85 6-175 10 80 16 95 5-172 10 70 15 82 6-175 10 80 16 94 5-153 11 69 15 81 6-176 10 80 15 95 5-168 11 77 15 92 6-180 10 82 4 27"/>
<path class="c1" d="M242 673l10 16 6-96 10 34 15 40 6-101 10 33 15 38 6-114 10 38 15 44 6-102 10 35 16 42 5-129 11 43 15 50 6-129 10 48 15 58 6-109 10 36 15 42 6-129 10 49 15 57 6-119 10 48 15 57 6-101 10 43 15 51 6-111 10 41 15 49 6-124 10 55 15 64 6-128 10 54 16 65 6-155 10 52 15 62 5-159 11 57 15 67 6-187 10 69 15 82 5-180 11 78 16 93 5-198 10 86 15 102 6-204 10 90 15 106 6-219 10 107 15 127 6-200 10 88 16 105 5-201 10 90 16 105 5-179 11 76 15 89 6-179 10 80 15 94 5-208 11 100 15 118 5-195 11 88 15 105 5-168 11 73 16 87 5-170 10 77 15 91 6-198 10 94 15 109 6-178 10 77 15 91 6-190 10 95 15 112 6-187 10 82 16 96 5-170 11 81 15 96 6-180 10 87 15 103 6-154 10 69 15 83 6-166 10 68 15 82 6-178 10 87 15 104 6-180 10 81 16 96 6-166 10 74 15 88 5-172 11 79 4 27"/>
<path class="c1" d="M242 674l10 15 6-105 10 38 15 45 6-94 10 30 15 36 6-110 10 38 15 46 5-119 11 43 16 50 5-126 10 43 15 52 6-120 10 43 16 52 6-124 10 45 15 53 5-114 11 32 15 38 6-114 10 49 15 57 6-113 10 40 15 48 6-111 10 45 15 53 6-131 10 52 16 62 5-152 11 76 15 90 6-145 10 40 14 48 6-150 10 63 15 74 6-189 10 92 16 109 6-175 10 66 15 77 5-188 11 76 15 91 6-185 10 84 15 99 5-199 11 78 16 92 5-213 10 92 16 108 5-200 10 95 15 113 6-184 10 87 15 102 6-179 10 77 15 92 6-174 10 69 16 80 6-164 10 77 15 91 6-180 10 76 15 91 6-182 10 84 15 99 5-213 11 102 16 121 5-174 10 74 16 86 5-169 10 83 15 98 6-199 10 92 15 109 6-169 10 87 16 102 5-168 11 76 15 89 6-181 10 77 15 92 5-185 11 89 16 105 5-181 10 88 16 103 5-174 10 70 15 82 5-161 11 70 15 83 6-166 11 79 4 26"/>
<path class="c1" d="M242 673l10 16 6-91 10 32 16 38 5-92 10 31 15 37 6-102 10 35 16 42 5-127 10 48 16 58 5-111 10 44 15 52 6-123 10 39 16 46 6-108 10 42 15 51 6-107 10 33 15 40 5-111 11 33 15 39 6-100 10 45 15 54 5-104 11 46 15 56 6-130 10 64 16 77 5-143 10 56 16 67 5-152 10 52 15 62 6-145 10 61 16 72 6-151 10 54 15 63 6-168 10 62 15 73 6-190 10 79 15 94 6-189 10 86 15 102 6-197 10 82 16 97 5-210 10 89 15 106 5-172 11 76 16 90 5-198 10 85 15 100 6-191 10 87 16 102 5-189 10 93 16 110 5-186 10 84 15 100 6-174 11 78 15 93 6-165 10 80 15 95 5-151 10 73 16 87 5-172 11 75 15 88 6-156 10 66 16 79 6-169 10 81 15 96 6-151 10 65 15 76 6-168 10 80 14 95 6-172 10 83 16 97 6-161 10 67 15 79 5-171 11 77 15 90 6-159 10 80 15 95 5-158 11 76 16 91 5-162 10 70 5 26"/>
<path class="c1" d="M242 676l9 14 6-100 10 36 15 43 6-103 10 35 16 43 6-94 10 30 15 36 5-108 10 35 16 41 5-125 11 49 16 58 5-119 10 41 15 49 6-109 10 43 16 50 5-124 10 34 16 41 5-113 11 33 15 38 5-93 11 33 15 40 6-107 10 43 15 50 5-145 11 68 15 81 5-128 11 57 15 68 6-182 10 74 15 88 6-178 10 74 15 86 6-158 10 67 16 80 5-176 11 82 15 96 5-184 11 79 15 93 5-163 10 66 15 79 6-173 11 80 16 94 5-205 10 91 15 109 6-182 10 73 15 85 5-165 11 60 15 69 6-202 10 92 16 110 5-202 11 97 15 115 5-187 11 75 15 88 5-183 11 82 15 97 6-172 9 85 15 101 6-160 10 71 15 84 6-185 10 83 16 97 6-182 10 79 15 93 6-161 10 80 15 94 6-164 10 70 15 83 6-166 10 79 16 93 6-167 10 76 14 89 6-171 10 84 16 100 6-185 10 78 14 93 6-172 10 78 15 93 6-183 10 88 16 104 6-168 10 74 5 30"/>
<path class="c1" d="M242 673l10 17 5-93 10 34 15 40 6-98 10 34 16 39 6-103 9 37 15 43 6-117 11 43 15 51 6-114 10 35 15 41 6-111 10 35 16 42 5-114 10 50 15 59 6-111 10 28 15 34 6-104 10 31 15 36 6-112 10 50 15 58 6-107 10 39 16 47 5-146 10 60 15 70 6-153 10 54 16 65 5-173 11 90 16 107 5-159 10 62 15 74 5-176 11 84 15 99 6-189 10 80 16 95 5-178 10 72 15 85 6-169 10 63 16 74 5-197 10 87 16 102 5-234 11 110 15 129 6-179 10 73 15 86 6-182 10 80 15 95 6-187 10 80 15 94 5-183 11 97 15 115 6-191 10 83 15 98 6-167 10 88 16 105 5-165 10 69 16 82 5-174 10 76 15 90 6-176 10 81 16 96 5-166 11 71 15 83 6-171 10 76 15 89 6-168 10 71 16 85 5-136 10 56 16 66 5-182 10 85 15 100 6-175 10 83 16 97 5-169 10 81 16 97 5-178 10 76 15 89 6-151 10 70 16 84 5-183 10 85 6 39"/>
<path class="c1" d="M242 674l9 17 6-103 10 37 16 43 5-104 11 37 15 43 6-101 10 35 15 41 5-112 11 40 15 47 6-114 10 43 15 50 5-131 10 41 16 48 5-109 11 42 15 51 6-128 10 39 15 46 6-105 10 29 16 34 5-111 10 48 16 56 5-115 10 46 15 54 6-125 10 66 15 77 6-146 10 71 16 84 6-160 10 61 15 72 6-157 10 69 14 82 6-168 10 73 16 87 6-178 10 74 15 87 6-158 10 60 15 72 6-171 10 64 15 75 6-180 10 67 16 79 5-194 11 80 15 93 5-197 10 86 15 101 6-191 10 96 16 113 5-189 11 92 15 108 6-202 10 96 15 115 6-188 10 84 16 99 5-170 10 74 15 88 5-181 11 72 16 84 5-173 10 84 15 98 6-186 10 82 15 97 6-171 10 80 16 96 5-171 11 78 15 93 6-157 10 80 15 94 5-162 11 61 15 73 6-196 10 90 15 105 6-144 10 67 15 79 5-169 11 78 16 92 5-163 10 82 16 96 6-160 9 68 15 80 6-181 10 81 6 40"/>
<path class="c1" d="M242 675l10 14 5-100 11 37 15 44 6-99 10 34 15 39 5-90 11 26 15 32 6-114 10 43 15 51 5-125 11 42 15 50 6-119 10 48 15 56 5-107 11 29 16 35 5-118 10 35 15 41 6-119 10 38 16 46 6-117 10 27 15 32 5-129 10 56 15 66 6-137 10 59 16 69 5-147 11 65 15 76 6-199 10 89 16 105 5-162 10 83 15 98 6-182 10 71 16 85 5-179 10 81 15 95 6-187 10 82 16 97 5-187 10 91 16 107 5-186 11 69 15 82 6-203 10 87 15 104 5-183 11 79 15 92 6-183 10 85 15 102 6-188 10 81 15 95 6-159 10 66 16 78 5-202 11 89 15 104 5-182 11 90 15 107 6-176 9 88 15 104 6-161 10 71 15 85 6-171 10 73 16 87 5-158 10 82 16 97 5-156 11 72 15 85 6-158 10 71 15 84 6-166 10 73 15 85 6-166 10 69 16 81 6-163 10 76 15 89 5-163 10 69 16 82 6-177 10 83 15 98 5-161 11 69 15 81 5-188 10 90 6 40"/>
<path class="c1" d="M242 675l9 14 6-98 10 36 15 41 6-100 10 33 16 40 5-112 11 36 15 43 6-108 10 36 15 43 6-117 10 49 15 58 5-117 11 43 16 51 5-118 10 36 15 43 5-122 11 44 15 52 6-113 10 38 16 45 5-107 11 46 15 54 6-91 10 26 15 32 6-130 10 62 16 73 5-132 10 50 15 59 6-172 10 66 15 78 5-173 10 62 15 74 6-169 11 71 15 85 6-178 10 80 15 94 6-175 10 76 15 89 6-206 10 92 16 109 6-204 10 91 15 107 6-214 10 89 15 106 6-209 10 105 15 124 6-183 10 87 15 102 5-183 11 77 15 92 6-171 10 66 16 79 5-185 10 83 15 98 6-180 10 84 15 100 6-170 10 79 15 92 6-159 10 78 16 93 6-178 10 78 15 91 5-163 11 68 15 80 6-139 10 61 15 71 5-171 11 77 15 91 6-187 10 81 15 97 6-189 10 89 15 106 6-179 10 81 16 96 5-169 10 79 16 92 5-173 10 84 15 101 6-174 10 80 16 96 6-159 10 73 5 31"/>
<path class="c1" d="M242 673l9 16 6-103 10 39 16 46 6-91 9 29 15 34 6-96 11 29 15 36 6-109 10 38 15 45 5-126 10 48 16 57 6-114 10 42 15 49 6-116 10 34 15 40 6-131 10 37 15 45 6-118 10 43 15 50 6-105 10 46 16 55 5-124 11 52 15 61 6-120 10 51 15 60 6-139 10 54 15 64 6-176 10 71 15 84 6-167 10 70 16 81 5-194 10 74 16 88 6-166 10 79 15 94 5-173 10 86 15 101 6-179 10 80 16 94 6-190 10 73 15 88 6-207 10 91 15 107 6-197 10 88 15 104 6-192 10 88 15 104 6-191 10 95 15 112 6-167 10 71 15 84 6-174 10 80 15 95 5-167 11 65 16 77 6-200 10 95 15 112 5-175 10 83 15 97 6-182 11 83 15 98 6-168 10 71 15 83 5-174 11 84 15 98 6-174 10 77 16 92 5-162 11 77 15 91 6-161 9 61 15 72 6-178 10 78 16 93 5-179 11 84 15 99 6-184 10 87 15 102 5-164 11 74 15 87 6-179 10 89 5 36"/>
<path class="c1" d="M242 673l10 16 6-101 10 36 15 44 6-98 10 34 15 40 6-101 10 35 15 41 6-108 10 36 16 44 5-124 11 40 15 47 6-118 10 35 14 42 6-129 10 51 15 61 6-115 10 32 16 39 5-117 11 40 15 48 6-104 10 41 15 49 6-105 10 49 16 57 5-122 10 45 16 53 5-131 10 64 16 77 6-143 10 56 15 65 5-156 11 73 15 87 5-185 11 74 15 88 6-164 10 69 15 82 6-180 10 60 15 71 6-186 10 88 15 104 6-185 10 69 15 81 5-210 11 99 15 117 6-180 10 77 15 90 6-204 10 92 16 108 5-181 10 91 16 107 5-204 10 91 15 108 6-193 10 81 16 96 6-185 10 91 15 109 6-177 10 74 14 87 6-177 10 89 16 104 6-172 10 75 15 89 6-178 10 84 15 100 6-178 10 84 15 99 6-172 10 74 16 87 6-167 10 72 14 85 6-176 10 79 16 92 6-166 10 79 15 93 6-184 10 83 16 97 5-164 10 76 15 91 6-179 10 78 15 92 6-164 10 85 5 32"/>
<path class="c1" d="M242 673l10 17 5-94 10 35 15 41 6-106 10 35 15 42 6-105 10 36 16 43 5-115 11 40 15 47 5-131 11 48 16 57 5-107 10 39 15 47 6-121 10 46 16 55 5-106 10 32 15 36 6-105 10 34 15 41 5-115 11 48 16 56 5-113 10 51 15 60 6-127 10 48 16 57 6-130 10 60 15 70 6-159 10 79 16 93 5-143 10 54 15 64 6-153 10 52 15 61 6-178 10 69 16 83 6-177 10 72 15 84 5-188 11 86 15 101 5-189 11 88 15 104 5-200 11 94 15 111 5-165 11 67 15 81 5-166 11 72 15 85 6-177 10 72 15 86 6-167 10 66 15 78 6-187 10 91 15 108 6-182 10 84 15 99 6-173 10 81 15 96 6-176 10 76 16 91 5-174 11 76 15 90 6-200 10 92 15 108 5-179 11 78 15 93 6-157 10 76 15 89 6-179 10 75 15 89 6-158 10 69 16 82 5-189 10 83 15 98 6-194 10 86 16 102 5-159 11 76 15 89 5-172 10 91 16 108 5-159 11 62 5 26"/>
<path class="c1" d="M242 674l11 16 5-104 10 40 15 47 5-92 10 31 16 36 5-99 10 33 15 38 6-105 11 36 15 44 6-108 10 37 15 43 5-115 11 34 15 40 6-128 10 49 16 58 5-129 11 33 15 38 5-113 11 45 15 52 6-117 9 49 15 59 6-117 10 53 15 63 6-126 10 54 16 64 6-128 10 52 15 61 6-173 10 70 15 82 6-177 10 82 15 98 6-171 10 82 15 96 6-157 10 69 15 81 6-171 10 73 15 87 6-172 10 71 16 84 5-180 11 73 15 86 6-185 10 80 15 95 6-178 10 70 15 83 6-191 10 88 15 103 6-171 10 83 15 99 5-157 11 61 15 71 6-184 10 77 16 91 5-180 11 84 15 99 5-185 10 80 15 94 6-172 10 92 16 109 5-171 11 77 15 91 6-180 10 86 15 103 6-159 10 69 15 82 5-155 11 69 15 82 6-159 10 71 15 84 6-178 10 80 15 94 6-157 10 73 16 85 5-164 10 74 16 88 5-163 10 77 16 92 5-169 11 75 15 88 5-164 11 73 5 31"/>
<path class="c1" d="M242 676l10 12 5-93 10 32 15 38 6-97 10 32 16 37 5-106 10 35 16 42 6-106 10 42 15 49 5-124 11 44 15 52 6-112 10 40 14 48 6-127 10 42 16 49 6-117 10 33 15 39 6-111 10 27 15 33 6-105 10 41 15 49 6-128 10 62 15 73 6-122 10 51 15 61 6-147 10 69 16 82 6-160 10 62 15 73 5-164 11 66 16 79 5-172 10 76 15 90 6-173 10 79 15 94 6-181 10 83 16 99 5-177 10 70 15 83 6-193 10 89 16 105 5-183 10 70 15 82 6-180 10 72 16 84 6-179 10 82 15 96 5-180 11 79 15 94 6-169 10 70 15 82 6-185 10 82 15 98 6-180 10 85 15 101 6-179 10 85 16 101 5-183 10 84 15 99 6-186 10 84 16 99 5-170 11 78 15 91 5-169 11 75 15 89 6-168 10 86 15 102 6-182 10 87 15 103 6-165 10 78 15 92 6-152 10 66 15 78 6-159 10 74 15 87 6-177 10 81 15 95 6-169 10 69 16 82 5-169 10 68 6 29"/>
<path class="c1" d="M242 676l10 13 6-106 10 40 15 47 6-100 10 34 15 40 6-101 10 32 16 37 5-107 11 40 15 47 5-130 10 45 15 53 6-125 10 50 16 60 6-124 10 42 14 51 6-107 10 37 16 44 5-110 10 44 16 53 5-88 11 31 15 38 6-91 10 35 15 41 6-121 10 37 15 44 6-138 10 59 15 70 6-159 10 69 16 81 5-159 10 71 16 83 5-165 10 74 16 87 5-180 11 73 15 87 5-166 11 74 16 88 5-163 10 72 15 85 5-172 11 74 15 87 6-184 10 73 16 86 5-167 10 74 16 87 5-186 10 81 15 97 6-170 10 85 16 101 5-169 11 71 15 84 6-165 10 68 15 80 6-175 10 84 15 99 6-161 10 78 16 93 5-165 10 66 15 76 6-177 10 76 15 91 6-184 10 90 15 107 6-181 10 82 15 97 6-161 10 72 16 84 5-171 10 73 15 85 6-156 10 67 16 79 6-175 10 78 15 92 6-172 10 74 16 88 5-170 10 82 15 97 6-181 10 84 16 100 5-182 10 87 5 34"/>
<path class="c1" d="M242 674l9 15 6-96 10 35 16 42 5-106 11 36 15 42 6-104 10 36 15 43 5-116 11 42 15 49 6-128 10 40 16 47 5-112 10 41 16 48 5-121 10 48 15 56 6-118 10 30 16 36 6-120 10 44 15 52 6-104 10 43 15 49 5-120 11 63 15 74 6-121 10 53 15 63 6-128 10 51 15 62 6-154 10 59 16 69 5-173 10 68 16 81 5-157 10 62 16 72 6-165 10 70 15 83 5-185 10 80 16 95 5-168 10 70 16 82 5-203 11 86 15 102 6-192 10 77 15 91 6-191 10 88 14 104 6-172 10 79 16 93 6-183 10 76 16 90 5-203 10 89 15 106 6-184 10 91 15 108 6-183 10 85 16 101 5-182 11 83 15 99 6-185 10 84 15 99 6-168 10 82 15 96 5-178 11 86 15 103 6-182 10 77 15 91 5-170 11 77 15 91 6-161 10 72 15 84 6-169 10 80 16 94 6-154 10 65 15 77 5-175 10 83 16 99 5-153 11 60 15 72 6-167 10 79 16 93 5-178 10 74 5 29"/>
<path class="c1" d="M242 675l10 15 6-94 10 35 15 40 6-105 10 36 15 42 6-104 10 34 15 40 6-109 10 39 15 45 6-123 10 49 15 57 6-119 10 38 15 44 6-120 10 45 15 54 6-116 10 30 16 36 5-111 10 35 16 41 5-99 11 39 16 46 5-118 10 54 15 64 5-136 11 61 15 73 6-157 10 79 15 94 6-147 10 66 16 79 6-152 10 61 15 71 5-159 10 65 16 76 5-143 11 58 15 68 5-182 10 74 16 88 5-185 10 80 16 95 5-191 11 86 15 102 6-189 10 86 15 101 6-176 10 73 15 86 6-179 10 80 15 96 6-177 10 81 16 96 6-177 10 77 15 92 6-163 10 69 15 81 5-151 11 71 15 85 5-151 11 63 15 74 6-180 10 72 15 85 5-195 11 91 15 106 6-184 10 80 16 94 5-173 10 78 16 92 5-160 10 78 15 93 6-172 10 70 16 82 5-166 10 79 16 93 5-175 11 82 15 97 6-171 10 79 15 94 6-155 10 71 15 84 6-176 10 79 15 94 6-174 10 79 5 31"/>
<path class="c1" d="M242 674l10 17 6-90 10 33 15 39 6-94 10 30 16 36 5-91 10 32 15 38 6-120 10 47 15 55 6-134 10 46 15 55 6-111 10 29 16 34 6-124 10 46 15 53 6-137 10 50 15 58 5-108 11 37 15 43 6-110 10 41 15 48 6-122 10 43 15 51 6-122 10 44 15 51 6-155 10 79 15 93 6-177 10 78 16 92 5-164 11 72 15 85 6-170 10 73 15 85 6-182 10 75 15 88 5-191 11 81 15 96 6-181 10 79 16 94 5-173 10 65 15 78 6-196 10 88 15 103 6-193 10 94 16 112 5-183 10 81 16 96 5-185 11 85 15 100 5-175 11 77 15 92 6-179 10 69 15 82 6-166 10 75 15 87 5-205 11 101 15 120 6-172 10 77 15 91 6-170 10 75 15 88 6-190 10 89 15 104 5-171 11 74 16 88 6-176 10 83 15 99 6-195 10 86 15 102 6-163 10 78 15 92 6-171 10 82 16 96 5-172 10 74 16 87 5-179 11 89 15 104 5-157 11 61 15 73 5-164 11 76 4 26"/>
<path class="c1" d="M242 674l10 16 5-91 11 32 15 38 6-102 10 36 15 44 6-101 10 33 15 39 6-115 10 37 15 44 6-138 10 47 15 56 6-120 10 44 15 53 6-129 10 55 16 64 5-125 11 46 15 55 6-109 10 38 14 44 6-93 10 36 16 43 5-106 11 48 15 57 5-123 11 43 15 51 6-139 10 63 15 74 6-156 10 63 15 74 6-144 10 63 16 75 6-139 10 55 15 65 5-160 10 68 15 79 5-154 11 74 16 87 5-160 10 73 16 87 5-174 11 67 16 78 5-189 10 76 15 91 5-181 11 79 15 92 6-171 10 85 15 100 6-173 10 71 15 84 6-157 10 64 15 76 6-179 10 69 15 81 6-172 10 81 15 96 6-176 11 82 15 97 6-175 10 74 15 88 6-173 10 83 15 98 6-192 10 85 15 99 6-168 10 80 15 95 6-174 10 78 15 92 6-178 10 78 16 93 5-174 10 85 16 100 5-195 10 88 15 104 6-163 10 73 15 85 6-166 10 80 16 95 6-164 10 72 15 86 5-176 11 78 5 31"/>
<path class="c1" d="M242 673l9 17 5-99 11 37 16 42 5-96 10 33 15 39 6-99 10 34 15 40 6-114 10 43 16 51 6-111 10 38 15 44 5-118 11 37 16 44 5-118 10 42 15 49 5-121 11 33 15 39 6-105 10 20 16 25 5-102 10 44 15 52 6-122 11 55 15 66 6-144 10 63 15 74 5-152 10 72 15 85 6-173 10 71 16 84 6-166 10 82 15 97 5-158 11 75 16 88 5-171 10 71 16 84 5-173 10 72 16 85 5-185 10 78 15 93 6-178 10 71 16 84 5-190 11 79 15 93 6-197 10 82 15 98 5-175 10 80 16 94 5-190 10 88 16 105 5-180 11 80 16 94 5-164 10 80 16 96 5-152 10 69 15 82 6-175 10 79 15 93 6-155 10 73 15 88 6-175 10 79 16 95 6-166 10 75 15 88 5-159 11 74 15 89 6-170 10 74 15 88 6-169 10 76 15 91 6-162 10 67 16 79 5-158 10 75 15 88 6-147 10 61 16 71 5-168 10 80 16 94 5-155 10 71 16 84 5-149 10 73 6 33"/>
<path class="c1" d="M242 676l9 14 6-101 10 37 15 45 5-96 11 31 16 37 5-97 10 34 15 40 6-119 10 38 15 46 5-121 11 45 16 54 6-117 10 41 14 48 6-114 10 41 16 49 5-125 11 40 15 48 6-114 10 42 15 50 5-100 10 28 16 33 6-108 10 55 15 66 5-121 11 70 15 82 6-151 10 51 15 61 6-164 10 68 15 80 6-151 10 57 16 66 5-167 10 63 15 75 6-172 10 68 15 80 6-182 10 85 16 99 6-185 10 90 15 106 6-186 10 79 15 93 6-176 10 70 15 81 6-191 10 75 15 90 6-211 10 109 16 128 5-191 10 81 16 95 5-193 10 77 15 90 6-189 10 76 15 90 6-189 10 84 16 100 6-187 10 89 16 106 5-192 10 96 16 113 5-182 10 84 15 99 6-173 10 78 15 92 6-171 10 81 16 95 5-170 10 80 15 95 6-170 10 75 16 89 5-177 10 82 16 96 5-161 10 73 16 86 5-181 11 76 15 91 5-188 11 85 16 101 5-175 10 86 15 102 5-189 11 77 6 36"/>
<path class="c1" d="M242 673l10 16 5-93 10 33 15 39 6-98 10 32 16 38 6-104 10 34 15 41 6-113 10 39 15 47 5-113 11 40 15 47 6-129 10 45 15 53 6-120 10 47 16 56 6-121 10 32 14 39 6-110 10 39 16 46 5-91 10 27 15 33 6-116 10 56 16 66 5-130 11 47 15 56 6-151 10 67 16 78 5-180 10 73 15 87 6-167 10 77 16 92 5-188 10 83 15 98 6-166 10 84 15 99 6-175 10 68 16 81 5-155 11 57 15 68 5-212 11 93 15 109 5-196 11 95 15 112 6-177 10 77 15 90 5-177 10 69 16 80 6-185 10 78 16 93 6-216 10 98 15 116 6-186 10 90 15 107 5-173 10 70 15 83 6-194 10 84 16 101 6-178 10 88 14 103 6-173 10 76 16 91 6-185 10 81 15 97 6-174 10 75 15 89 6-178 10 83 16 99 5-184 11 85 15 100 5-166 10 69 16 82 5-186 10 83 16 99 5-183 10 93 15 109 6-168 10 78 16 93 5-169 11 74 15 88 6-172 10 81 5 32"/>
<path class="c1" d="M242 675l10 15 5-100 10 36 16 43 5-103 11 34 15 40 6-102 10 35 15 41 5-107 10 41 16 48 5-126 11 43 15 51 6-121 10 40 15 48 6-125 10 57 15 68 6-111 10 27 16 31 5-115 10 43 15 50 6-106 10 46 16 54 5-106 10 51 15 60 6-125 10 42 16 49 5-126 11 47 15 54 6-183 10 79 16 94 5-152 10 68 15 81 6-156 10 54 16 64 5-190 10 94 16 112 5-175 10 76 16 90 5-185 11 87 15 104 5-178 11 67 15 80 6-183 10 88 15 104 5-192 11 78 15 92 6-178 10 72 15 85 6-187 10 94 15 111 6-178 10 76 16 88 5-202 10 86 15 103 6-183 10 79 16 94 6-198 10 90 15 106 5-186 10 82 16 96 5-165 11 79 15 94 6-177 10 72 15 85 6-182 10 84 16 99 5-194 10 91 16 108 5-184 10 87 16 102 5-176 10 79 15 94 6-163 10 75 16 88 5-170 10 72 15 85 6-182 10 87 16 104 6-164 10 77 15 92 6-163 10 70 5 27"/>
<path class="c1" d="M242 675l10 14 6-94 10 34 15 39 6-97 10 31 14 37 6-96 11 34 16 39 5-112 10 38 15 45 6-133 10 52 16 61 5-110 11 41 15 49 6-107 10 32 15 38 5-119 11 32 15 38 6-112 10 45 14 55 6-93 11 35 15 40 6-120 10 57 15 67 6-135 10 56 15 66 6-138 10 53 16 64 5-172 11 59 15 69 6-158 10 72 15 86 6-178 10 82 15 96 5-150 11 59 15 69 6-174 10 75 15 88 5-175 11 70 15 83 6-186 10 89 15 104 6-196 10 84 15 100 6-190 10 74 16 88 5-207 11 98 15 116 6-192 9 94 15 110 6-160 10 64 16 75 6-179 10 82 15 97 5-167 11 70 15 83 6-177 10 86 15 101 6-188 10 88 16 103 5-178 10 75 15 89 6-178 10 82 16 98 6-178 10 88 15 105 6-171 10 83 15 99 5-170 11 76 15 90 6-170 10 79 15 94 5-158 11 71 15 84 6-158 10 67 15 80 6-155 10 65 15 78 6-169 10 73 16 86 5-168 10 81 5 29"/>
<path class="c1" d="M242 673l10 15 6-90 10 32 16 39 5-101 11 34 15 40 6-104 10 39 15 47 5-112 11 38 15 46 6-128 10 42 15 50 6-120 10 35 15 41 5-129 11 53 15 62 6-120 10 39 15 46 6-122 10 46 16 54 5-92 10 26 15 30 5-111 11 34 16 39 5-147 10 73 16 85 5-151 10 67 16 80 5-165 10 70 16 83 6-162 10 74 15 87 6-163 10 63 15 75 5-182 11 77 16 92 5-181 10 78 16 92 5-174 11 70 15 82 6-204 9 85 15 102 6-211 10 103 16 122 6-199 10 79 15 94 5-200 10 100 16 119 5-194 11 81 15 96 6-188 10 87 15 102 6-180 10 76 15 90 5-195 10 94 16 111 5-198 11 86 15 102 6-177 10 76 16 89 5-191 11 83 15 97 6-189 10 92 15 107 6-158 10 73 15 87 5-164 11 78 15 92 6-166 10 75 15 89 6-165 10 75 15 89 6-194 10 95 15 112 6-165 10 70 16 82 5-177 10 78 15 92 6-175 10 83 16 99 6-185 10 86 4 28"/>
<path class="c1" d="M242 674l10 16 6-92 10 33 15 40 6-101 10 33 16 39 5-99 10 32 15 38 6-119 10 41 16 47 5-123 10 44 15 51 6-122 10 53 15 63 6-113 10 43 16 50 5-116 11 33 15 40 6-118 10 39 15 47 5-108 11 48 15 56 6-116 10 51 15 59 5-144 11 63 15 76 6-137 10 51 15 59 6-163 10 74 16 88 5-151 10 67 15 80 6-153 10 71 15 85 6-136 10 57 16 66 5-168 10 70 15 82 6-173 10 59 16 71 6-189 10 82 15 98 6-190 10 76 16 90 5-189 10 75 15 88 6-174 10 91 15 106 6-202 10 95 15 113 6-172 10 81 16 96 6-168 10 69 15 82 6-162 10 70 15 84 5-166 11 81 15 97 6-180 10 84 15 100 5-174 11 76 15 89 6-153 10 68 15 81 6-167 10 78 16 92 6-166 10 75 14 89 6-199 10 88 16 105 5-148 10 64 15 75 6-161 10 61 16 73 6-174 10 86 15 102 5-157 11 72 15 85 5-163 11 67 15 78 6-164 10 73 5 28"/>
<path class="c1" d="M242 675l10 14 6-107 10 40 15 48 5-105 11 33 15 40 5-100 11 34 15 41 5-113 11 41 16 48 5-130 11 47 15 56 6-120 10 45 14 53 6-116 10 37 16 45 5-120 11 28 16 33 5-124 10 49 15 58 5-109 10 26 16 31 5-137 11 60 15 71 6-138 10 70 15 83 6-146 10 58 15 68 6-183 10 75 15 88 6-168 10 73 16 87 5-173 10 71 16 84 5-181 11 80 15 96 6-178 10 75 15 88 6-186 10 77 15 91 6-204 10 96 15 114 6-202 10 76 15 90 5-185 11 81 16 96 5-183 10 89 16 106 5-196 11 93 15 110 6-200 10 85 14 101 6-188 10 84 16 99 5-184 11 85 15 102 5-179 11 85 15 100 5-175 11 79 15 93 6-186 10 84 15 98 6-179 10 79 16 94 6-175 10 74 15 87 5-168 10 80 16 96 6-180 10 83 15 97 5-168 11 79 15 93 6-187 10 94 15 112 5-163 11 75 15 89 5-147 11 66 15 79 6-174 10 72 15 84 6-170 10 75 5 29"/>
<path class="c1" d="M242 675l10 15 6-96 10 35 16 41 5-99 10 33 15 39 6-97 10 29 15 35 5-121 11 49 15 58 6-118 10 44 15 51 6-102 10 30 16 35 5-118 10 37 16 45 6-120 10 33 14 39 6-100 11 30 15 34 6-107 10 49 15 57 6-125 10 58 15 68 5-132 11 63 15 76 6-130 10 56 15 66 6-163 10 74 15 87 6-154 10 62 16 73 5-164 11 71 15 84 6-166 10 70 15 83 6-160 10 69 15 82 6-164 10 62 15 74 6-205 10 85 15 101 6-201 10 92 16 108 5-196 10 80 15 94 6-178 10 80 15 94 6-180 10 84 16 99 5-186 10 89 16 104 5-184 11 73 15 86 6-169 10 79 15 94 6-192 10 81 15 96 6-158 10 68 15 81 6-178 10 84 15 99 6-170 10 76 16 89 5-149 10 72 16 85 5-172 10 77 16 92 5-167 10 78 15 93 6-155 10 72 16 86 5-162 10 67 16 80 5-174 11 77 15 91 5-180 11 84 15 100 6-161 10 74 15 87 6-171 10 74 5 28"/>
<path class="c1" d="M242 674l10 15 6-104 10 38 15 44 6-92 10 29 16 35 5-110 10 40 16 46 5-107 10 40 16 47 5-128 10 41 16 48 6-114 10 48 15 57 6-122 10 40 16 46 6-135 9 43 15 52 6-103 10 36 16 42 5-99 10 31 16 37 5-107 10 52 16 62 5-131 11 53 15 62 6-150 10 53 15 63 5-171 11 75 15 89 6-158 10 77 15 91 6-157 10 67 15 80 6-160 10 62 15 74 5-171 11 77 15 91 6-158 10 59 16 71 5-204 10 99 15 118 6-177 10 69 16 82 6-188 10 73 15 87 6-211 10 102 15 121 6-186 10 81 15 96 6-172 10 82 15 96 6-189 10 91 15 107 6-172 10 69 15 81 6-163 10 78 15 91 6-182 10 88 16 104 5-174 10 75 15 88 6-181 10 80 16 94 6-185 10 85 15 100 6-151 10 66 15 77 6-176 10 76 15 89 6-162 10 75 15 90 6-184 10 86 15 102 6-148 10 65 15 77 6-173 10 80 16 94 5-176 11 92 15 108 6-178 10 80 4 28"/>
<path class="c1" d="M242 673l9 18 6-97 10 37 15 43 6-96 10 32 16 38 6-96 10 33 15 39 5-106 11 37 15 44 6-117 10 42 16 49 5-119 10 41 15 47 6-118 10 46 15 55 6-116 10 45 16 52 5-121 11 44 15 52 5-100 10 34 16 41 5-110 11 52 15 60 6-125 10 40 15 49 6-120 10 34 15 40 6-165 10 76 15 89 6-156 10 57 16 67 5-170 11 85 15 99 6-159 9 59 15 68 6-182 10 78 15 92 6-184 10 74 16 87 6-210 10 85 15 101 6-191 10 88 15 105 6-202 10 86 15 103 6-177 10 92 15 108 6-191 10 90 16 107 5-185 10 86 15 102 6-187 10 85 16 101 5-181 10 82 16 95 5-185 10 83 16 99 5-185 10 85 16 100 5-165 11 72 15 84 6-161 10 70 15 83 5-178 11 82 15 95 6-169 10 77 15 91 6-178 10 80 15 95 6-173 10 89 16 106 5-159 10 75 16 90 5-160 11 61 15 72 6-158 10 81 15 96 6-161 10 72 15 85 6-155 10 77 5 29"/>
<path class="c1" d="M242 675l10 15 6-97 10 36 15 43 6-112 10 42 16 50 5-103 10 35 16 40 5-108 10 31 16 37 5-120 10 43 16 50 5-103 11 36 15 43 6-132 10 58 15 70 5-114 11 31 15 38 6-113 10 29 15 33 5-103 11 44 15 53 6-119 10 52 15 62 6-140 10 47 15 57 6-142 10 69 16 81 6-148 10 53 15 62 5-173 11 78 15 93 5-167 11 83 15 98 6-183 10 83 15 98 6-179 10 71 15 84 6-176 10 71 16 85 5-188 10 76 15 91 6-213 10 89 15 105 6-194 10 84 16 100 5-183 10 81 15 96 6-202 10 93 16 110 5-195 10 79 15 93 6-186 10 92 16 109 6-205 10 98 16 115 5-196 10 79 16 93 5-182 10 81 16 96 5-194 10 83 16 99 5-171 10 79 15 92 6-174 10 75 16 88 6-178 10 85 15 101 5-179 11 91 15 107 5-166 11 80 15 94 6-150 10 73 16 87 5-185 10 79 15 93 6-158 10 77 16 91 5-162 10 77 16 90 5-170 10 80 5 29"/>
<path class="c1" d="M242 676l10 13 6-100 10 36 14 43 6-109 10 35 15 41 6-97 10 32 16 39 5-119 10 43 16 51 5-139 11 49 15 58 6-129 10 51 15 61 6-121 10 39 15 45 6-131 10 40 15 48 6-106 10 42 16 49 5-108 11 45 15 53 6-116 10 52 15 63 6-125 10 46 15 55 6-141 10 58 15 69 6-176 10 69 15 81 6-169 10 60 16 72 5-171 11 77 15 90 5-176 10 81 16 96 5-180 10 83 15 97 6-191 10 85 16 100 5-201 10 93 16 109 5-176 10 70 16 82 5-176 11 67 15 79 6-187 10 85 16 100 5-192 10 88 15 104 6-180 10 70 16 82 5-184 10 88 16 103 5-190 10 87 16 104 6-167 10 75 15 88 5-184 11 93 15 110 6-168 10 79 16 93 5-178 10 78 15 93 6-160 10 78 16 92 5-144 10 66 15 77 6-169 10 69 16 81 6-186 10 87 15 102 6-179 10 84 15 98 5-158 10 80 16 94 5-156 11 65 15 78 5-171 11 79 15 94 6-191 10 88 5 33"/>
<path class="c1" d="M242 675l10 14 6-93 10 34 15 39 5-93 11 30 15 35 6-94 10 29 15 35 6-107 10 37 15 43 5-123 10 37 15 43 6-126 10 45 16 52 5-124 11 46 16 54 5-120 10 32 15 39 6-127 10 46 15 54 6-120 10 49 16 57 6-136 10 54 15 63 5-140 11 68 15 80 6-156 10 69 15 82 5-170 10 74 16 88 5-174 11 73 15 86 6-168 10 69 15 83 6-195 10 82 15 98 6-198 10 80 15 95 6-174 10 69 16 81 6-194 10 83 15 98 5-200 11 88 15 103 6-196 10 87 15 103 6-183 10 83 15 99 6-192 10 82 15 97 6-207 10 92 16 109 5-193 10 86 15 101 6-178 10 87 15 104 6-170 11 76 15 90 6-195 10 93 15 110 5-172 11 84 15 100 6-190 10 92 15 110 5-161 10 66 16 78 5-180 11 82 16 97 5-174 10 74 15 87 6-181 10 93 16 110 5-179 11 80 15 94 6-169 10 80 15 93 5-185 11 83 15 98 6-185 10 76 15 90 6-175 10 82 5 35"/>
<path class="c1" d="M242 674l10 15 6-97 10 35 16 41 6-99 10 33 15 40 6-106 10 39 15 45 5-113 11 40 15 48 6-129 10 45 15 53 6-116 10 42 15 50 6-109 10 42 16 51 5-111 10 33 15 39 6-122 10 44 15 51 6-99 11 38 15 46 6-117 10 40 15 47 6-129 10 50 15 58 6-135 10 65 15 77 5-157 11 72 15 84 6-156 10 62 16 72 5-167 11 66 15 78 5-158 10 67 15 79 6-202 10 87 16 103 5-169 11 69 15 82 5-216 10 92 16 109 5-199 11 83 15 98 6-188 10 87 15 104 6-188 10 89 16 105 5-191 10 77 16 91 5-191 10 83 15 99 6-192 10 75 15 89 6-196 10 90 16 106 5-193 11 88 15 104 5-180 10 82 16 96 5-194 11 98 15 116 6-165 10 79 15 93 5-185 11 80 15 94 6-195 10 93 15 111 6-153 10 70 16 82 5-192 10 85 16 101 5-179 11 86 15 102 5-167 10 76 16 90 5-169 10 74 15 88 6-158 10 71 16 83 5-179 11 84 4 28"/>
<path class="c1" d="M242 674l10 15 6-93 10 31 15 37 6-104 10 33 15 40 6-106 10 34 15 40 6-124 10 43 15 51 6-128 10 41 16 49 5-128 10 42 15 50 6-132 10 48 16 56 5-133 10 39 16 47 5-112 11 49 15 58 6-106 10 43 15 51 6-110 10 51 16 61 5-126 10 53 16 63 5-153 11 60 15 71 6-155 10 63 14 75 6-167 10 70 16 82 5-180 10 63 16 74 5-170 11 82 15 96 6-173 10 69 15 81 6-196 10 91 15 108 6-186 10 72 15 86 6-215 10 94 15 112 6-209 10 92 15 108 6-207 10 97 16 114 6-198 10 88 14 105 6-185 10 94 16 112 6-201 10 97 15 115 6-183 10 83 15 97 5-171 11 81 15 97 6-174 10 84 16 100 5-188 10 82 15 97 6-163 10 64 15 75 6-175 10 84 16 99 5-163 10 68 16 81 5-163 10 66 16 79 5-181 11 85 15 100 6-168 10 82 15 98 5-188 10 85 16 101 5-172 11 76 15 90 5-158 11 81 15 96 6-157 10 65 5 24"/>
<path class="c1" d="M242 677l10 12 6-104 10 38 15 46 6-99 10 32 15 39 5-103 11 33 16 39 6-107 10 34 14 41 6-129 10 40 16 48 6-128 10 54 15 63 6-115 10 48 15 57 5-118 11 36 15 43 5-106 11 41 15 48 6-98 10 36 15 42 6-112 10 43 15 51 6-132 10 44 15 53 6-132 10 54 16 64 5-182 10 72 16 85 5-182 10 77 16 91 5-175 11 86 15 102 5-180 11 75 15 89 6-177 10 86 15 101 6-187 10 80 16 95 5-185 10 70 15 83 6-194 10 89 16 105 5-203 10 94 15 111 6-188 10 78 16 92 5-167 10 81 15 95 6-175 10 76 16 90 5-197 11 88 15 105 6-155 10 78 15 93 5-165 11 72 15 86 6-179 10 71 15 84 6-185 10 90 15 106 6-174 10 74 15 88 6-165 10 78 16 93 6-151 9 71 15 84 6-164 10 66 15 78 6-167 10 67 16 80 6-172 10 82 16 96 5-168 10 82 16 96 5-173 10 80 15 94 5-152 11 69 16 82 6-161 10 67 4 24"/>
<path class="c1" d="M242 674l10 17 6-95 10 36 15 41 6-106 10 36 15 43 6-109 10 37 16 43 5-113 11 40 15 46 6-132 9 50 15 59 6-119 10 43 16 51 6-107 10 32 15 39 6-117 10 42 15 49 6-115 10 43 15 51 6-107 10 50 15 60 6-109 10 45 16 53 5-125 10 54 16 64 5-136 11 56 15 67 5-155 11 52 15 62 5-171 11 80 15 95 6-163 10 74 15 87 6-177 10 75 15 88 6-170 10 68 16 80 5-162 10 67 15 79 6-184 10 66 16 78 5-200 10 92 16 108 5-182 10 80 15 94 6-168 10 73 16 86 6-164 10 78 15 91 5-186 11 87 15 102 6-166 10 72 15 85 6-181 10 77 16 92 5-162 10 76 15 90 6-185 10 85 15 101 6-174 10 76 15 90 6-177 10 82 16 96 6-167 10 79 15 93 5-155 10 71 16 83 6-157 10 73 15 87 5-176 11 75 15 89 5-164 10 73 15 87 6-152 11 62 15 73 6-158 10 73 15 86 6-158 10 75 15 89 6-171 10 72 5 28"/>
<path class="c1" d="M242 674l10 15 6-83 10 29 16 34 6-105 10 35 14 42 6-100 10 33 16 40 6-116 10 44 15 51 5-125 11 41 15 48 6-117 10 44 15 53 5-119 11 35 15 42 6-129 10 47 15 56 6-115 10 31 16 37 5-120 10 49 15 58 6-124 10 53 16 61 5-112 10 51 16 61 5-148 11 68 15 81 5-175 10 73 16 87 5-158 11 66 15 78 6-162 10 77 16 91 5-163 10 76 15 90 6-173 10 67 15 81 6-166 10 71 16 85 5-189 10 77 16 92 5-193 10 88 16 104 5-193 11 70 15 83 6-177 10 83 15 98 6-190 10 84 15 98 5-177 11 76 15 89 6-183 10 74 15 87 6-202 10 94 15 112 6-185 10 97 15 114 5-169 11 81 16 95 6-156 10 59 15 70 5-160 10 66 16 79 5-178 11 82 15 97 6-189 10 81 15 97 5-161 11 77 16 91 5-168 10 73 15 86 6-173 10 79 16 93 5-185 10 95 15 112 6-169 10 72 15 86 6-159 10 75 16 89 5-177 10 83 5 30"/>
<path class="d2" d="M1746 971l12 0 8-6 9-32 6-53 7-47 7-120 9-151 6-90 6 22 8-142 8-90 8-25 5 118 8-87 8-43 7 5 6 129 7-67 8-7 8-6 6 146 8-35 8 5 6 6 7 123 7-26 8 9 7 19 6 98 8-17 7 6 8 15 6 77 8-11 8 7 6 5 7 61 8-8 7 5 8 20 6 41 7-5 8 4 8 9 6 32 7-4 8 3 8 11 5 22 8-2 8 2 7 8 5 14 9 0 7 1 7 3 6 11 9-1 7 1 8 5 5 7 9 0 7 1 8 0 6 6 16 0 6 1 6 4 16 0 7 1 5 3 17 0 7 1 6 2 8-1 8 1 375 0"/>
<path class="d2" d="M1746 971l12 0 9-8 7-34 8-96 6-50 7-161 7-184 8-118 6 90 9-154 7-74 7-50 6 185 7-113 10-57 6-32 5 191 8-115 9-57 7-2 6 187 8-112 7-50 7 6 6 199 8-75 8-17 7 3 6 178 8-54 8-6 7-1 6 152 8-43 8 0 6 25 6 118 9-28 8 2 6 12 6 92 9-18 7 0 7-2 6 74 8-16 8 2 7 15 6 53 9-9 8 3 6 16 6 36 8-6 8 2 7 13 6 24 7-4 9 2 7 4 5 17 9-3 7 1 7 2 6 12 8-1 8 0 7 5 6 8 8-1 8 1 7 0 6 6 8-1 8 1 7 1 6 4 8-1 8 1 7 0 5 3 16 0 8 1 339 0"/>
<path class="d2" d="M1746 971l12 0 9-1 8-4 6-8 6-7 8-26 8-45 7-40 6-10 8-90 8-86 7-101 6 39 8-120 8-91 7-51 6 106 8-100 8-42 7-13 6 148 7-55 8-8 8 10 5 133 7-38 9 1 7 45 6 106 7-26 9 6 7 1 6 86 8-16 7 3 7 18 7 68 7-13 8 5 8 5 5 51 9-7 7 3 8 14 5 36 9-4 7 2 7 12 7 27 7-4 8 3 8 6 5 17 8-2 8 2 7 3 6 13 8-2 7 2 8 2 5 9 9 0 7 1 7 3 7 6 14 0 9 3 5 4 8-1 8 1 7 1 5 2 9 0 8 1 8 0 5 1 391 0"/>
<path class="d2" d="M1746 971l12 0 9-6 7-21 8-55 5-30 9-136 7-144 8-117 5 39 9-173 8-104 6-21 6 148 8-104 7-51 8-57 7 171 7-103 8-51 7-12 5 170 9-85 7-25 7 17 7 174 7-59 8-10 8 16 5 146 8-44 8-4 7 0 6 130 8-37 8 1 7 7 6 106 8-29 7 1 8 14 5 81 9-19 8 1 7-4 5 68 9-15 7 1 7 12 6 54 9-11 7 1 7 16 6 38 7-9 9 3 7 7 6 28 8-6 8 2 6 0 6 22 8-4 8 1 8 8 5 16 8-3 8 1 7 2 6 12 8-3 8 1 7 3 6 9 8-1 8 0 7 2 5 6 9-1 8 1 7 1 5 4 16 0 8 1 6 3 7-1 8 0 7 1 6 2 23 0 6 2 23 0 6 1 247 0"/>
<path class="d2" d="M1746 971l12 0 8-15 8-57 8-102 6-41 7-167 7-148 9-87 5 116 9-113 7-55 7-35 6 162 8-97 8-49 7-9 6 161 7-91 9-25 7 5 5 165 9-57 7-11 7 28 6 138 8-43 8-4 7 9 6 113 8-32 8 1 7 8 5 91 10-19 7-2 7 3 5 69 9-15 7 1 7 11 6 53 8-11 8 2 8 11 5 39 8-8 8 2 7 1 7 30 7-6 7 1 7 7 7 21 8-4 8 1 6 3 7 15 8-3 7 1 8 2 5 10 9-1 8 1 7 1 5 7 8-1 9 1 6 1 6 5 8-1 8 0 7 1 6 3 15 0 8 1 6 2 15 0 8 1 6 1 22 0 6 1 334 0"/>
<path class="d2" d="M1746 971l12 0 8-3 8-14 8-26 5-18 8-64 9-85 6-77 6 4 9-126 7-91 7-83 6 85 8-104 8-61 6-61 6 137 9-91 7-46 8-15 5 146 9-85 7-28 8 28 6 149 8-52 8-7 6 11 6 132 8-37 8-3 7 4 6 110 8-27 8 4 7 16 6 90 8-18 8 3 7 18 6 68 8-14 7 3 8 27 5 48 8-8 8 3 7 1 6 39 8-6 8 3 6 5 7 29 8-3 8 2 7 6 5 20 9-1 8 1 7 4 5 14 8-1 8 2 7 3 7 10 7-1 8 1 7 3 6 7 8-1 8 1 7 2 5 4 9 0 8 1 7 1 6 3 16 0 6 1 6 2 23 0 6 2 334 0"/>
<path class="d3" d="M1746 971l10 0 3-1 8-10 7-29 7-53 6-26 8-93 9-114 7-79 5 54 8-99 8-56 6-16 6 100 8-72 9-40 7-96 6 125 8-84 8-46 7-9 5 128 9-86 7-45 7 59 6 117 8-78 8-42 7-15 6 120 8-80 7-42 8-42 6 129 8-85 8-46 7 32 6 124 7-81 8-35 8-2 6 131 8-64 7-25 8 30 6 119 7-51 9-15 6-16 6 113 8-43 8-9 7-5 6 103 8-34 7-7 8 18 6 88 7-28 8-3 8-20 6 79 8-21 7-2 7 39 6 58 9-12 8 1 7 7 5 44 8-9 7 1 8 6 5 34 9-6 7 2 8-2 6 29 8-5 7 1 8 2 5 22 9-3 7 1 7 2 7 16 8-2 7 1 8 8 5 11 8-1 8 1 7 4 6 7 8-1 8 1 7 1 5 4 8 0 8 1 8 1 5 3 23 0 6 2 8 0 8 1 7 1 7 1 15 0 7 1 138 0"/>
<path class="d3" d="M1746 971l12 0 9-4 8-20 6-33 7-30 7-87 8-120 8-113 6 22 7-123 8-85 7 26 6 98 8-80 8-43 8-29 5 114 8-81 7-44 8-98 6 133 8-94 7-52 8-12 5 141 8-82 8-35 8-6 5 149 8-70 8-25 7-37 6 150 7-62 8-17 8 29 6 133 8-47 7-11 7-18 6 123 9-37 7-5 8 72 5 91 8-24 8-2 7-20 6 83 8-19 8 1 7 36 5 60 9-13 8 3 6 11 7 49 8-9 8 3 6 11 7 36 8-5 7 2 8 4 6 27 7-4 8 2 7 8 6 19 8-2 8 3 7 1 5 14 9-1 8 2 7 4 6 9 8 0 8 1 6 1 7 7 8 0 7 1 8 1 5 5 24 0 5 4 15 0 8 2 6 2 15 0 8 1 5 1 16 0 7 1 6 1 219 0"/>
<path class="d2" d="M1746 971l13 0 8-14 7-53 8-104 5-52 8-196 8-159 7-133 5 103 9-106 8-48 7-18 6 161 7-48 9 15 6 40 7 149 8-14 8 23 7 28 6 108 8 1 8 20 7 39 5 68 8 3 8 16 8 26 5 39 8 2 8 11 8 12 5 22 8 3 7 5 8 8 6 13 7 1 9 4 7 2 6 7 8 1 7 2 8 2 5 3 9 1 7 1 606 0"/>
<path class="d2" d="M1746 971l12 0 8-2 8-13 7-25 7-21 7-79 8-111 7-111 5 19 10-185 7-123 7-47 6 135 8-118 8-59 8-28 5 183 8-75 7-21 8-8 6 173 8-58 7-13 8 26 5 143 9-43 7-8 7-11 6 124 8-36 8-3 7 16 6 98 8-26 8-1 7 8 6 80 8-20 7-2 8 7 5 61 9-14 8 0 6 9 7 48 8-12 7 0 7 3 6 37 8-9 7 1 8 9 6 27 8-6 7 0 8 3 6 21 7-5 8 0 8 3 5 16 8-4 8 1 8 2 5 11 8-2 8 0 8 5 6 8 8-2 7 0 8 1 5 6 8-1 8 0 7 1 6 5 8-1 14 0 6 4 8-1 8 0 7 1 7 3 7-1 8 0 7 1 6 2 8-1 15 0 6 1 276 0"/>
<path class="d2" d="M1746 971l11 0 9-2 9-14 6-25 6-29 9-85 7-105 8-90 5-15 8-127 7-85 9-88 5 80 9-72 7-23 7-11 6 119 8-28 8 2 6 5 7 108 8-17 7 7 7 45 6 82 9-9 7 7 8 3 5 68 8-7 8 10 7 27 6 50 8-3 8 7 7 20 6 39 8-3 7 6 8 14 5 26 9 0 7 4 7 0 6 22 9 0 7 3 7 3 6 16 8 0 8 3 7 7 6 11 8 0 8 2 7 1 6 9 8 0 7 1 8 2 6 6 7 0 8 1 8 3 5 4 8 0 8 1 7 1 6 3 8 0 8 1 7 0 6 2 8 0 8 1 7 0 5 1 8 1 384 0"/>
<path class="d3" d="M1746 971l12 0 9-6 8-19 6-21 6-15 8-58 8-64 7-66 6 5 8-96 8-79 7-92 6 69 8-99 8-64 7-51 5 115 9-92 8-53 7 66 5 114 8-81 9-45 6 8 7 123 7-66 8-24 7-24 6 129 8-51 8-12 7-81 7 140 8-42 7-3 7 25 5 116 9-25 7 3 8 46 6 88 8-15 7 7 8 15 5 67 8-9 8 8 6 14 7 52 8-4 7 7 8 3 6 36 9-1 7 6 7 15 6 22 8 0 8 4 6 4 7 14 7 1 9 3 7 5 5 8 9 0 7 2 7 1 5 5 9 1 8 1 7 2 6 2 8 0 8 1 7 1 6 1 391 0"/>
<path class="d3" d="M1746 971l13 0 7-1 8-6 8-14 5-11 8-39 8-58 7-47 5-10 10-112 7-82 7-43 6 25 8-86 8-61 7-101 6 78 8-76 8-34 7 86 5 93 9-34 8-4 6-33 6 100 8-25 8 6 7 45 6 81 9-9 7 7 7 29 6 64 8-5 8 11 7-5 6 53 8-1 8 11 7 13 5 40 8 0 8 10 8 12 5 28 9 3 7 6 8 13 6 18 7 1 8 5 6-1 7 13 8 2 8 4 7 0 5 9 8 1 9 3 7 6 6 5 7 1 8 1 7 3 6 3 8 0 8 1 8 1 5 1 449 0"/>
<path class="d3" d="M1746 971l11 0 10-15 7-47 8-63 5-26 8-111 8-94 8-61 5 41 9-78 7-42 7-59 6 84 8-65 7-36 8-6 6 89 8-67 8-37 7-9 6 92 8-68 7-27 7-70 6 121 8-48 8-7 8 32 5 111 8-27 8 4 7 0 6 102 7-17 9 16 7-22 6 87 8-3 8 15 6 10 7 70 7 0 8 15 8 46 5 38 8 4 8 10 8 7 6 28 7 2 8 8 7 18 7 15 7 2 9 4 6 3 6 8 8 2 7 2 7 1 6 5 8 1 9 2 6 1 6 3 9 0 8 1 6 1 6 1 449 0"/>
<path class="d2" d="M1746 971l13 0 8-2 8-8 7-20 5-13 8-59 8-84 8-86 6-12 7-125 8-114 7-68 6 80 8-101 8-55 7-31 6 128 8-80 8-40 6 1 6 129 9-55 7-12 8 4 6 136 8-38 7-4 8 9 5 114 9-24 7 1 7 41 6 87 8-17 8 4 7-3 6 74 8-13 8 4 7 26 6 52 8-8 7 3 7 3 6 42 9-6 7 3 8 3 5 31 8-5 9 4 6 6 5 23 9-2 8 2 7 3 6 17 8-2 8 2 6 4 6 12 8-1 8 1 8 4 5 9 9-1 7 1 8 1 5 6 16 0 7 2 6 4 15 0 8 1 7 3 22 0 5 2 8 0 9 1 346 0"/>
<path class="d3" d="M1746 971l12 0 9-2 8-6 7-12 5-8 8-35 8-45 8-38 5 1 8-76 8-69 7-68 6 48 8-93 8-61 6-74 7 100 8-90 7-46 8-39 5 134 8-72 8-30 8 13 5 130 8-58 8-20 7-24 6 126 8-50 8-12 7-16 6 119 8-40 8-9 7 44 6 93 7-29 9-2 7-16 6 84 7-23 9 2 7 5 5 67 8-16 8 2 7 9 6 53 8-11 8 3 7 17 6 38 8-6 8 2 8 15 5 24 8-3 8 2 6-2 6 19 8-2 8 2 7 7 6 12 8-1 9 2 6 0 7 9 7-1 8 1 7 3 6 5 15 0 8 2 6 3 8 0 7 1 8 0 6 2 8 0 7 1 8 1 5 1 334 0"/>
<path class="d3" d="M1746 971l13 0 8-5 7-13 7-22 6-14 8-52 8-68 7-55 7-5 7-90 8-80 7-116 6 55 8-98 8-68 7-88 5 113 9-94 8-52 7-46 6 131 7-92 8-51 7 109 6 116 8-80 8-45 7-43 5 125 9-86 8-42 7 2 6 149 8-39 8 5 7 64 6 124 8-19 7 11 7-38 7 115 7-13 8 15 7 20 6 85 8-7 8 17 7 12 7 62 7-2 8 10 8 39 5 35 8-1 8 8 7 14 6 22 8 1 8 5 7 8 6 13 8 1 7 3 7 3 6 8 9 1 7 2 7 3 6 4 8 1 8 1 7 0 6 3 8 1 8 0 7 1 6 2 8 0 8 1 7 0 6 1 15 0 8 1 339 0"/>
<path class="d2" d="M1746 971l9 0 4-1 7-13 8-50 7-89 6-51 8-174 8-157 8-102 5 98 8-112 8-56 8-7 4 146 10-88 7-44 7-20 6 148 7-89 9-44 7-35 6 152 8-84 7-26 8 25 6 152 8-56 7-12 7-2 6 139 8-43 7-6 9 9 5 116 8-33 7-1 8 34 5 90 9-22 7 0 7 22 6 72 8-17 8 3 7-4 7 59 7-13 8 2 8 18 5 42 8-9 8 3 8 12 5 30 9-5 6 1 8 4 6 23 8-4 7 2 8 2 6 17 7-3 7 1 9 3 5 12 8-2 8 1 7 2 6 9 9-1 7 0 7 2 5 6 17 0 7 2 5 4 17 0 6 1 7 3 8-1 7 1 8 0 5 2 16 0 8 1 5 1 16 0 7 1 22 0 7 1 253 0"/>
<path class="d2" d="M1746 971l12 0 9-13 7-38 8-75 5-26 8-128 8-129 7-123 7 60 7-127 8-75 7-77 5 155 9-101 8-50 8 27 5 165 7-70 8-18 8-7 6 157 8-53 7-10 7 29 6 131 9-37 7-5 7 16 7 107 7-28 8-1 7 15 6 84 7-21 9 3 7 1 6 67 8-13 8 3 7 15 5 49 9-10 7 2 7 8 6 37 9-6 7 1 8 11 5 26 8-4 8 1 7 4 6 19 8-3 8 2 7 1 6 14 7-2 9 1 7 4 5 9 9-1 8 1 7 1 5 7 9-1 6 0 9 2 6 4 15 0 7 2 6 3 8-1 8 1 7 1 6 2 7-1 8 1 376 0"/>
<path class="d3" d="M1746 971l12 0 8-2 8-13 8-30 6-26 8-80 7-85 7-79 5 2 9-110 8-68 8-48 5 72 8-63 8-35 7-8 6 85 8-61 7-33 8 36 5 82 9-58 7-31 8-65 4 92 9-65 8-36 7-40 6 100 8-70 8-34 7-34 6 118 7-50 9-13 7 68 6 102 8-37 7-8 8 17 5 89 8-29 9-2 7-9 6 84 7-24 8-2 7-2 6 74 8-18 8-1 7 24 6 60 8-14 8 1 6 27 7 48 8-10 7 1 8-5 6 41 7-9 8 2 7 18 6 31 8-6 8 2 8 2 5 25 8-4 8 2 7 4 6 21 7-5 9 2 7-11 6 20 7-4 8 2 8 8 6 15 8-2 7 1 7 6 6 11 8-1 9 1 7 3 5 8 7-1 9 1 7 0 6 6 16 0 7 2 6 5 15 0 7 1 7 4 15 0 7 1 6 2 8 0 9 1 7 0 5 2 8 0 8 1 8 0 5 2 23 0 5 1 104 0"/>
<path class="d3" d="M1746 971l9 0 3-1 8-8 8-28 8-43 5-14 9-86 7-75 7-70 6 33 8-71 8-45 7-14 6 72 8-54 8-30 7-6 6 78 8-55 8-30 7-70 5 92 9-64 7-35 8 42 5 86 8-60 8-32 8 18 5 95 8-32 8-4 8 11 5 87 8-21 8 3 7 13 6 72 7-15 8 6 8-7 6 61 7-10 9 8 6 13 6 46 9-5 7 6 7 7 6 34 8-3 8 4 7 13 6 22 8-1 8 3 7 2 5 15 9 0 8 2 7 5 6 10 8 1 7 1 8 2 5 7 8 0 8 1 8 2 5 4 8 0 8 1 7 1 6 2 8 0 8 1 7 1 397 0"/>
<path class="d2" d="M1746 971l13 0 7-1 9-6 7-13 6-11 7-35 8-50 7-76 6-18 8-109 7-101 8-78 6 41 8-88 8-34 7 33 6 115 8-16 7 18 8 40 6 94 8 5 7 21 7 23 6 63 8 6 8 19 8 14 5 37 8 6 8 11 7 13 6 21 8 4 7 6 8 7 6 11 8 2 8 4 7 4 5 5 9 1 7 2 7 1 6 3 8 0 8 1 7 1 599 0"/>
<path class="d2" d="M1746 971l13 0 8-9 8-26 7-46 5-21 8-99 8-118 7-81 6 13 8-141 8-106 7-57 6 110 8-110 8-54 7-19 6 161 8-61 8-10 7-35 5 156 9-44 8-5 6 14 6 134 8-36 8 0 7 26 6 106 8-23 8 2 8 26 5 81 8-18 8 3 7 17 6 62 8-13 7 2 7 1 6 53 8-10 8 2 8 12 5 38 9-6 7 1 8 7 5 29 9-5 6 1 8 9 6 21 8-3 7 1 8 2 6 16 8-2 7 0 7 5 7 12 8-2 8 1 7 3 5 8 8-1 7 0 8 1 6 6 16 0 7 2 6 4 8-1 8 1 7 1 6 3 7-1 9 1 7 0 5 2 16 0 8 1 5 2 9-1 7 1 7 0 6 1 305 0"/>
<path class="d2" d="M1746 971l12 0 9-4 7-15 7-32 7-36 7-87 8-121 7-132 7-21 7-137 8-97 7-48 6 94 7-33 9 27 7 74 6 119 8 18 8 37 7 18 5 86 9 21 7 28 8 39 5 50 8 14 9 20 6 14 7 28 7 7 8 11 7 10 6 14 8 4 7 4 8 4 6 6 8 3 7 2 7 2 7 3 8 1 7 1 8 1 5 0 9 1 613 0"/>
<path class="d2" d="M1746 971l13 0 8-2 7-11 7-26 6-26 8-77 8-117 8-95 5-12 8-142 8-120 7-67 6 98 8-93 9-45 6-3 5 124 9-75 7-38 7 14 7 122 8-56 7-15 8 23 5 124 8-39 9 1 7 22 5 106 8-27 8 1 7 2 6 93 8-21 8 2 7 5 6 76 8-14 8 4 7 5 5 62 8-11 9 6 6 32 7 45 7-7 8 2 7 3 6 36 8-5 8 3 7 2 6 29 8-4 7 2 8 2 5 22 8-3 9 3 7 6 6 16 7-2 8 2 8 4 6 12 7-1 8 1 7 1 6 9 9-1 7 1 8 5 5 6 8-1 8 1 7 2 6 4 15 0 8 1 6 3 15 0 7 1 6 2 16 0 7 1 6 1 16 0 7 1 6 1 276 0"/>
<path class="d2" d="M1746 971l12 0 9-1 8-7 6-9 7-10 7-34 9-51 7-63 5 8 8-97 8-99 8-94 6 74 7-119 8-83 7-42 6 135 8-96 8-29 7-1 6 164 7-57 8-8 7 31 7 136 8-38 7-2 7 16 6 104 8-26 8 2 8 9 5 79 8-19 8 2 7 3 6 64 8-14 8 3 7 13 5 44 8-9 8 2 8 14 6 31 7-7 8 2 7 5 6 21 8-4 7 2 7-1 7 17 8-3 8 1 7 5 6 11 7-2 9 1 7 2 5 7 8-1 8 1 8 2 5 4 9-1 7 1 7 1 6 3 9-1 8 1 6 0 6 2 23 0 6 2 391 0"/>
<path class="d3" d="M1746 971l12 0 9-2 7-5 7-10 7-11 7-28 8-39 7-48 6-11 7-65 9-66 7-51 6 23 8-60 8-39 7-2 6 55 8-43 7-24 8-13 5 61 8-43 8-24 7-39 6 68 9-47 8-26 6 39 6 63 8-44 8-24 7-20 5 67 9-46 8-25 7-52 6 81 8-33 8-3 7 41 6 80 8-13 8 10 7 26 5 63 9 0 7 9 7-12 6 57 8 1 8 13 7 39 6 37 8 3 8 10 7 6 6 25 8 4 8 7 7 14 6 15 7 2 9 5 6 0 6 10 8 2 9 4 7 1 5 6 8 2 8 2 7 3 5 3 8 1 9 1 7 2 6 1 7 1 384 0"/>
<path class="d2" d="M1746 971l12 0 9-4 8-20 7-43 5-33 8-113 8-147 7-118 6-5 8-141 8-79 6-36 7 102 8-71 8-34 8 15 5 108 8-65 8-32 7-28 5 110 9-65 8-14 8 6 4 118 8-34 8-3 7 0 6 114 9-25 7 4 7 2 6 96 8-19 8 6 7 18 6 80 8-12 8 4 6 2 6 68 9-8 7 3 8 41 5 47 8-6 8 5 7 13 6 37 9-3 6 2 8 7 6 28 8-3 8 4 7 4 5 22 9-2 7 3 7 2 7 19 8-1 8 1 7 6 6 13 8-1 7 2 7 7 6 9 8-1 8 1 7 0 6 8 8-1 8 1 7 1 5 6 9-1 8 1 7 1 5 4 9 0 7 1 8 1 5 3 16 0 7 1 6 2 8 0 8 1 7 1 6 1 24 0 4 1 8 0 9 1 7 0 6 1 218 0"/>
<path class="d3" d="M1746 971l12 0 9-7 8-33 7-64 5-42 8-132 8-145 7-56 6 43 8-90 8-45 7-7 6 93 8-65 7-35 8-66 6 105 7-71 9-41 7-65 5 118 9-81 7-44 8 24 5 116 8-80 8-42 7 32 5 111 9-76 8-41 7-63 6 123 9-83 6-44 8 5 6 132 8-64 8-22 7-33 6 136 7-55 9-14 6 24 6 122 8-42 8-10 8 31 5 104 8-33 8-5 7 20 6 90 8-26 8-2 7-25 6 84 7-22 9 1 6 10 6 70 8-16 8 0 8 15 5 56 8-12 8 1 7-2 6 49 8-10 8 1 7 12 6 38 8-7 8 1 7 8 6 30 8-5 8 2 7 12 6 22 8-4 7 1 7 1 6 18 9-2 7 1 8 1 5 14 9-2 7 1 7 7 6 10 8-2 8 2 7 3 6 7 22 0 7 6 8-1 8 1 7 2 5 4 8-1 8 1 8 1 6 3 22 0 6 2 15 0 8 2 6 1 23 0 6 1 23 0 5 1 8-1 8 1 7 0 6 1 17 0"/>
<path class="d3" d="M1746 971l9 0 3-1 9-7 7-21 8-48 5-25 9-101 7-102 7-87 6 11 8-130 8-84 7-45 6 102 8-90 7-49 8-34 6 124 8-88 8-47 7 98 6 110 8-75 7-42 8-49 6 120 8-83 7-45 7-60 6 132 8-75 8-22 7 25 6 143 8-51 8-9 7-50 6 138 8-41 8-3 6 1 6 121 9-29 7-1 8 95 5 81 8-19 9 4 6 1 6 68 8-14 7 2 9 19 5 51 7-11 9 5 7-17 5 46 9-7 8 3 7 10 6 34 7-6 8 4 7-2 6 29 8-5 8 3 8 8 5 20 9-2 7 2 8 9 5 13 9-1 7 1 7 0 6 10 8-1 7 1 8 4 5 7 9-1 7 1 8 2 4 5 9-1 8 1 8 2 5 3 23 0 6 3 24 0 4 2 17 0 7 1 5 1 219 0"/>
<path class="d3" d="M1746 971l13 0 7-2 8-7 8-16 5-12 9-53 7-65 8-86 5-9 8-103 8-87 7-70 7 71 7-75 7-42 7-36 7 102 8-71 7-38 8-71 5 117 8-80 8-43 8 23 5 113 9-77 7-42 7-55 7 124 7-83 8-46 7 58 6 116 8-78 8-37 7-11 6 126 9-59 6-24 8-3 5 124 8-51 8-15 8 54 6 105 7-38 8-9 7 52 6 85 8-27 8-3 8 19 5 70 8-20 7-2 8-42 5 69 9-16 7-1 8 9 5 57 8-14 8 4 8 13 5 44 8-8 8 2 8 5 6 36 8-5 7 1 7-6 7 32 7-6 8 3 7 6 6 24 8-3 7 2 8 12 6 16 8-2 7 2 8 5 5 11 8-1 8 1 8 5 5 8 7-1 9 1 7 2 6 5 16 0 7 1 6 4 16 0 7 1 5 3 24 0 5 2 16 0 7 1 167 0"/>
<path class="d3" d="M1746 971l12 0 9-1 8-3 6-7 6-8 8-28 9-45 7-45 5-14 8-76 8-75 6-83 7 17 8-73 7-46 8-1 6 65 7-50 8-27 8-26 5 74 9-51 7-27 8 1 6 75 7-50 8-28 7 39 6 70 7-46 9-27 7-72 6 80 8-54 8-29 6-32 6 86 9-58 7-31 8-16 5 89 9-59 8-32 7 17 6 87 8-58 8-31 6-11 6 94 8-47 7-17 8-26 6 101 9-36 7-8 8-37 5 99 7-29 9 1 7 60 6 82 7-19 8 5 7 43 7 65 7-11 8 7 7 26 6 51 8-6 7 6 8 2 6 42 8-2 9 9 6 8 6 31 8 0 8 6 7 1 5 24 9 1 7 4 8 18 6 15 7 0 8 4 7 3 6 11 7 0 9 3 7 4 6 7 8 1 7 2 8-2 6 5 8 1 7 1 8 2 5 3 9 1 7 1 8 2 5 2 16 0 8 1 5 1 161 0"/>
<path class="d3" d="M1746 971l12 0 8-4 9-25 7-61 5-42 8-136 8-136 7-88 6 53 8-81 8-38 7-40 6 100 7-68 9-39 7-73 6 113 8-78 7-42 8 75 6 102 7-69 8-39 8 21 6 100 8-68 7-36 8 20 5 97 8-65 8-36 7 5 6 96 8-65 7-35 8-95 6 119 7-58 8-13 7-21 6 132 9-32 7 3 7 56 7 109 8-14 7 8 7 28 7 83 7-6 8 15 7 38 6 56 8 1 8 12 7 6 5 37 8 2 9 11 7 5 5 24 9 4 8 6 7 13 5 13 8 2 9 5 6 1 6 9 8 1 8 3 7 3 6 4 7 1 9 2 7 0 5 2 9 1 8 1 7 1 5 1 8 0 9 1 346 0"/>
<path class="d2" d="M1746 971l12 0 8-1 8-6 7-15 6-11 9-52 8-71 7-88 5 4 8-145 8-120 7-78 6 97 8-129 8-73 8-49 5 168 8-106 7-53 7 20 6 164 9-98 8-27 6 22 6 168 7-61 9-6 7 16 6 141 8-42 8-4 7 12 6 118 8-32 8 1 7 19 6 87 7-23 9 4 6 14 6 65 8-15 8 3 8 8 5 48 8-10 8 2 7 12 6 34 8-7 8 2 7 4 5 25 9-4 8 1 7 2 6 18 8-3 8 2 6 0 6 14 9-2 7 0 7 3 7 10 8-2 8 1 6 2 7 6 7-1 8 1 7 1 6 4 15 0 8 1 6 3 8-1 7 0 8 1 5 2 23 0 6 1 334 0"/>
<path class="d3" d="M1746 971l12 0 9-5 7-21 8-61 5-43 8-136 8-158 7-138 6 25 8-118 7-57 8 25 6 96 9-71 7-40 7 42 6 93 8-67 7-37 8-35 6 99 7-71 9-40 7-70 5 111 9-79 7-44 8 52 5 107 9-68 7-23 7-71 6 133 8-48 8-4 7 86 5 109 9-24 7 1 8 24 5 94 9-14 7 7 7 14 6 81 8-8 8 11 7-8 6 69 7-6 9 14 7 11 6 53 8-1 7 8 8 37 5 34 8 1 9 8 7 5 4 23 10 3 8 6 6 6 6 17 9 2 7 3 7 5 7 12 8 1 7 3 7 0 6 8 8 2 8 1 7 3 5 5 9 1 7 1 8 2 6 3 8 0 7 1 7 2 6 1 9 0 8 1 317 0"/>
<path class="d2" d="M1746 971l12 0 8-7 9-19 7-30 5-13 8-68 8-81 7-66 6 5 8-123 8-101 8-77 5 88 8-120 8-77 7-64 5 145 8-106 8-55 8-50 5 168 9-101 8-23 6 7 6 179 8-55 8-3 7 6 7 158 8-38 7-3 8 17 5 122 8-27 8 5 7 26 6 96 8-18 7 3 7 13 6 73 9-11 8 4 6 16 6 52 9-7 7 3 7 2 6 40 8-7 8 4 7 9 6 28 7-4 9 3 7 7 6 20 7-3 9 2 7 4 5 14 9-2 7 1 8 3 5 10 9-1 7 1 8 2 5 6 16 0 7 2 6 5 8-1 8 1 7 0 6 3 23 0 6 2 8 0 8 1 7 0 5 1 8 0 8 1 318 0"/>
<path class="d3" d="M1746 971l12 0 8-3 8-22 7-50 7-42 8-132 7-139 8-135 5 79 8-113 8-56 7-61 6 146 8-97 8-53 6-52 7 158 8-105 7-56 8-46 5 169 8-112 8-60 7 24 6 164 9-109 7-57 8 0 5 165 8-109 8-58 7 67 6 151 8-99 8-53 7 5 6 151 8-90 8-37 7-42 6 166 8-78 7-28 8-26 6 164 7-68 8-19 7 30 5 138 9-47 8-12 6 24 7 119 8-36 8-7 6 15 7 97 8-26 7-5 8 5 5 79 9-19 7-1 8-3 6 65 7-16 8 1 8 1 5 52 8-11 8 2 7 8 6 40 8-7 8 2 7 10 6 27 8-4 8 2 7 9 6 19 8-3 8 2 6 3 6 13 9-2 7 1 7 6 6 7 8-1 8 1 7 1 6 5 15 0 7 2 7 3 8 0 8 1 7 0 5 2 9 0 7 1 7 0 6 2 7-1 9 1 7 0 6 1 161 0"/>
<path class="d2" d="M1746 971l12 0 8-4 8-21 8-51 6-36 7-114 8-150 7-139 6 65 7-157 9-93 7 3 6 162 8-102 8-48 6-22 7 184 8-70 8-14 6-9 6 166 9-49 7-10 7 8 6 139 8-39 8 0 7 37 6 102 9-25 7-1 7 16 6 78 8-18 8 1 7 14 6 57 8-13 7 2 8 6 5 40 8-7 8 2 8 5 5 29 8-5 8 2 8 5 5 21 8-4 8 2 7 4 6 15 9-2 7 1 7 4 5 9 9-1 7 1 8 2 6 7 8-1 8 0 6 1 6 4 16 0 8 1 5 3 16 0 7 1 6 1 16 0 6 1 7 1 391 0"/>
<path class="d3" d="M1746 971l11 0 10-3 7-13 7-26 6-19 8-59 8-71 7-47 6 1 8-74 8-48 6 23 7 40 9-42 7-23 8-50 5 59 8-43 7-24 8-34 6 65 7-46 8-28 8-28 5 71 8-51 8-17 8 6 5 87 8-17 9 11 5 46 7 74 9-3 6 8 7-40 7 68 8-1 8 14 7 31 6 46 8 1 7 9 8 15 5 29 8 2 8 7 7 16 7 18 7 1 7 5 8 11 5 10 9 1 8 3 7 1 5 6 8 1 9 3 6 0 6 5 9 1 7 1 7 2 6 2 8 0 8 1 7 1 6 1 8 0 8 1 433 0"/>
<path class="d3" d="M1746 971l12 0 8-4 8-22 8-42 6-35 7-102 8-112 8-65 6 23 7-81 8-45 7-28 6 83 7-60 9-34 7-15 5 88 9-62 8-35 7-32 6 95 7-66 9-38 7-27 6 101 7-70 8-39 7 16 6 101 8-61 8-26 7-53 6 116 8-54 8-19 6 97 7 96 7-37 9-9 6-74 6 103 9-31 7-8 8-16 5 95 9-26 7-1 7 54 6 75 9-15 7 1 7-35 6 71 8-12 8 4 7 5 6 58 8-8 7 4 8 11 6 44 7-6 8 7 7 2 6 36 9-3 7 4 7 18 6 23 9 0 7 3 8 9 5 15 8 0 8 3 7 6 6 10 8 0 8 2 7 2 5 6 8 1 9 1 7 0 6 4 7 1 8 1 7 1 6 3 8 0 7 1 8 0 6 2 8 0 8 1 7 0 6 1 247 0"/>
<path class="d2" d="M1746 971l12 0 8-5 9-34 7-67 5-24 8-143 8-171 8-157 5 67 8-176 8-104 7-12 6 178 8-117 8-49 7 13 6 196 7-79 8-19 8 35 6 168 7-59 8-10 8-38 6 155 7-52 9-3 6 14 5 125 9-35 8-6 7 24 6 99 8-28 8-2 7 24 6 76 7-21 9 0 7 4 5 60 8-15 8 0 7 6 6 49 8-12 8 0 8 12 5 35 8-8 7-1 8 4 6 28 8-6 8 0 7 8 5 19 9-4 7 1 7 1 6 15 9-3 7 0 7 3 6 11 9-2 7 0 7 2 6 8 8-1 8 0 8 1 5 6 8-1 8 0 7 1 6 4 23 0 5 3 24 0 5 3 9-1 7 0 8 1 5 1 23 0 6 2 8-1 8 0 7 1 5 1 248 0"/>
<path class="d3" d="M1746 971l11 0 10-2 7-6 8-14 5-9 9-39 8-51 7-55 5-8 8-84 8-73 7-80 6 43 8-87 8-56 7-53 5 92 9-76 7-41 8 61 6 90 8-64 7-35 8-124 5 114 8-79 8-44 7 8 6 124 8-58 8-20 7-35 6 128 8-49 8-12 6 37 7 112 7-38 8-6 8 32 6 94 8-28 8-1 7 2 5 81 8-22 15 0 6 70 9-15 7 1 7 42 6 51 8-10 7 0 8 18 6 38 8-7 7 1 8-3 5 31 9-4 8 3 6 12 6 23 9-3 8 2 6-5 7 19 7-3 8 3 7 6 5 14 8-2 8 2 8 2 6 10 7-1 9 2 7 0 5 8 9-1 7 1 7 5 6 5 9-1 7 1 7 0 6 4 16 0 7 2 6 2 8 0 8 1 7 0 6 2 8-1 8 1 7 0 6 1 218 0"/>
<path class="d2" d="M1746 971l12 0 9-5 8-25 7-54 5-45 9-140 7-154 7-138 6 0 8-142 9-82 6-27 6 112 8-75 8-36 7 41 6 125 8-43 8-5 7 7 5 119 8-29 9 4 7 5 6 105 7-21 8 4 7 16 6 89 8-15 8 8 7 9 6 73 8-9 7 4 8 13 5 57 9-6 8 7 7 12 5 45 8-4 9 7 6 11 7 36 8-2 7 3 8 12 5 26 8-1 8 3 7 1 7 22 7-3 8 4 7 5 6 15 8 0 8 2 7 6 6 11 8-1 7 2 8 3 5 8 8-1 8 2 8 2 5 6 8 0 8 1 7 1 5 3 9 1 8 0 6 1 7 3 16 0 7 1 5 2 8 0 9 1 6 0 6 1 334 0"/>
<path class="d2" d="M1746 971l13 0 7-4 8-15 8-31 5-16 8-77 9-106 6-97 6 20 8-152 8-116 7-71 6 122 8-124 8-68 7-17 6 170 8-106 7-53 7 0 6 169 9-90 7-24 7 22 7 174 8-55 7-10 7-10 6 150 8-38 8-1 7 44 6 110 8-28 8 4 7 0 6 88 8-19 8 3 7 8 5 67 8-14 8 3 8 17 6 48 8-8 7 2 8 6 4 34 9-5 8 2 7 8 5 23 9-3 7 1 7 8 6 16 9-2 7 1 8 3 6 11 7-2 8 1 7 3 6 7 8-1 8 1 8 1 5 4 16 0 7 1 6 3 16 0 7 1 5 2 8-1 9 1 375 0"/>
<path class="d3" d="M1746 971l10 0 2-1 9-19 8-53 7-86 5-42 8-131 8-131 8-11 5 54 8-83 8-43 7-2 6 88 8-62 8-34 7 31 5 86 9-59 7-32 8-91 6 102 8-69 7-38 7-2 7 103 7-70 8-37 7 16 6 101 8-68 8-37 7-52 6 110 8-74 7-40 8 35 6 106 8-71 7-35 8-82 6 132 8-56 8-16 7-15 5 129 8-47 8-12 8-9 5 118 8-38 8-9 7 31 6 101 7-32 9-2 7 1 6 89 8-25 7-5 8 35 6 70 7-19 8-2 8 21 6 58 8-15 8 1 6 2 6 48 8-12 9 2 6 22 6 36 8-8 8 1 7-3 6 31 8-6 8 1 6-11 6 29 9-5 8 0 7 4 5 22 9-4 7 1 7 6 6 17 8-3 7 1 8 1 6 14 8-3 8 1 7 7 5 10 9-2 8 1 7-2 5 9 9-2 7 1 8 1 5 7 8-1 8 0 7 3 6 5 9-1 14 0 6 4 16 0 7 1 6 3 15 0 8 1 5 2 24 0 5 1 16 0 7 1 6 1 17 0"/>
<path class="d3" d="M1746 971l9 0 4-1 8-12 8-42 7-64 5-27 8-136 9-124 7-96 5 77 8-92 8-47 7-91 6 132 8-88 8-46 7-16 5 137 8-89 9-48 6-20 6 141 9-93 7-48 8 54 6 130 7-85 9-45 6-89 6 148 8-96 8-51 7-80 6 164 8-107 8-56 7-9 5 166 9-107 8-57 7 17 5 162 8-105 8-55 7 65 6 149 9-97 7-50 7 95 6 137 8-66 7-25 8-42 6 142 8-60 8-18 6 49 7 120 8-45 8-10 6-12 7 108 7-38 8-8 8 31 5 86 9-27 7-6 8-17 5 79 8-24 8-3 8-5 5 68 8-19 8-3 7 19 6 54 7-16 9 0 7 13 6 41 7-12 8 1 8-10 5 37 8-10 8 1 8 0 5 30 8-7 7 0 8 18 5 20 8-5 9 1 7 0 6 16 8-4 7 1 8 4 5 12 9-3 7 1 7-1 6 10 9-2 7 1 7-3 7 8 7-2 8 1 7 1 6 6 8-1 8 0 6 4 6 4 9-1 7 0 8 2 6 3 8-1 8 1 6 0 6 2 46 0"/>
<path class="d2" d="M1746 971l12 0 8-3 8-13 7-29 6-19 9-100 7-114 7-92 6 21 8-137 8-99 6-46 7 137 8-95 8-47 7-24 6 170 8-68 8-15 7-19 5 153 9-51 7-11 7 5 6 131 8-42 8-6 7 17 5 105 10-29 7-4 7 3 6 87 8-25 8-3 7 2 6 71 9-18 7-2 7 5 5 56 9-15 7 0 7 15 6 41 9-10 7 0 8 7 4 30 9-7 8 0 7 3 6 24 8-6 8 0 7 3 5 17 9-4 8 0 7 5 6 12 8-2 7 0 8 2 5 9 8-2 9 0 7 2 5 7 8-2 8 1 7 0 6 5 9-1 7 0 7 2 6 3 22 0 6 3 8-1 15 0 6 2 24 0 5 1 23 0 6 1 276 0"/>
<path class="d2" d="M1746 971l13 0 7-1 9-6 6-13 6-11 9-52 7-65 8-86 5-9 8-135 8-118 7-104 6 72 8-133 8-79 6-69 7 156 8-105 8-53 7-6 6 167 8-100 7-47 8 15 6 174 7-67 8-16 8 25 5 153 8-47 8-5 7 33 6 125 8-34 8 1 7 16 5 100 8-24 8 1 8 13 6 83 8-20 8 3 6 12 6 63 8-12 8 3 7 20 6 45 8-8 9 4 6 3 6 35 8-6 8 3 7 7 6 25 7-4 8 2 7 2 7 19 7-3 8 2 7 5 6 13 9-1 7 0 7 4 6 9 9-1 6 1 8 1 6 6 8-1 8 1 7 1 6 5 7-1 9 1 6 2 6 3 9-1 7 1 8 0 6 2 15 0 7 1 6 1 23 0 6 1 276 0"/>
<path class="d2" d="M1746 971l12 0 9-10 7-34 8-68 5-26 9-156 7-148 8-127 5 96 7-130 8-67 8-51 6 164 8-99 8-50 7-26 6 168 8-94 7-27 7-2 7 177 8-59 7-16 8 44 5 140 8-45 8-1 7-12 6 121 8-31 8-3 7 29 6 94 9-22 6-2 8 28 6 67 7-16 9 3 7 10 5 49 9-10 7 1 7 7 6 37 8-7 8 1 7 0 6 28 8-5 8 2 7 3 7 21 7-4 8 1 7 1 6 16 7-3 8 1 8 5 5 10 9-1 8 1 7 2 5 7 8-1 8 0 8 1 5 5 7-1 9 1 7 0 6 4 16 0 7 1 6 2 22 0 7 2 22 0 6 1 334 0"/>
<path class="d2" d="M1746 971l13 0 8-7 7-38 8-94 5-70 9-212 7-197 7-98 6 54 8-93 8-41 7-8 6 114 8-69 8-34 7-62 6 121 8-73 7-36 8-34 6 135 8-44 8-1 7 41 5 126 8-25 8 11 7 11 6 111 8-13 8 12 8 45 5 84 9-5 7 8 6 10 6 71 9-3 8 11 6 18 7 54 7-4 7 8 9 17 5 37 8-1 8 7 7 12 7 29 7-1 8 6 7 5 6 22 9 0 6 4 7 5 7 16 8 0 7 3 8 2 5 11 8 0 8 3 7 2 6 7 8 0 8 2 7 4 6 5 8 0 7 1 8 2 6 3 8 0 8 1 7 1 6 2 8 1 8 0 7 1 6 1 8 1 15 0 5 1 8 0 9 1 7 0 5 1 305 0"/>
<path class="d3" d="M1746 971l12 0 9-2 7-7 8-15 5-8 9-42 8-54 7-58 5-2 8-84 8-81 7-101 6 55 8-96 7-55 8-52 5 107 8-79 9-42 7 7 5 113 9-74 7-39 8-46 5 122 9-80 8-43 6-19 6 125 9-82 7-43 7-8 6 127 8-82 8-44 7-55 5 138 9-89 8-47 6-38 6 144 9-94 8-49 6-75 6 158 8-102 9-54 7 33 5 152 8-98 8-51 7 63 5 139 9-82 8-29 7-2 5 148 9-61 8-17 7-78 5 153 8-55 8-15 7 44 6 130 9-42 7-8 7 20 7 112 7-35 7-5 8 19 6 89 8-24 8-2 7 52 6 67 8-18 7-1 8 34 5 48 9-11 8 0 7-25 5 46 8-11 8 0 7-16 6 42 8-10 8 2 7 14 6 31 8-7 8 2 7 1 6 25 8-5 7 1 8-2 5 21 8-4 8 1 7 2 7 16 8-3 8 1 7 9 5 10 9-1 7 0 7 4 7 8 7-2 8 1 7 2 6 5 23 0 6 4 23 0 5 3 16 0 8 1 5 2 17 0"/>
<path class="d2" d="M1746 971l13 0 7-2 8-8 7-19 7-17 7-52 8-79 7-108 6-5 8-141 8-135 7-91 6 97 8-138 7-76 8-25 6 173 8-76 8-18 7 30 5 160 8-52 8-5 8 34 6 134 8-37 7-1 7-6 6 113 8-28 8 1 7 13 6 89 8-20 8 5 7 25 5 67 9-12 8 4 7 12 5 49 8-9 9 4 7 6 6 38 8-7 7 2 8 9 5 26 8-4 8 3 7 3 6 20 8-3 8 2 7 4 6 13 8-1 7 1 8 3 6 9 7-1 9 1 7 1 5 6 8 0 8 1 7 2 6 4 16 0 7 1 6 3 16 0 8 1 4 2 9-1 8 1 7 0 6 1 362 0"/>
<path class="d3" d="M1746 971l12 0 9-1 7-2 8-6 5-6 9-21 7-31 7-32 6-4 8-65 8-61 7-83 5 32 8-81 9-59 6 18 7 68 8-58 7-32 8-1 6 79 7-54 8-30 7-27 6 85 8-58 8-32 7-8 6 96 8-42 7-10 8 24 6 90 8-27 8 1 7-20 6 83 8-18 7 2 8 21 6 66 8-11 8 4 7 22 5 46 9-6 7 4 7 13 6 33 8-3 8 4 7 6 7 24 7-3 8 4 7 5 6 16 8-1 8 3 7 3 6 11 7-1 8 2 8 0 5 7 8 0 8 2 8 4 5 4 8 0 8 1 7 1 6 3 16 0 7 1 6 1 391 0"/>
<path class="d2" d="M1746 971l12 0 8-10 8-41 7-76 6-38 8-166 8-167 8-120 5 99 8-149 7-76 8-37 6 186 7-113 9-57 7 10 6 196 7-80 9-17 7 17 5 170 8-59 8-8 7 4 6 147 8-47 8-3 7 1 6 120 8-35 8-3 7 2 6 97 9-24 7-3 7 16 6 74 7-19 9 1 7 19 6 53 8-13 7 0 8 7 5 40 8-10 8 1 7 4 7 31 6-8 9 1 7 5 6 23 8-5 8 0 7 6 6 15 8-3 7 0 8 2 6 12 8-3 7 1 7 2 7 8 7-2 8 1 7 1 6 6 8-1 15 0 6 4 7-1 9 1 7 0 6 3 16 0 7 1 6 2 8-1 8 1 7 0 6 1 22 0 6 1 305 0"/>
<path class="d3" d="M1746 971l12 0 8-1 8-4 8-8 5-5 8-26 8-37 7-44 6-3 8-75 8-76 7-51 5 47 8-90 8-62 8-98 5 109 8-87 9-50 7 60 6 110 7-74 9-40 7-10 5 114 8-75 8-41 8-42 5 124 8-82 8-44 7 5 6 122 8-74 8-27 7-40 6 140 8-59 8-17 7-8 6 131 7-48 8-11 8-11 5 117 8-40 8-3 7-5 6 101 8-28 8-2 7 27 6 76 9-18 7-2 7 0 6 64 8-16 8 1 6-10 7 54 7-12 8 2 7 19 6 37 8-8 8 2 7 0 6 28 8-5 7 1 8 18 6 17 8-3 7 1 8 4 6 12 7-2 8 1 8 3 5 7 8-1 9 1 7 1 5 6 8-1 8 0 7 2 6 3 16 0 8 1 5 2 23 0 5 2 24 0 6 1 218 0"/>
<path class="d2" d="M1746 971l11 0 10-2 8-9 6-18 7-16 8-54 7-66 7-75 6 2 8-134 7-110 8-130 6 98 8-150 8-93 7-59 7 185 6-106 9-32 7 18 6 194 8-68 8-16 7 26 5 160 9-51 7-9 7 23 6 134 8-39 8-3 7 19 5 102 9-26 8-1 7 19 6 78 7-20 8 1 8 16 5 58 8-13 8 1 8 14 6 42 8-9 7 1 7 2 6 32 8-6 8 1 7 5 6 24 7-5 9 2 7 2 7 18 7-3 7 0 7 5 6 12 8-3 8 1 8 2 4 8 9-1 8 0 8 2 5 5 23 0 5 5 9-1 8 0 7 1 6 3 7-1 9 1 6 0 6 2 363 0"/>
<path class="d2" d="M1746 971l14 0 6-8 8-30 7-44 7-42 7-105 8-115 7-120 6 9 8-133 8-87 7-31 5 92 8-80 8-40 8-56 6 119 7-72 9-26 7 69 5 124 9-29 8 2 7 19 5 108 8-18 8 7 8 24 5 88 8-10 8 11 7 7 6 73 9-5 7 10 7 9 5 55 8-4 8 10 8 11 5 42 9 0 7 5 8 17 5 29 8 0 8 4 8 14 5 20 8 0 8 4 7 5 6 14 8 0 8 4 7 2 6 10 8 0 8 3 7 3 6 7 8 0 7 2 8 2 5 4 8 1 8 1 7 1 6 3 8 0 8 1 7 1 6 2 8 0 8 1 7 0 5 1 9 0 8 1 7 0 6 1 362 0"/>
<path class="d2" d="M1746 971l12 0 8-3 8-10 7-25 6-23 8-70 8-88 7-108 6-25 8-137 8-116 7-81 6 83 7-92 9-48 7-36 5 141 9-43 7-2 8 39 6 126 8-29 7 3 7 40 6 101 8-20 8 7 7 24 6 79 8-13 8 6 7 13 6 63 7-10 9 8 7 7 5 49 9-6 7 4 8 10 6 38 7-6 9 6 7 13 5 27 8-3 9 4 7 6 4 19 9-1 8 3 7 2 6 15 8-1 7 2 8 3 6 12 7-2 8 2 7 3 6 9 8-1 8 1 8 2 5 6 16 0 8 3 5 4 16 0 7 1 6 3 15 0 8 1 6 2 8 0 7 1 8 0 5 2 16 0 7 1 7 1 23 0 5 1 305 0"/>
<path class="d2" d="M1746 971l13 0 8-1 7-3 8-9 5-5 8-27 8-43 7-53 7-13 7-94 8-98 7-67 6 41 8-128 8-89 7-45 6 119 8-101 8-54 7-6 5 155 8-62 8-14 7 11 6 144 8-43 8-4 7 22 6 118 8-29 8 2 7 9 6 96 8-23 8 5 7 17 5 70 9-11 7 2 8 6 5 54 8-9 8 4 7 9 6 40 9-5 8 3 6 6 6 28 9-3 7 2 7 6 5 19 9-2 8 2 7 3 6 13 8-1 7 1 7 5 6 8 9 0 7 1 7 1 6 6 8-1 8 1 7 1 6 4 8-1 8 1 7 1 6 2 15 0 8 1 5 1 392 0"/>
<path class="d3" d="M1746 971l9 0 3-1 9-20 7-51 8-77 5-16 8-122 8-111 8-61 5 71 8-87 8-47 8 0 5 105 8-71 8-38 7-26 6 112 8-75 8-40 7-94 6 131 8-87 7-47 7-67 7 146 8-97 7-52 8 48 5 138 8-90 9-50 6 59 6 126 8-83 8-44 7 19 5 122 8-80 8-35 8-15 6 133 7-65 8-21 8 7 5 126 8-51 9-13 6 10 6 111 8-38 8-8 7-4 6 100 8-30 8-4 7-5 6 87 8-23 8 0 7-11 5 74 8-17 9 3 6-26 6 68 8-14 8 2 7-8 6 57 8-10 8 2 7 20 6 40 8-6 7 2 8 10 6 29 8-4 8 2 7 16 5 17 8-2 8 2 7 5 7 12 7-2 8 2 7 1 6 9 9-1 7 1 7 3 6 5 8 0 8 1 7 1 6 3 15 0 7 1 6 2 16 0 8 1 6 1 15 0 8 1 166 0"/>
<path class="d2" d="M1746 971l10 0 3-1 8-18 7-57 8-114 6-64 7-165 8-169 8-91 5 63 8-105 8-50 7 15 6 117 8-71 8-36 7-18 6 118 7-71 9-19 7 6 6 132 8-37 7-2 8-5 5 119 9-22 7 4 8 7 5 103 7-19 9 13 7 23 5 81 9-8 8 10 7 7 6 66 8-6 8 8 7 32 6 46 8-2 8 6 7 18 6 33 7-3 8 5 8 6 5 24 8-1 8 4 7 3 5 18 9 0 8 4 7 4 6 13 7-1 9 3 7 3 6 9 8 0 7 2 7 2 7 6 7 0 8 1 8 2 6 4 8 0 6 1 8 1 6 3 16 0 7 1 6 2 8 0 8 1 6 0 7 1 7 0 8 1 347 0"/>
<path class="d3" d="M1746 971l13 0 8-7 7-22 7-34 6-20 8-71 8-82 7-45 6 18 9-85 7-52 7-72 6 80 7-68 9-38 7-16 6 95 8-65 7-35 8 44 5 89 9-61 7-32 7-94 6 107 8-72 8-39 7-25 6 113 8-76 8-41 7 31 6 107 8-66 8-13 7 8 6 122 8-29 8 1 7 7 6 103 8-17 7 7 8 20 6 80 7-10 8 8 8 21 5 54 8-4 8 7 7-1 6 43 8-3 8 7 7 13 6 28 8-1 8 5 7 4 5 18 9 0 8 4 7 7 5 12 8 0 8 2 8 5 5 7 9 0 6 1 9 2 5 4 8 0 7 1 8 0 6 3 8 0 8 1 7 1 6 1 8 0 8 1 346 0"/>
<path class="d3" d="M1746 971l13 0 7-9 9-32 6-42 7-30 7-79 9-75 6 0 5 26 10-48 6-22 8-57 6 57 8-40 8-21 7-12 5 60 9-41 7-22 7 8 7 60 7-41 8-22 8-68 5 71 8-48 8-26 8 34 5 66 8-44 9-25 6 7 6 65 8-44 8-24 7-26 5 70 9-47 8-26 7-37 6 77 8-41 7-13 7-9 7 88 7-30 8 0 7-9 7 84 7-18 8 5 7 24 5 67 10-6 7 7 7 14 6 52 8-2 7 7 7 24 6 37 9 0 7 6 7 4 6 27 8 2 9 6 6 8 6 17 8 1 8 4 7 1 6 12 8 1 9 4 6 5 6 6 8 1 8 2 7 4 6 4 8 0 7 1 7 2 6 2 8 0 8 1 8 1 5 1 15 0 8 1 282 0"/>
<path class="d2" d="M1746 971l13 0 8-7 7-19 8-37 4-20 9-87 8-94 7-108 6-11 8-128 8-102 7-52 6 62 8-89 7-49 8-32 5 107 8-69 9-35 7-25 6 113 7-68 8-7 7 16 6 129 9-24 6 3 8 33 6 108 9-15 7 9 7 8 6 90 8-9 8 7 7 26 5 69 8-7 9 10 7 28 5 51 8-4 9 8 6 16 6 38 8-3 9 7 6 1 6 31 8-1 7 4 8 6 6 24 8-1 8 3 7 5 6 17 8 0 8 3 7 5 5 12 9 0 7 2 7 3 7 9 7 0 8 2 8 3 5 7 8 0 8 1 7 1 6 6 8-1 8 2 7 2 6 3 8 0 7 1 8 0 6 3 16 0 6 1 6 2 16 0 7 1 6 1 23 0 6 1 7 0 9 1 260 0"/>
<path class="d2" d="M1746 971l12 0 8-1 9-4 7-10 5-8 8-33 8-49 7-54 6-23 8-101 8-112 7-101 6 11 8-133 8-101 8-20 5 97 8-98 7-51 7-25 7 126 7-78 8-11 8 35 5 137 9-30 7 2 7 56 6 113 8-19 8 10 7 2 6 95 8-13 8 8 7 19 6 74 8-10 7 8 8 15 6 59 7-8 9 9 6 13 6 43 8-4 8 6 7 12 6 32 8-3 8 4 6 5 7 24 8-1 8 3 8 2 5 17 8-1 7 2 7 7 6 12 9-1 8 2 7 2 5 9 8-1 8 2 7 2 6 6 7 0 9 1 8 1 4 5 8-1 9 1 7 1 6 3 8 0 7 1 8 1 5 2 16 0 7 1 6 1 9 0 7 1 7 0 6 1 16 0 7 1 282 0"/>
<path class="d3" d="M1746 971l13 0 7-3 9-11 6-14 6-10 9-48 7-46 7-58 6-2 8-86 8-81 7-117 5 63 9-110 8-69 7-34 6 110 7-91 9-52 6-42 6 131 9-94 7-50 8-35 6 141 7-85 8-20 7-20 6 164 8-52 8-5 7 12 6 144 8-35 7-1 8-15 6 125 7-25 8 5 8 56 6 88 7-16 8 9 7 29 7 63 7-9 8 7 8 11 5 44 8-5 7 5 9 4 5 33 8-3 8 5 7 4 6 23 7-2 9 4 7 7 5 15 8-1 9 3 6 7 6 10 8-1 8 2 7 3 6 5 8 0 8 1 7 1 6 4 16 0 7 1 6 2 8 0 7 1 8 0 6 2 362 0"/>
<path class="d3" d="M1746 971l13 0 8-2 7-8 8-26 6-16 8-70 7-89 7-77 6 21 8-102 8-67 7-53 5 107 9-75 7-38 8 14 6 108 8-69 8-37 7-20 6 113 8-72 7-38 8-33 5 119 8-76 8-41 7 24 6 114 8-73 8-38 7-69 6 129 8-83 7-43 8 6 6 127 8-81 7-42 7 3 6 125 9-80 7-42 8-93 5 146 9-93 7-48 7 26 7 138 8-88 7-46 7 7 6 136 7-87 9-45 7 5 6 139 8-74 7-30 8 4 5 135 9-59 7-18 7-26 6 132 8-48 9-9 5 13 7 114 8-35 8-1 8-9 6 98 6-29 9 2 7 21 6 74 7-17 8 3 8 33 6 50 8-10 7 4 8-1 5 38 9-6 7 4 8 14 5 25 8-3 8 2 7 1 6 18 9-1 6 1 8 4 5 12 9-1 7 2 8 3 6 7 8-1 7 1 7 2 6 5 8-1 8 1 7 0 6 3 16 0 7 1 138 0"/>
<path class="d2" d="M1746 971l10 0 3-1 7-20 8-61 8-112 5-32 9-175 7-139 7-77 6 81 8-110 8-57 7-20 6 140 7-86 9-43 7-22 6 144 8-87 8-43 6-21 7 147 7-64 8-13 8-4 6 153 7-43 8-4 7 18 6 128 8-29 8 2 8 15 4 100 9-20 7 3 8 19 6 80 8-14 8 6 7 18 5 57 8-10 9 5 7 10 6 44 8-7 7 3 8 8 6 33 8-5 7 2 7 11 5 22 9-3 8 3 6 2 7 17 8-2 7 1 8 4 5 12 8-1 8 1 8 3 6 8 8-1 7 1 7 3 6 5 8 0 9 1 6 1 6 4 23 0 6 3 8-1 7 1 8 1 5 2 363 0"/>
<path class="d3" d="M1746 971l9 0 3-1 10-17 6-33 8-42 5-27 8-87 8-90 7-143 6 18 9-104 7-60 7-26 5 72 8-70 9-43 7-44 6 101 8-49 8-15 6 15 6 101 9-36 7-10 7 35 6 89 8-27 9-1 6 1 6 82 8-20 8 0 7-1 6 73 8-16 7 1 7-8 6 66 9-10 8 2 7-2 5 56 9-8 7 2 7 18 6 46 8-6 8 4 7 13 7 37 7-5 8 4 7 21 6 27 8-3 8 3 7 6 6 20 8-2 8 3 7 1 6 17 8-1 7 2 8 3 5 12 8-1 9 3 7 4 6 9 7 0 8 1 7 5 6 7 8 0 8 1 7 3 6 4 8 0 9 1 5-1 7 4 8 0 8 1 6 1 6 3 23 0 6 2 8 0 8 1 7 0 7 2 15 0 7 1 253 0"/>
<path class="d2" d="M1746 971l12 0 8-2 8-14 7-29 7-25 7-74 9-116 7-110 5 28 8-152 8-117 7-53 6 137 8-74 8 6 7 64 6 164 8-3 7 28 8 41 5 97 9 8 7 24 8 24 5 52 9 7 7 13 7 15 6 22 8 3 8 6 7 5 6 10 8 1 7 3 8 2 6 3 8 1 671 0"/>
<path class="d3" d="M1746 971l11 0 9-2 9-11 7-15 6-13 7-34 8-43 7-49 6-5 8-63 8-52 7-29 6 31 8-53 7-32 8-29 6 55 7-43 8-24 7-13 7 63 8-43 7-24 7-9 6 65 8-44 8-24 8-70 5 76 8-51 8-28 8 26 5 73 8-49 8-26 7-56 5 81 9-55 8-29 6 8 7 81 8-54 8-29 6-32 6 86 8-47 8-11 7 23 6 93 8-25 8 1 7 23 6 82 8-15 8 6 7-2 6 70 8-8 8 6 7 57 6 48 8-5 7 6 8-8 5 39 8-2 8 6 7 23 6 27 8-1 8 5 7 10 6 19 8 0 8 3 7 1 6 13 8 1 8 3 7 8 6 9 7 0 8 2 7 1 6 6 8 0 8 2 7 1 6 4 8 0 8 1 7 1 6 3 8 0 7 1 8 0 6 2 8 0 8 1 6 0 7 1 218 0"/>
<path class="d2" d="M1746 971l11 0 10-3 7-8 7-14 6-13 9-43 7-55 8-63 5-1 8-97 8-99 7-90 6 34 8-120 8-78 7-58 5 118 9-70 7-22 7 24 7 135 7-42 9 1 6 26 7 114 6-30 9 6 8 25 5 88 9-17 7 2 7 5 5 74 9-13 8 4 6 13 8 60 7-11 7 3 8 7 6 46 8-8 7 3 8 12 5 33 8-5 9 4 7 10 5 24 8-3 8 2 7 6 6 18 8-2 8 1 7 3 5 14 9-2 7 2 8 3 6 11 8-2 7 1 8 2 5 8 8-1 8 1 8 1 6 6 7-1 8 1 7 1 6 4 15 0 9 2 5 2 8 0 8 1 7 0 5 2 16 0 7 1 6 1 16 0 8 1 5 1 23 0 6 1 276 0"/>
<path class="d2" d="M1746 971l13 0 8-2 7-7 7-14 6-11 9-46 7-56 7-59 6-11 9-112 7-91 7-102 5 51 8-117 9-80 7-47 6 109 7-87 8-45 8-61 5 135 9-68 8-16 6 3 6 145 9-43 7-8 7 9 7 132 7-34 8 2 6 23 7 110 8-22 8 5 7 13 6 86 8-15 8 6 7 12 6 68 7-11 8 6 8 22 5 50 8-7 9 7 6 14 6 37 8-4 7 3 8 4 6 28 7-3 8 4 8 9 6 20 7-2 9 3 7 6 5 14 8-1 9 2 7 4 5 9 9 0 7 1 7 0 7 7 8 0 7 1 7 1 6 5 8 0 8 1 7 1 6 4 7-1 8 1 8 1 5 2 9 0 7 1 7 0 6 1 8 0 8 1 8 0 4 1 306 0"/>
<path class="d2" d="M1746 971l13 0 7-1 8-7 8-18 6-17 7-46 8-73 7-92 6-21 8-130 8-123 7-88 6 55 8-112 7-64 8-29 6 115 8-78 8-38 6-22 7 124 8-74 7-23 8 4 5 139 8-37 8 0 7 27 7 124 7-26 8 6 7 8 6 102 7-19 9 12 7 24 6 79 8-8 7 6 8 19 6 61 7-8 8 7 8 27 5 45 8-5 8 6 8 15 5 31 8-3 7 4 9 9 4 23 9-1 7 3 9 4 5 17 7-1 8 3 8 1 6 13 7 0 8 2 7 6 6 9 9 0 8 2 6 3 6 6 8 0 8 1 7 2 6 4 8 0 8 1 7 0 5 3 9 0 8 1 7 0 5 3 16 0 8 1 6 1 8 0 7 1 7 0 6 1 15 0 8 1 14 0 8 1 260 0"/>
<path class="d3" d="M1746 971l13 0 7-6 8-32 8-70 5-33 8-131 8-121 7-68 6 80 8-88 8-46 6 24 7 104 7-74 9-43 7 46 5 99 9-69 8-39 7 5 5 100 8-53 8-14 8-9 5 110 9-36 6-8 9-21 5 100 9-27 7-1 6 21 7 81 8-18 8 1 6 10 6 61 9-11 7 2 8 7 6 46 8-8 7 3 8-8 5 38 9-6 7 3 7 17 6 23 8-3 8 2 7 4 6 16 8-2 8 2 7 2 5 11 8-1 8 1 8 2 5 7 9 0 7 1 7 2 6 4 8 0 9 1 6 0 6 3 16 0 7 1 6 2 420 0"/>
<path class="d2" d="M1746 971l13 0 8-8 7-22 8-46 5-27 9-96 7-103 7-86 7-10 7-128 8-99 7-31 6 73 8-89 7-50 8-36 6 118 7-53 9-7 6 2 6 129 9-28 7 2 8 20 5 109 8-18 8 8 8 23 5 86 8-8 8 9 8 33 4 63 8-5 9 12 7 6 5 51 9-2 8 8 6 14 7 40 7-2 8 8 7 17 6 26 8 0 8 5 7 7 7 18 7 0 8 4 7-1 6 14 8 0 8 3 7 6 6 9 8 1 8 2 7 2 5 6 9 0 7 1 8 2 5 4 9 0 7 1 8 1 5 3 16 0 7 1 6 2 16 0 7 1 397 0"/>
<path class="d2" d="M1746 971l11 0 10-4 8-27 7-59 5-41 8-165 8-181 8-178 5 87 8-163 8-80 7-58 6 192 7-117 9-58 7 17 6 186 7-111 8-56 7-17 7 186 7-101 8-30 8 2 6 191 7-72 8-15 8 22 5 162 8-56 8-7 7 39 6 131 8-42 8-3 7 7 6 107 7-32 9-1 7 8 5 86 9-22 8-2 6 10 6 69 8-18 16 0 5 56 8-15 8 0 7 8 5 43 9-10 8 0 7 3 6 34 8-8 8 1 7 7 6 26 7-7 8 1 8 3 5 19 9-4 8 0 6 4 6 14 8-3 8 0 7 2 6 11 8-3 8 1 7 2 5 8 9-2 7 0 7 2 6 6 8-1 16 0 5 4 8-1 8 1 7 0 7 4 7-1 7 0 8 1 6 2 7-1 8 1 8 0 5 1 248 0"/>
<path class="d3" d="M1746 971l12 0 8-1 8-4 8-12 5-6 8-30 9-47 6-54 6 1 8-85 8-73 7-46 6 65 8-79 8-47 7 14 6 93 8-63 8-32 7-99 5 118 9-77 7-40 8 27 6 111 7-72 8-38 7 34 6 103 8-66 8-35 7-12 6 105 8-68 7-35 7-28 7 111 8-71 7-37 7-52 7 123 7-79 8-41 8 13 5 119 8-76 8-38 7-7 6 130 8-53 8-13 7-42 6 130 8-44 9-5 5-6 7 115 8-32 8-2 7 19 6 87 7-24 8 0 8 20 5 65 9-15 7 0 7-6 6 53 8-11 8 1 8 10 5 38 8-9 8 2 7 10 6 27 8-5 8 1 7 9 5 18 9-3 8 1 7 7 5 12 8-2 8 0 7-1 6 9 8-1 7 1 8 2 6 6 8-1 7 0 8 2 6 4 7-1 9 1 6-1 7 3 16 0 7 1 5 1 190 0"/>
<path class="d2" d="M1746 971l13 0 8-3 7-11 8-23 5-18 8-58 8-76 7-76 6-21 8-119 8-100 7-52 6 45 8-87 8-48 7-41 6 94 8-62 7-18 8-10 6 115 7-30 8 1 8 21 5 101 8-17 8 8 7 31 6 83 8-11 8 9 8 11 4 65 9-5 8 8 7 3 6 56 7-6 8 8 8 28 6 40 8-3 7 6 7 7 6 30 8-1 9 5 7 2 5 23 9 0 7 3 7 9 6 17 9 0 7 3 7 4 6 12 8 0 7 2 8 2 5 8 8 0 8 2 8 3 5 6 8 0 8 1 7 1 6 5 8 0 9 1 6 1 6 3 8 1 8 0 8 1 5 2 8 0 7 1 7 0 6 2 363 0"/>
<path class="d3" d="M1746 971l13 0 7-2 9-9 6-11 7-11 8-33 7-38 8-51 4 3 9-76 7-57 8-80 6 36 7-79 8-55 8-43 6 74 8-67 7-38 8-12 5 91 8-63 9-34 6 34 6 87 9-58 7-31 8-15 6 90 7-60 9-32 6-71 5 102 9-68 8-36 8-37 4 109 9-72 8-38 7 44 5 102 8-67 9-36 6-108 7 123 8-50 7-7 7 46 6 126 8-25 8 8 7 39 6 96 9-8 7 10 7 11 6 79 9-4 6 7 8 11 5 56 8-2 9 11 7 4 5 43 9 0 7 7 8 6 5 30 8 0 8 7 7 5 6 21 8 0 7 4 8 9 6 13 8 0 7 3 7 0 6 9 8 1 8 2 8 3 5 6 8 0 8 1 7 3 5 3 9 0 8 1 7 1 6 1 8 1 8 0 7 1 6 1 15 0 7 1 225 0"/>
<path class="d2" d="M1746 971l9 0 3-1 9-18 7-61 8-114 6-56 8-210 7-176 7-94 6 128 8-135 8-64 7 33 5 170 9-102 8-40 7-1 5 181 9-66 8-12 7-14 5 165 9-49 7-6 8 28 5 133 8-35 8-1 7 20 6 104 8-23 7-1 8 14 6 80 8-18 7 2 8-1 6 64 8-13 7 2 9 13 4 46 8-10 8 4 8 9 5 34 9-5 7 2 7 3 6 25 8-4 8 2 7 5 5 17 9-2 8 1 7 5 5 12 9-2 8 1 7 3 5 8 8-1 8 0 8 3 5 5 8-1 8 1 7 0 6 4 8-1 8 1 7 1 6 2 23 0 6 2 391 0"/>
<path class="d2" d="M1746 971l12 0 8-1 9-8 6-12 6-11 8-44 8-63 7-74 6-1 8-131 8-114 7-85 6 78 8-133 8-88 7-30 6 153 8-104 7-37 8 0 6 175 8-64 7-16 8 3 6 156 7-51 8-3 7 16 6 130 8-34 8-1 7 5 7 104 7-27 8 4 7 27 5 75 9-15 8 3 7 13 5 55 8-11 9 4 6 6 7 42 7-7 8 2 7 7 6 29 8-4 8 2 7 8 6 20 8-3 7 2 7 2 7 15 8-2 7 1 8 3 6 10 7-1 9 1 7 2 6 7 7-1 8 1 7 1 6 4 8-1 8 1 7 1 6 2 16 0 7 1 6 2 23 0 6 1 362 0"/>
<path class="d2" d="M1746 971l11 0 10-4 7-15 7-31 7-26 8-84 6-83 9-100 5 6 8-141 7-108 8-89 6 89 9-117 6-61 8-29 6 140 7-91 9-43 7 40 5 153 8-51 8-6 7 9 6 137 8-33 8 4 7 9 6 118 8-23 8 7 7 22 6 92 8-14 8 9 7 25 6 66 7-10 9 9 6 15 6 48 8-4 9 7 7 14 5 34 8-3 8 5 7 4 6 26 8-2 8 4 7 4 7 18 7-2 7 2 8 5 5 12 9 0 8 2 7 3 6 8 8 0 8 2 7 1 5 5 9 0 6 1 8 1 6 4 16 0 6 1 7 2 8 0 8 1 7 0 6 2 15 0 8 1 14 0 7 1 347 0"/>
<path class="d3" d="M1746 971l13 0 8-5 8-25 6-48 7-52 8-140 7-145 7-62 6 39 8-97 8-48 7-35 6 102 8-76 7-43 8-82 5 121 9-89 7-49 8 47 6 115 8-82 8-19 6 46 7 132 8-33 7 2 8-3 5 115 8-19 8 11 7 28 6 89 8-9 8 13 7 30 6 64 7-6 9 12 7 0 6 49 8-2 7 8 8 11 5 32 8 0 8 6 8 2 6 24 7-1 7 4 8 11 6 15 8 0 7 3 8 4 6 9 7 0 9 3 7 2 6 6 7 0 8 1 8 4 5 2 9 1 7 0 7 1 7 2 448 0"/>
<path class="d2" d="M1746 971l12 0 8-2 8-16 8-54 5-35 8-150 8-186 8-186 5 70 7-156 10-82 6-4 6 174 8-105 8-53 7 8 6 170 8-102 7-51 8-14 5 169 8-92 9-26 6 27 6 170 8-61 8-6 8-9 5 150 9-40 7-4 8 0 5 126 8-31 7 2 8 17 6 100 7-21 8 5 8 35 5 70 9-12 7 4 8 20 5 48 9-6 7 3 7 4 6 36 8-5 8 4 7 13 6 24 8-3 8 2 7 3 6 16 8-1 8 2 6 1 6 11 8-1 9 2 6 3 6 7 9-1 7 1 7 2 6 4 8 0 8 1 8 1 5 3 15 0 8 1 5 1 392 0"/>
<path class="d3" d="M1746 971l12 0 9-5 7-21 8-36 6-23 8-77 7-82 8-90 5 11 9-104 7-68 7-45 6 78 8-76 8-41 7-60 6 107 8-73 7-39 7-110 6 128 8-86 9-46 7 55 5 121 8-80 8-43 7-66 6 132 8-88 8-46 7 27 7 126 7-83 8-45 7-21 5 131 9-87 8-46 7-13 5 134 9-89 7-47 7-9 6 137 8-60 8-9 8 41 6 142 7-35 8 5 7-2 6 127 8-20 8 13 7 4 6 100 8-11 7 10 7 3 7 82 7-8 9 13 7 32 5 52 8-3 9 10 7 11 4 37 9-1 7 6 8 6 6 27 8-1 8 5 7 15 6 16 7-1 8 3 7 7 6 11 9 0 7 2 8 0 5 7 9 0 7 2 7 3 6 4 9 0 7 1 7 1 6 3 15 0 8 1 6 2 247 0"/>
<path class="d2" d="M1746 971l12 0 8-2 9-14 7-26 5-18 8-71 9-100 6-94 6-6 8-138 8-106 7-74 6 122 7-39 9 24 7 54 6 129 7 5 8 35 8 34 6 82 7 10 9 26 6 17 6 44 8 9 8 14 7 16 6 20 9 6 7 6 7 7 6 9 8 2 8 3 7 3 5 3 9 1 8 2 663 0"/>
<path class="d2" d="M1746 971l12 0 8-4 8-15 7-29 7-25 7-68 9-89 6-77 7-15 7-112 8-101 7-88 6 69 8-96 8-56 7-40 6 116 8-76 7-27 7 5 7 138 8-40 7-3 7 20 6 119 8-25 8 4 7 12 6 101 8-19 8 6 7 32 6 76 8-11 7 3 8 24 6 59 8-9 8 6 7 17 6 45 7-6 8 4 7 15 6 33 8-3 8 4 7 1 6 27 8-3 8 3 7-1 6 21 8-2 8 2 8 6 5 15 8-1 8 2 6 3 7 12 8-1 7 2 7 2 7 8 7 0 8 1 8 3 5 5 9 0 7 1 7 2 6 4 8-1 7 1 8 1 6 3 16 0 7 1 5 2 16 0 8 1 6 1 333 0"/>
<path class="d3" d="M1746 971l13 0 8-3 7-10 7-11 6-9 8-34 8-42 7-50 6-4 8-76 8-69 7-84 6 32 8-93 8-66 7-22 6 73 9-80 7-36 7-29 6 112 8-36 8-1 6-6 7 114 7-22 8 15 7 3 6 94 9-3 7 14 8 48 5 63 8 1 8 14 7 31 5 40 8 3 9 12 7 5 6 29 8 3 8 7 7 15 5 15 8 2 8 4 7 4 6 9 8 1 8 3 8 3 5 4 8 1 7 2 7 0 7 3 8 1 8 1 7 1 6 1 506 0"/>
<path class="d3" d="M1746 971l13 0 7-8 8-29 8-54 6-20 8-98 8-109 6-95 6 42 8-132 9-97 7-42 5 125 8-110 7-61 8-73 6 161 8-115 8-64 7-35 5 175 9-115 7-40 7 42 6 182 8-72 8-18 7-12 6 167 8-55 8-8 7 30 6 137 8-40 8-2 7-17 6 119 8-31 8 3 7 55 5 83 9-17 8 3 7 25 5 58 8-11 8 2 7 20 6 41 9-7 7 2 8 5 5 30 8-5 8 3 7-1 6 23 8-3 8 2 7 7 6 15 7-2 8 2 8 2 5 10 8-1 8 1 8 5 6 6 22 0 6 4 8 0 8 1 7 0 6 3 16 0 7 1 5 2 16 0 7 1 7 1 333 0"/>
<path class="d2" d="M1746 971l12 0 9-3 7-9 8-22 5-11 8-53 9-65 6-69 6-5 8-108 8-91 7-92 6 66 9-65 7-7 7 31 5 116 9 7 8 39 7 40 5 80 8 17 8 28 8 35 5 40 9 13 7 12 7 16 6 19 8 6 8 6 7 6 6 7 8 3 7 2 9 3 4 2 9 1 8 1 663 0"/>
<path class="d2" d="M1746 971l12 0 9-1 7-6 7-11 6-9 9-37 6-45 8-54 6-11 8-97 7-97 9-91 5 58 8-130 7-87 8-39 6 122 8-104 8-56 7-19 6 150 8-74 8-20 7 19 5 149 8-53 8-10 7 31 7 128 7-40 8-5 7 9 6 104 8-30 8-1 7 15 6 84 8-21 7-2 8 0 5 69 8-18 9 1 6 4 6 56 8-13 8 0 7 9 6 43 9-9 7 0 7 2 6 35 8-8 7 1 8 2 6 27 7-6 9 2 7 7 6 20 7-5 8 2 8 3 5 14 8-2 8 0 8 1 5 11 8-2 8 1 7 1 5 8 9-1 8 0 7 3 6 6 7-1 9 0 7 2 6 4 23 0 6 3 15 0 7 1 6 2 8-1 7 1 9 0 5 2 8-1 8 0 6 1 6 1 248 0"/>
<path class="d2" d="M1746 971l13 0 7-5 8-16 7-32 6-20 8-78 8-98 7-84 6 18 8-138 8-114 7-72 6 117 8-121 8-65 7-12 6 157 8-99 7-49 7-98 7 190 7-80 8-16 8 52 5 166 8-51 8-9 8 8 5 140 8-40 8 0 7 28 6 109 8-26 8 0 7 13 5 85 9-19 7 0 7 12 6 66 8-14 8 2 8 9 5 48 8-10 8 1 7 7 6 36 8-7 8 2 7 9 6 26 8-5 8 1 7 4 6 19 8-3 8 1 7 3 6 14 8-3 8 1 7 1 6 11 7-2 8 0 8 3 5 7 7-1 9 0 7 2 6 5 7-1 8 1 8 1 6 4 8-1 7 0 8 1 5 3 8-1 8 0 8 1 6 2 7-1 8 0 7 1 6 1 23 0 5 1 277 0"/>
<path class="d2" d="M1746 971l13 0 7-5 8-16 8-28 5-15 8-66 8-77 8-96 5 12 8-113 8-97 7-61 5 83 9-107 8-59 7-26 5 128 9-74 8-18 7 25 6 136 8-41 7-8 8 38 6 114 7-31 8 0 8 7 5 93 9-21 7 0 7 12 6 74 7-17 9 4 7 22 6 55 8-10 7 2 8 13 6 41 8-7 7 2 7-1 6 33 8-5 8 2 7 5 6 25 8-4 8 1 7 5 6 18 8-2 8 1 7-2 6 14 8-2 8 2 6 4 7 10 8-2 7 1 7 1 7 7 7-1 8 1 8 2 5 5 8-1 8 1 7 1 6 4 8-1 7 0 8 1 6 3 8-1 6 1 9 0 6 1 15 0 8 1 339 0"/>
<path class="d3" d="M1746 971l12 0 8-1 8-3 7-9 6-10 8-33 8-50 8-62 5-8 8-98 7-94 8-21 5 41 9-91 8-53 7-64 6 96 8-71 8-38 7-6 6 105 8-69 7-36 7-51 7 114 7-75 8-40 7 5 6 113 8-74 8-39 8 18 4 111 9-72 8-39 7-14 6 113 7-73 9-40 7-41 5 121 8-79 9-41 6-61 6 131 8-85 8-45 7-47 6 140 8-84 8-33 7-46 6 156 8-69 8-23 7 155 6 118 8-44 8-10 7-2 5 107 9-33 8-5 7 19 5 90 9-23 7-2 7 4 5 78 10-16 7 2 8-3 5 64 8-12 8 3 6 26 7 49 8-8 8 4 7 2 5 37 9-4 7 3 8 21 5 24 8-2 8 3 8-4 4 20 9-2 8 3 7 5 7 15 7-2 8 2 7 0 6 10 8 0 8 1 7 4 5 6 8 0 8 1 8 0 6 5 7 0 8 1 7 2 6 3 16 0 7 2 5 2 17 0 6 1 7 1 103 0"/>
<path class="d3" d="M1746 971l12 0 9-1 7-4 8-9 5-6 8-28 8-37 7-45 6-13 7-70 9-73 8-96 5 31 8-83 8-53 7 25 6 66 8-53 7-29 8-4 5 75 9-51 7-27 8-34 6 80 8-54 7-30 7-33 6 86 9-58 6-31 8 79 6 74 8-50 8-27 7-65 6 85 7-57 8-30 7 22 6 81 8-54 8-30 8-31 5 93 9-44 7-15 7 13 6 91 8-32 8-6 7 0 6 86 8-26 8-1 7 2 5 74 9-17 7 0 7 13 7 66 8-12 7 3 7-38 7 64 8-10 7 4 7 31 5 44 9-4 7 4 8-10 6 39 8-3 7 5 8 11 6 28 7-2 9 5 7 15 6 20 7-2 8 4 8 6 6 14 8-1 7 3 7 5 6 9 8 0 7 2 8 3 6 6 7 0 8 1 8 1 6 5 8 0 7 1 7 1 7 3 8 0 7 1 8 0 5 2 9 0 7 1 174 0"/>
<path class="d2" d="M1746 971l12 0 8-4 8-23 8-73 6-62 8-182 7-163 8-106 5 58 8-94 8-41 7-21 6 115 8-69 8-35 7 4 6 122 8-41 8-4 7-7 5 122 9-27 7 3 7 36 7 99 8-16 7 6 8 12 5 78 8-10 8 5 7 7 6 63 8-6 8 5 6 19 7 50 8-6 8 7 7 6 5 36 9-3 7 4 8 4 6 29 7-4 9 5 6 10 6 20 9-1 7 2 7 5 6 14 8-1 8 2 7 4 6 10 7 0 9 1 7 3 5 7 8-1 8 2 7 2 7 5 7 0 8 1 8 1 5 3 8 0 8 1 7 1 5 2 9 0 7 1 7 0 7 2 15 0 8 1 5 1 23 0 6 1 334 0"/>
<path class="d3" d="M1746 971l13 0 7-1 8-6 8-13 6-11 7-37 8-50 7-55 6-18 8-92 7-80 9-120 5 48 8-102 8-67 6 6 7 91 8-76 7-40 8-28 6 108 7-73 9-42 7-43 5 116 9-79 7-43 8 63 5 107 9-72 6-39 9-26 5 112 8-76 8-40 7-47 6 125 7-63 9-17 7 10 6 132 7-42 9 3 7-5 6 124 7-27 8 10 7 39 6 97 8-12 8 13 7 29 6 72 8-2 8 11 7 24 5 48 9 1 7 7 8 6 6 35 7-1 9 10 7 3 5 23 8 1 8 7 7 6 6 15 8 1 8 4 6 8 7 9 8 1 8 2 7 3 6 4 8 0 8 2 6 0 6 2 9 1 7 0 7 1 6 1 334 0"/>
<path class="d2" d="M1746 971l13 0 7-2 8-13 8-34 5-25 9-105 7-124 7-156 6 16 8-179 8-122 8-61 5 169 8-116 7-56 8-24 5 184 9-110 8-38 7 19 5 190 9-60 8-10 7 58 6 153 8-42 7-2 8 17 5 124 8-32 8 3 7 19 6 95 8-21 8 2 7 6 6 74 8-14 8 3 7 20 6 52 8-9 8 3 6-1 6 41 8-7 8 2 8 12 4 26 9-3 8 1 7 7 7 19 6-3 9 2 7 1 7 14 7-2 8 2 7 2 5 10 8-2 9 2 6 1 6 7 8-1 8 1 8 1 5 4 16 0 7 1 6 3 16 0 7 1 5 2 24 0 5 1 363 0"/>
<path class="d2" d="M1746 971l13 0 8-6 8-32 7-56 5-31 8-146 9-200 6-149 6 87 9-157 7-75 7-27 6 189 8-114 8-57 8-11 4 187 8-112 9-57 6 4 7 197 8-79 7-22 7-8 6 183 9-58 7-9 7 20 6 148 8-41 7-4 8 11 6 118 8-30 8 4 7 18 6 90 7-23 8 3 7 17 7 66 7-15 8 5 7 10 7 48 7-9 9 3 6 6 6 33 8-5 8 2 7 5 6 24 8-4 8 2 7 4 6 16 8-2 7 1 8 4 6 10 8-1 8 1 6 1 7 7 8-1 7 1 7 2 6 4 15 0 8 1 6 2 8 0 8 1 7 0 6 2 391 0"/>
<path class="d3" d="M1746 971l13 0 7-6 8-16 7-24 7-19 8-57 7-67 7-70 6-1 7-92 9-91 7-103 6 59 8-98 8-64 7-34 6 104 8-87 7-49 8-144 6 138 8-101 7-56 7-2 6 133 8-72 8-12 7 90 6 145 8-38 8 2 7 26 6 125 9-18 6 4 8 29 6 103 8-13 7 12 8 47 5 69 8-6 9 15 7 35 5 46 8-1 8 9 7 2 6 35 8 1 8 7 7-1 6 27 8 1 8 7 7 10 6 15 7 1 9 5 7 5 5 9 9 1 7 2 8 1 5 6 9 0 7 2 7 2 5 3 8 0 9 1 7 2 6 1 8 1 8 0 7 1 5 1 392 0"/>
<path class="d2" d="M1746 971l12 0 8-1 8-8 7-14 6-15 9-43 7-55 7-48 6-24 8-97 8-92 7-64 6 28 8-111 8-72 7-94 6 85 8-87 7-47 8-36 6 115 8-68 7-14 7 36 7 130 8-29 8 5 6 7 6 113 9-13 7 9 7 43 7 90 7-8 8 9 7 23 5 66 9-2 7 10 8 23 5 50 9-1 8 9 6 17 6 36 9 1 7 6 8 0 6 28 7 1 8 5 7 6 6 19 8 1 8 4 6 6 7 13 7 1 9 3 6 4 7 9 8 1 7 2 7 3 6 6 8 0 8 2 7 1 5 4 8 0 9 1 7 2 6 2 8 0 8 1 7 1 6 1 391 0"/>
<path class="d2" d="M1746 971l12 0 8-1 8-9 7-22 7-28 7-77 8-108 7-103 6-6 8-134 8-103 6-54 6 110 9-84 8-40 8 8 5 125 8-58 7-14 8-16 5 133 8-41 9-2 7 27 6 111 8-29 7-2 8 32 4 85 9-18 8 2 7 16 6 70 8-13 8 3 6 7 7 56 8-10 7 1 8 11 6 42 8-7 7 3 7 6 6 31 9-3 7 2 7 7 6 23 8-3 9 3 5-4 7 19 8-2 8 2 7 3 6 13 8-2 7 2 7 0 7 10 8-1 7 1 8 3 6 7 8-1 7 1 7 2 6 5 8-1 8 1 7 1 6 3 15 0 8 1 6 2 8-1 7 1 376 0"/>
<path class="d2" d="M1746 971l12 0 9-7 7-18 7-34 7-30 7-67 8-87 8-130 5 0 8-137 8-83 7-22 5 94 9-22 8 23 7 68 6 100 8 18 7 36 8 29 5 64 8 18 8 26 7 26 6 35 8 12 8 14 7 12 7 19 7 5 9 7 6 5 6 7 8 3 8 3 7 3 6 3 8 1 8 1 7 1 656 0"/>
<path class="d2" d="M1746 971l9 0 4-1 8-7 7-23 7-39 6-19 8-90 8-101 7-98 6 25 8-141 8-108 6-42 7 118 8-116 8-48 7-26 6 173 8-68 8-18 6 16 7 156 8-50 7-10 7 13 6 130 8-36 8-3 8 14 5 103 9-26 7-3 7 21 6 82 8-20 8 2 7-10 6 67 7-16 9 3 7 21 6 47 8-10 7 1 7 2 6 37 8-7 8 2 7 3 6 28 8-5 8 2 7 5 6 19 8-3 8 1 7 4 6 14 8-2 8 1 7 0 6 10 7-1 8 0 7 3 7 7 8-1 7 0 6 1 7 5 8-1 8 1 6 0 7 4 8-1 8 0 7 2 6 2 8-1 8 1 375 0"/>
<path class="d2" d="M1746 971l12 0 8-4 9-21 7-39 5-29 9-108 7-117 7-119 6 13 9-133 7-74 7-33 5 105 9-73 8-36 7-14 6 120 8-49 7-11 8-10 5 123 8-32 9 0 6-18 6 114 8-27 9 9 7 17 5 90 8-19 9 9 7 35 4 67 9-9 7 3 8 36 6 50 7-8 9 6 7 5 5 39 8-5 8 4 8-1 5 31 9-3 7 3 7 10 6 23 8-2 8 2 7 8 6 16 9-1 7 2 7 2 5 11 8 0 8 1 7 5 7 8 8 0 7 1 7 2 7 6 7-1 8 1 8 1 5 4 7 0 9 1 7 0 6 3 8 0 8 1 7 0 6 2 17 0 6 1 5 1 9 0 7 1 7 0 6 1 23 0 6 1 305 0"/>
<path class="d2" d="M1746 971l9 0 4-1 8-12 7-39 8-75 5-28 9-161 7-151 8-134 5 73 8-164 8-100 7-42 5 172 9-115 8-57 7 16 6 176 8-106 7-53 8-79 6 199 8-89 8-21 6 32 7 189 7-61 9-4 7 15 5 153 8-42 8 1 7 43 5 117 9-28 7 3 8 10 6 94 7-19 8 5 7 18 6 70 8-12 8 4 7 7 7 54 7-10 9 6 6 7 6 37 8-5 8 4 7 11 6 25 8-3 7 2 8 6 6 17 8-2 7 2 8 3 6 12 8-2 7 2 8 2 5 7 8 0 8 1 7 1 6 5 8 0 8 1 7 1 6 3 16 0 7 1 5 2 17 0 6 1 7 1 16 0 6 1 340 0"/>
<path class="d2" d="M1746 971l13 0 8-4 7-12 8-22 5-17 8-52 8-66 8-87 5-12 8-103 8-105 7-40 6 38 8-91 8-59 8-56 4 99 9-46 7-8 8 8 5 106 9-24 7 2 8 62 5 85 9-13 7 2 8 8 5 71 8-11 8 6 7-1 5 62 9-6 8 5 8 11 5 48 8-5 8 6 7 19 5 37 8-3 9 6 7 5 5 29 8-2 8 4 7 14 6 21 8-1 8 3 7 7 5 15 9 0 8 2 7 1 6 12 8 0 8 2 7 1 5 9 8 0 8 2 8 4 5 7 8 0 8 1 7 1 6 5 8 0 8 1 7 2 6 3 8 0 9 1 6 1 6 2 8 0 8 1 7 0 5 2 16 0 8 1 5 1 16 0 7 1 6 1 305 0"/>
<path class="d2" d="M1746 971l12 0 8-1 9-7 7-17 5-12 8-57 8-80 8-85 5 7 8-145 8-140 8-92 5 103 8-144 8-68 7-3 6 181 8-71 8-12 6 29 7 163 8-46 7-2 8 21 5 127 8-31 9 4 7 17 5 97 8-19 9 7 6 11 6 76 8-15 8 5 7 10 6 52 7-9 8 4 8 5 6 39 8-6 7 3 8 7 5 26 8-3 8 3 7 4 6 19 8-3 7 2 8 6 6 11 8-1 8 1 7 4 6 7 8 0 8 1 7 1 5 5 17 0 6 1 6 3 8-1 8 1 7 0 6 2 8 0 8 1 7 0 6 1 16 0 7 1 397 0"/>
<path class="d2" d="M1746 971l12 0 9-2 7-15 7-37 5-26 9-111 8-139 7-135 7 13 7-131 8-82 7-35 6 127 8-71 8-7 7-1 5 148 9-22 7 16 8 27 5 119 8-7 8 19 8 38 5 78 8 2 8 17 7 34 6 49 8 3 8 11 7 14 6 28 8 3 8 7 7 8 6 17 7 1 9 5 7 6 6 9 8 1 7 2 8 3 5 4 8 1 8 1 8 2 5 2 8 0 8 1 577 0"/>
<path class="d2" d="M1746 971l13 0 8-2 7-7 7-16 7-14 8-45 7-55 7-64 6-24 8-105 8-99 7-57 6 29 8-92 8-66 7-61 6 92 8-73 7-36 8 8 6 112 8-42 7-7 7-9 6 115 9-24 7-1 8 38 6 95 7-17 8 6 7 27 5 74 9-8 8 8 7 5 6 63 8-6 8 8 7 11 5 47 9-3 8 8 6 13 6 35 8-1 8 6 7 6 7 28 7-2 8 6 7 4 6 19 8 0 8 4 7 5 6 14 8 0 8 3 7 5 6 10 7-1 8 2 7 2 6 6 8 0 8 2 7 2 6 4 8 0 8 1 7 2 6 2 8 1 8 0 7 1 6 2 16 0 6 1 369 0"/>
<path class="d3" d="M1746 971l12 0 9-3 8-11 6-24 7-22 8-71 7-89 7-84 6-9 8-125 8-88 7-70 6 83 8-83 8-46 7 18 6 106 9-74 6-39 8-9 5 109 9-74 8-42 7-20 5 115 9-78 7-42 7-86 6 130 8-88 8-49 8-70 5 143 8-96 7-47 8 9 6 154 7-75 9-24 6 82 7 137 7-51 9-9 7-4 6 126 8-36 7-3 7 60 6 100 8-22 8 4 7-7 5 85 8-14 9 9 7 14 6 69 8-8 7 6 7 14 7 52 7-6 8 9 8 4 5 37 8-1 8 8 7 14 6 25 8 0 8 6 7 4 6 17 8 0 8 4 6 2 7 12 8 0 8 3 6 4 7 7 7 0 8 2 8 1 5 4 8 1 8 1 7 1 6 2 8 0 8 1 7 1 6 1 276 0"/>
<path class="d2" d="M1746 971l11 0 9-2 8-10 8-20 6-17 7-43 7-59 9-81 5-20 9-108 7-97 8-78 5 30 7-104 8-80 8-13 5 82 9-69 7-22 8-27 5 119 9-33 8 3 6-11 6 113 9-18 7 6 7 36 6 92 8-12 8 7 7 30 6 74 8-9 8 8 7 13 6 60 7-6 9 10 7 10 5 45 9-2 7 6 8 14 5 34 8-1 9 6 6 11 6 26 8-2 8 6 7 3 5 19 9 0 7 3 8 7 6 14 7 0 8 3 8 5 5 10 8 0 8 2 7 2 6 7 8 0 9 2 6 2 7 5 7 0 8 1 7 1 6 3 8 0 8 1 7 1 6 3 15 0 8 1 6 2 15 0 7 1 6 1 23 0 6 1 15 0 8 1 282 0"/>
<path class="d2" d="M1746 971l11 0 10-7 7-23 8-44 5-22 8-94 7-97 8-98 6 6 8-135 8-101 7-88 6 90 8-106 8-60 7-44 6 132 8-80 8-12 6 38 7 148 8-35 7 0 7 15 7 128 8-25 7 3 7 25 6 103 8-17 8 8 8 33 5 73 8-10 8 9 7 8 6 60 8-7 8 7 7 21 6 43 8-4 7 4 7 9 6 32 9-3 7 4 7 4 5 23 9-1 9 4 6 1 6 18 8-1 8 2 7 5 5 13 9-1 7 2 8 4 5 9 9 0 7 1 7 2 6 7 8-1 8 2 7 0 6 5 8-1 8 1 7 1 6 3 7 0 8 1 7 0 8 3 6-1 8 1 8 1 5 1 16 0 7 1 340 0"/>
<path class="d2" d="M1746 971l12 0 9-3 8-10 7-19 5-9 8-54 8-66 7-72 6 5 8-127 8-109 7-71 6 94 8-117 8-65 8-34 5 148 8-95 8-48 7-3 6 151 8-91 7-35 7-11 6 167 8-58 8-6 7 1 6 144 8-41 7-6 8 26 6 112 8-30 8 0 8 17 5 85 8-21 8 1 6 17 7 65 7-16 9 2 6 3 6 49 8-11 8 2 7 10 6 36 8-8 8 1 7 2 5 26 9-4 8 0 7 4 5 20 9-4 7 1 7-1 6 16 8-3 8 1 8 3 5 11 8-2 9 1 6 1 6 8 7-2 9 1 7 2 6 6 8-1 7 0 7 2 7 3 8-1 8 1 6 0 5 2 24 0 6 2 24 0 5 1 305 0"/>
<path class="d2" d="M1746 971l12 0 9-1 7-7 8-18 5-15 9-60 7-75 8-95 5-22 8-138 8-129 7-106 6 70 8-117 8-60 7 14 6 122 8-77 8-39 7 8 5 123 8-73 8-20 8-8 6 137 8-41 7-3 8 31 5 117 9-26 7 2 7 35 6 95 8-19 8 3 7 3 6 78 7-15 8 5 8 26 5 60 8-9 8 4 7 7 6 48 8-7 8 5 7 4 7 39 7-5 8 4 8 17 5 27 8-3 8 3 7 6 6 21 7-2 8 2 8 4 5 15 9-1 7 2 8 3 6 11 7-1 8 2 8 2 5 8 9 0 7 1 8 1 5 6 15 0 8 2 6 4 15 0 8 1 6 3 15 0 7 1 6 3 8-1 8 1 7 0 6 2 23 0 6 1 276 0"/>
<path class="d2" d="M1746 971l13 0 7-9 9-43 7-90 5-36 8-172 8-190 7-80 7 79 8-116 7-56 7-20 6 151 8-91 8-45 7-42 5 157 9-94 8-47 6 7 7 162 8-64 8-10 6-8 6 159 8-45 8-1 7 44 6 121 8-30 7 0 8 11 6 98 8-22 8 5 7 30 6 71 8-15 7 4 8 7 5 54 9-10 7 3 7 0 6 44 8-7 8 3 7 13 6 31 8-5 8 2 7 5 5 22 9-3 8 2 7 4 6 16 8-3 8 2 7 4 6 12 7-2 8 1 7 3 6 7 9-1 7 1 7 1 6 5 16 0 7 2 6 3 16 0 7 1 5 2 16 0 8 1 6 2 23 0 5 1 24 0 5 1 305 0"/>
<path class="d2" d="M1746 971l13 0 8-1 7-4 7-9 6-11 9-36 7-51 7-59 7-28 7-104 8-117 7-100 6 21 8-127 8-89 7-66 6 104 8-89 8-45 7-42 5 133 8-81 8-23 8 16 6 148 7-44 9 5 6 10 7 133 7-29 8 10 7 31 6 107 8-18 8 12 7 3 6 89 8-13 7 10 8 19 5 68 9-6 7 8 7 24 7 51 8-3 8 7 6 9 7 38 7-3 8 6 7 14 6 26 8-1 8 5 7 6 6 19 8 0 8 3 7 4 5 12 8 0 9 3 6 3 6 9 8 0 8 2 8 2 5 6 9 1 7 1 7 2 6 4 8 0 7 1 8 1 6 3 8 0 7 1 8 1 5 2 16 0 8 1 5 1 16 0 8 1 310 0"/>
<path class="d2" d="M1746 971l12 0 9-1 7-3 7-9 6-8 8-36 8-53 7-63 6-7 8-115 8-117 7-83 6 61 8-140 8-100 7-63 6 148 8-116 7-59 7-38 6 183 9-81 7-22 8 21 6 176 7-57 8-9 7-3 6 153 9-38 7-5 7 13 6 123 8-29 8 2 6 17 7 96 8-20 7 2 8 23 5 69 8-13 9 4 7 17 5 48 9-9 7 3 7 11 6 34 7-6 9 4 7 0 6 26 9-3 7 2 7 3 6 19 8-2 8 1 7 5 5 12 9-2 8 1 7 3 5 8 8-1 8 1 7 2 6 5 16 0 7 2 6 4 8-1 8 1 8 0 5 3 23 0 5 1 363 0"/>
<path class="d2" d="M1746 971l12 0 9-5 7-26 8-65 5-35 9-160 7-166 7-109 7 70 7-118 8-55 7-17 6 149 8-90 7-45 8-29 5 152 9-91 8-38 7 25 5 153 9-58 8-13 7 13 5 137 8-44 8-6 8-1 6 119 7-37 8-1 8-2 5 100 8-27 7-2 8 13 6 79 8-18 8 0 7 18 5 58 9-12 7 0 8 16 5 44 9-9 7 1 7 8 6 34 8-8 8 2 8 3 5 24 8-4 8 1 7 3 6 18 7-3 9 1 7 4 6 13 7-3 9 2 7 3 5 9 9-1 7 0 7 3 6 6 8-1 7 0 8 2 6 4 23 0 6 4 8-1 7 0 8 1 6 2 23 0 5 2 23 0 7 1 304 0"/>
<path class="d2" d="M1746 971l9 0 4-1 8-10 7-39 7-77 6-61 8-161 8-146 7-99 6 40 8-92 8-42 7-12 6 101 8-61 8-30 7-38 6 106 8-64 7-31 8-9 5 106 9-59 7-6 7 43 6 112 8-21 8 3 7 40 6 94 8-14 8 7 7 16 6 75 7-10 9 11 7 18 6 59 8-7 7 7 8 17 6 46 8-4 7 5 8 1 5 35 8-1 8 5 7 12 7 28 6-4 9 5 7 9 6 20 8-1 8 3 7 6 6 14 8 0 8 2 7 6 5 9 9 0 7 2 7 1 7 8 7-1 8 2 7 3 6 5 8-1 8 1 7 1 6 4 8 0 8 1 7 0 5 3 16 0 8 1 5 1 9 1 14 0 7 2 23 0 6 1 15 0 7 1 282 0"/>
<path class="d2" d="M1746 971l12 0 8-1 9-4 7-9 6-7 7-29 8-45 7-50 6 0 9-105 6-89 8-75 6 58 8-130 8-96 7-56 5 139 9-96 8-36 7 3 6 163 7-65 9-15 7 10 5 142 9-48 7-10 7 2 6 120 8-36 9-2 6 10 6 98 8-29 8 0 6 10 7 78 8-21 7-1 8 6 6 61 7-17 8 2 8 7 6 47 7-12 8 1 8 18 5 30 8-7 8 1 7 6 6 23 8-5 8 1 7 1 6 17 8-3 8 0 7 2 6 12 8-2 7 0 7 2 7 9 7-1 8 0 8 2 5 6 8-1 8 0 8 1 5 4 8-1 8 1 7 1 5 3 8-1 9 0 7 1 5 2 363 0"/>
<path class="d3" d="M1746 971l12 0 9-3 7-7 8-20 6-12 7-42 7-53 9-94 6-4 7-104 7-92 8-3 6 53 8-92 8-62 7 60 6 81 8-67 8-36 7-92 5 107 9-75 7-41 7 15 7 105 7-72 8-41 8-107 5 141 8-60 8-15 7 37 5 125 9-43 8-8 7 22 6 108 8-34 8-4 7-24 5 99 9-28 8-1 7 23 6 80 8-21 7-2 8 15 6 64 7-16 8-1 7 2 5 54 9-11 7-1 8 14 6 40 8-8 8 1 7 10 6 32 7-8 9 2 7 6 5 25 8-5 8 1 7 7 6 19 8-4 7 1 8 1 6 15 8-3 8 1 7 5 6 10 8-2 8 1 6-2 6 9 9-1 7 0 8 4 5 6 9-1 7 0 7 4 6 4 8-1 9 1 6-2 6 4 7-1 9 0 8 1 4 3 9-1 8 0 7 1 6 2 8-1 8 1 7 0 5 1 16 0 7 1 6 1 23 0 5 1 133 0"/>
<path class="d2" d="M1746 971l12 0 9-9 8-44 7-90 5-65 8-191 9-195 6-72 6 54 8-97 8-44 7-6 6 114 9-69 6-34 8 8 6 111 8-66 7-34 7-51 6 128 8-47 8-7 7 28 7 124 7-32 8 1 8 6 5 104 8-21 8 7 7 15 6 88 9-11 6 4 8 30 6 70 8-7 7 5 8 8 6 56 8-5 7 6 7 19 6 43 9-3 6 4 9 16 5 29 8-1 8 4 9 10 4 21 8-1 7 4 8 4 6 16 8 0 7 3 8 0 6 13 8 0 8 3 6 4 6 9 9 0 7 1 8 3 5 6 9 0 6 1 9 2 5 4 8 0 7 1 9 1 5 3 8 0 8 1 7 1 5 1 8 1 8 0 8 1 5 1 16 0 7 1 6 1 305 0"/>
<path class="d2" d="M1746 971l12 0 8-10 8-35 7-57 6-34 7-119 9-158 8-111 5 55 8-154 8-94 7 17 6 136 8-97 8-48 6-52 6 159 9-95 8-48 7-15 6 173 8-63 7-12 8-6 5 159 8-46 8 2 7 26 6 129 8-31 7 3 9 32 6 100 7-23 7 3 8 33 6 71 8-12 8 3 7 13 5 53 8-9 8 4 7 0 6 42 9-5 7 3 7 8 6 29 8-3 8 3 7 2 6 21 8-3 8 2 7 4 6 15 7-2 8 1 8 4 5 10 9-1 7 1 8 1 5 7 9-1 7 1 8 2 5 5 8-1 8 1 7 1 6 3 16 0 7 1 5 2 23 0 6 1 363 0"/>
<path class="d2" d="M1746 971l12 0 8-1 8-6 8-14 6-13 7-38 8-57 7-55 6-9 8-105 8-105 7-119 6 56 9-127 6-71 8 14 5 114 9-84 7-43 8-14 6 126 8-58 7-11 8 37 5 127 9-35 7-3 7 13 7 111 7-28 8 2 7 3 6 91 8-20 8 3 7 13 6 70 7-14 9 4 7 6 5 55 8-10 8 3 8 13 5 40 9-6 7 3 8 10 4 30 9-5 8 3 8 6 6 23 7-4 8 2 7 3 6 17 8-2 8 2 7 2 5 12 8-1 8 1 8 4 5 9 8-1 9 1 7 1 5 7 8-1 8 1 8 2 5 5 8-1 8 1 7 1 6 3 16 0 7 1 5 3 9-1 7 1 8 0 6 2 7-1 8 1 8 0 6 1 22 0 6 1 276 0"/>
<path class="d2" d="M1746 971l12 0 8-1 8-7 8-15 6-13 7-40 8-67 7-60 6-6 8-103 8-95 7-69 5 61 9-103 7-50 8-9 6 120 8-44 8-5 7 3 5 112 8-29 8 3 8 14 5 91 9-17 7 2 7-1 6 79 8-15 8 5 8 31 5 53 8-10 8 4 7-1 6 43 8-6 7 3 8 7 6 32 7-5 9 4 7 7 5 23 9-3 7 2 7 9 6 16 8-2 7 1 8 2 6 12 8-1 8 1 7 4 6 8 8-1 8 1 7 2 5 6 8-1 9 1 6 1 6 4 16 0 7 1 6 3 8-1 8 1 7 0 6 2 23 0 6 2 22 0 6 1 363 0"/>
<path class="d2" d="M1746 971l13 0 8-1 7-3 7-8 6-9 8-30 8-51 8-60 5-8 8-111 8-119 8-130 5 72 8-158 8-103 7-82 6 166 7-123 9-40 7 31 6 190 8-70 7-22 8 26 5 163 8-55 8-4 7 15 6 135 8-39 8-1 6 28 7 108 8-28 8-1 8 17 4 78 9-18 8 1 7 5 6 65 8-14 7 0 7 7 6 49 8-11 9 3 7 6 5 36 9-7 7 1 7 11 6 26 8-5 8 1 7 2 5 19 8-4 9 2 7 2 6 14 8-2 8 1 6 2 6 10 8-2 8 1 7 1 6 7 8-1 9 1 6 1 6 5 9-1 7 0 7 1 6 3 16 0 7 1 6 3 7-1 9 0 7 1 5 1 24 0 5 1 305 0"/>
<path class="d3" d="M1746 971l12 0 8-1 8-7 8-17 6-12 7-45 8-71 7-45 6 9 8-86 8-60 8-75 5 88 8-71 8-38 7 20 6 95 8-64 8-34 7-92 5 118 9-78 7-41 8-31 5 125 9-82 7-44 8-14 6 128 7-84 8-45 7-48 6 140 8-92 8-49 7 112 6 122 7-58 8-21 8 74 5 95 8-41 9-11 6 5 7 86 8-35 7-10 7-20 7 82 7-31 8-8 8-3 5 69 8-24 7-7 9 15 5 56 7-21 8-4 7-5 7 50 7-17 9-3 7-11 5 44 8-14 8-3 8 12 5 34 8-11 8-1 7-2 6 29 9-8 7-2 7 8 7 23 6-8 9 0 7-2 6 19 7-6 8-1 7 7 6 13 8-4 9 0 6 3 6 10 8-3 8 0 7 2 6 7 8-2 15 0 6 6 8-2 8 0 7 1 5 5 9-1 7-1 8 2 5 4 9-1 8 0 7-1 5 3 23 0 6 2 23 0 6 2 8-1 8 0 7 1 80 0"/>
<path class="d2" d="M1746 971l12 0 9-1 8-6 6-9 6-9 8-32 8-41 7-44 6-8 8-81 8-71 8-49 5 51 8-45 7-12 8 17 6 79 8-3 8 22 7 11 5 60 8 8 9 20 7 18 5 36 8 5 8 12 8 15 5 17 8 3 8 5 7 4 5 8 8 2 9 4 7 2 6 4 7 1 8 1 7 1 6 2 651 0"/>
<path class="d3" d="M1746 971l12 0 9-2 7-8 7-16 6-19 9-57 7-74 8-95 4-1 10-134 7-93 7-112 6 81 8-98 7-50 8-9 6 117 8-80 8-43 7-2 5 119 8-79 9-44 6 65 7 108 8-73 7-39 7 8 6 107 8-71 8-39 7 79 6 94 8-62 8-34 7-89 6 110 8-72 8-40 7-140 5 135 8-89 9-45 6 61 6 135 9-57 7-16 7-13 6 136 8-37 8 2 7-106 6 145 7-27 9 15 7 79 5 104 9-10 8 17 7 12 5 81 8-3 8 16 8 15 5 55 8 2 8 13 7 25 6 38 8 2 8 9 7 16 6 20 8 3 8 5 7 5 5 12 9 2 8 3 7 2 6 7 8 1 7 2 7 3 7 4 7 0 8 1 8 2 5 1 305 0"/>
<path class="d2" d="M1746 971l12 0 8-2 8-9 7-18 6-21 8-56 8-86 7-79 6-22 7-119 9-112 8-102 5 68 8-93 8-48 7-15 5 118 9-40 7-5 8-3 5 114 8-29 8 5 8 13 5 98 8-18 8 5 7 21 5 81 9-12 8 6 7 32 6 62 7-10 8 6 8 15 6 50 8-7 8 6 7 15 6 37 8-4 7 3 7 6 7 31 7-5 8 5 8 4 5 22 8-1 8 2 7 9 7 17 7-1 8 2 7 2 6 12 7-1 8 2 8 3 5 9 9 0 8 1 7 0 6 8 7-1 8 1 7 4 7 5 7 0 8 1 7 1 6 3 8 0 8 1 6 0 6 2 9 0 7 1 8 1 6 2 22 0 6 2 334 0"/>
<path class="d2" d="M1746 971l13 0 8-2 7-8 7-17 6-14 8-54 8-81 7-71 6-9 8-131 8-102 7-81 7 79 7-99 7-54 8-29 5 131 9-81 8-34 7 16 6 139 7-56 9-10 6 9 6 125 9-38 7-6 7 1 6 109 9-28 7-5 7-16 6 97 8-24 8 1 7 21 6 78 8-19 7 1 8 14 5 58 8-13 8 3 8 8 5 46 8-9 9 3 6 8 6 34 8-5 8 1 7 8 6 26 7-5 8 2 9 5 4 18 8-3 9 2 7 7 5 13 8-2 8 1 8 3 5 10 9-2 7 1 7 2 6 7 8-1 8 1 8 1 5 5 8-1 8 1 7 1 7 4 7-1 8 1 7 0 6 3 23 0 6 2 22 0 6 2 8-1 8 1 289 0"/>
<path class="d2" d="M1746 971l12 0 9-7 7-28 8-52 5-26 9-113 7-118 7-94 6 38 9-134 6-75 8-48 6 126 8-92 7-45 8-9 6 139 8-60 7-14 8 12 6 145 8-40 8-2 7 44 6 111 7-29 8 3 7 5 7 91 7-20 7-1 8 7 6 71 8-13 8 4 7 12 6 55 8-10 7 2 8 7 5 39 9-6 7 2 8 10 5 27 8-4 8 2 7 2 6 22 8-3 8 2 7 8 6 15 8-2 7 1 8 2 5 11 9-1 8 0 7 2 6 7 7-1 8 1 8 2 5 5 17 0 7 2 4 3 17 0 8 1 5 2 15 0 8 1 397 0"/>
<path class="d2" d="M1746 971l20 0 8-3 7-5 6-7 9-24 7-36 8-51 5-13 7-84 9-103 7-76 6 28 8-124 8-93 7-72 6 109 7-92 9-31 7 1 6 151 8-51 7-8 7 9 6 131 9-32 7-2 7 25 6 106 8-25 8 3 7-4 6 91 8-19 8 2 6 21 6 68 8-13 9 4 6 13 6 49 9-7 7 3 7 8 6 38 8-6 8 3 7 3 7 30 7-5 8 3 8 7 5 19 8-2 8 2 7 3 6 15 8-2 8 2 7 3 5 10 8-1 9 1 6 3 6 7 8-1 8 1 8 2 5 4 15 0 8 2 6 3 16 0 8 1 5 2 23 0 6 2 23 0 5 1 23 0 6 1 305 0"/>
<path class="d2" d="M1746 971l13 0 8-4 8-17 6-24 6-19 9-73 7-79 7-93 6 15 8-127 8-98 7-43 6 98 8-100 8-55 7-39 6 139 8-87 8-44 7 2 5 149 8-61 9-14 6-16 6 141 8-47 8-8 7-17 7 130 8-38 7-7 7 18 6 103 8-27 8-2 7 13 6 84 8-22 7-2 8 21 5 64 9-14 8 0 7 6 6 50 7-12 8 1 7 8 6 38 8-9 8 1 7 8 6 29 8-7 8 2 7 3 6 22 7-5 9 1 7 3 6 16 7-3 8 1 7 3 6 12 8-2 8 0 7 3 7 8 7-1 8 0 8 1 4 6 9-1 7 0 7 3 6 4 9-1 8 1 7-1 6 3 23 0 6 3 7-1 9 1 6 0 7 1 304 0"/>
<path class="d3" d="M1746 971l14 0 7-9 8-34 6-57 6-31 9-118 8-122 6-100 6 48 8-127 7-75 8 8 6 119 8-88 7-47 8-8 6 129 7-86 9-48 7-67 6 144 7-96 8-52 8 56 6 134 8-89 7-47 8-15 5 138 8-91 7-49 8-62 6 151 8-99 8-54 7-1 6 151 8-90 8-34 7-37 6 169 8-70 8-19 7-27 5 163 8-56 8-11 7 20 6 141 9-37 7-5 7 20 6 114 8-28 7-2 8 15 6 93 7-23 9 6 7 24 6 69 7-13 8 4 8-6 5 55 8-9 8 5 8 30 5 34 8-4 7 2 8 6 6 25 8-3 8 3 7 6 6 17 8-2 7 2 8 2 6 12 8-1 7 2 8 3 5 8 8-1 8 2 8-1 5 6 9 0 7 1 7 2 6 3 8 0 8 1 7 1 6 2 8 0 7 1 8 0 6 1 16 0 6 1 196 0"/>
<path class="d2" d="M1746 971l12 0 8-1 8-9 8-27 5-26 9-92 7-117 7-106 7-37 8-152 7-98 7-40 6 86 8-73 7-35 7-31 8 110 6-66 9-33 7-9 6 110 8-62 7-19 8 12 5 118 8-36 8-3 7 10 6 109 8-26 7 2 8 36 6 90 7-17 8 7 8-1 6 78 7-12 9 10 7 37 6 59 8-6 7 6 8-5 6 49 7-5 8 6 8 16 5 36 8-2 8 6 7 8 6 29 8-1 8 4 7 11 5 20 9 0 7 4 7 6 6 14 9 1 8 2 7 3 6 10 7 0 8 2 7 4 6 7 9 1 7 1 7 3 6 5 8 0 7 1 8 1 5 3 8 0 9 1 7 1 6 3 15 0 8 1 5 2 16 0 7 1 6 1 16 0 8 1 281 0"/>
<path class="d3" d="M1746 971l13 0 8-5 7-13 7-23 7-18 7-48 8-56 7-72 7-9 7-75 7-61 8-97 5 48 9-73 8-44 7-45 5 79 9-60 8-32 7-32 6 88 8-60 8-33 6 87 7 77 8-52 7-28 8-32 5 82 8-55 8-30 7 32 6 78 8-52 8-29 7-17 6 81 8-54 7-29 8-15 5 84 9-56 7-30 8 59 6 75 8-50 7-27 7 0 6 80 8-37 8-7 7-38 6 93 8-24 8 2 7-12 6 88 8-13 8 9 7 12 6 75 8-7 7 11 8 39 6 55 7-4 8 12 8 10 5 40 7 0 9 11 7 13 6 29 8 1 8 8 7 17 6 17 8 1 7 5 8 6 5 11 9 1 8 4 7 0 5 7 9 2 8 2 7 1 6 5 8 1 7 2 7 2 6 3 7 0 9 1 7 1 6 2 8 0 7 1 232 0"/>
<path class="d2" d="M1746 971l12 0 9-2 7-5 7-12 6-12 8-37 7-51 8-73 6-17 8-107 8-108 7-60 6 31 7-106 9-75 7-51 5 100 9-81 7-42 8 1 6 130 7-45 8-5 8 68 5 109 8-28 8 4 7 12 6 93 8-19 8 6 7 11 5 74 8-13 9 7 7 23 6 59 8-9 7 5 7 1 7 49 8-6 8 5 7 9 5 34 8-3 8 4 8 12 5 25 8-2 8 4 7 2 5 19 9-1 8 3 7 4 6 14 8 0 8 1 7 7 5 9 9 0 8 2 7 0 5 7 8-1 8 2 7 2 6 5 9 0 7 1 7 2 6 3 16 0 7 2 6 2 15 0 8 1 5 1 17 0 7 1 6 1 22 0 6 1 305 0"/>
<path class="d3" d="M1746 971l9 0 4-1 8-7 7-26 8-50 5-19 9-112 7-108 7-112 6 59 8-107 8-63 7-8 6 123 8-82 8-44 7 0 5 126 8-82 9-44 7-23 6 130 7-84 9-46 7 12 6 127 7-83 8-44 7-6 6 129 9-84 7-45 7 8 6 128 8-83 7-43 8-96 5 149 8-96 9-52 7-8 6 150 7-94 8-39 7-91 7 179 7-87 8-32 7-13 6 170 8-73 8-25 7 43 6 144 8-56 8-16 7-83 5 149 9-54 7-15 7 32 7 124 8-43 8-7 6 26 6 98 8-33 8-4 7 41 6 73 9-21 7-4 8 6 5 58 8-17 8-1 7-24 6 55 8-15 8 0 6 20 7 40 8-10 7 0 8 7 6 29 8-7 14 0 6 24 8-6 8 1 7 1 6 18 7-4 9 1 6 1 7 15 7-4 9 1 7 5 6 9 8-2 8 1 6 0 7 8 7-2 8 1 7 1 6 5 8-1 8 1 7 1 6 3 23 0 5 2 23 0 6 2 16 0 8 1 51 0"/>
<path class="d3" d="M1746 971l12 0 9-3 7-13 7-29 6-27 8-81 8-90 7-60 6-6 8-87 8-52 7-4 6 60 8-48 8-25 7-24 5 69 9-48 8-26 7 24 6 67 8-46 7-25 8-2 6 68 8-47 7-25 7-5 6 69 8-47 8-26 7-33 6 74 8-50 7-28 8-42 5 81 9-55 7-30 7-27 6 90 9-44 7-15 8-12 5 95 8-36 7-9 9 36 5 83 8-24 8-3 7 33 5 69 9-16 8 0 7-3 5 62 9-12 8 2 7 19 6 52 7-10 8 3 8-10 5 45 8-7 8 3 7 0 5 37 10-3 6 2 8 15 6 30 9-3 6 2 8 16 5 20 9 0 8 2 6-2 6 19 8-2 8 3 7 2 6 13 8 0 8 2 8 7 5 9 8-1 8 2 7 1 7 8 7 0 7 1 8 5 6 5 7 0 9 1 7 0 6 3 8 0 8 1 6-1 7 3 15 0 7 2 6 2 16 0 7 1 6 1 16 0 7 1 6 1 103 0"/>
<path class="d2" d="M1746 971l13 0 8-5 8-23 7-43 5-32 9-118 7-118 8-125 5 8 8-132 8-84 8-66 5 107 8-76 8-38 6-27 6 121 9-73 7-36 8 29 6 127 8-45 8-7 7 17 5 117 9-31 7-1 7 13 6 103 8-21 8 2 8 12 5 84 9-14 7 2 7 21 6 71 8-13 7 3 8-3 6 58 8-9 8 5 6 25 7 44 7-7 8 3 8 12 5 33 9-4 6 2 8 7 6 26 8-3 7 2 9 9 4 18 9-1 8 2 7-2 5 15 7-2 9 3 7 4 6 11 9 0 8 1 7 2 5 8 9 0 7 1 7 2 6 6 8 0 8 1 7 2 5 4 9 0 7 1 8 1 6 3 15 0 7 1 6 2 16 0 7 1 6 1 8 0 7 1 9 0 5 1 23 0 5 1 248 0"/>
<path class="d3" d="M1746 971l12 0 9-1 7-4 7-11 6-10 8-31 8-49 7-50 6-7 8-80 8-76 7-75 6 45 8-80 7-48 8 31 7 71 7-56 7-33 8-33 5 90 9-47 8-20 7 81 5 74 9-31 7-10 8-26 5 76 8-27 7-6 8 20 6 66 8-19 8 0 7-9 6 60 8-14 7 0 8-5 6 52 7-11 8 3 8 11 6 42 7-7 8 3 7-4 6 35 8-3 8 4 7 8 6 25 8-1 8 4 7 10 6 17 7-1 8 3 7 2 6 13 9 0 7 2 8 5 5 7 8 0 8 2 8 1 5 5 9 1 7 1 7 0 6 4 7 0 8 1 8 2 6 2 8 0 8 1 375 0"/>
<path class="d3" d="M1746 971l12 0 8-1 9-7 7-12 5-8 8-40 9-58 6-63 6 3 8-100 8-93 7-106 6 88 7-102 9-60 6 0 6 128 9-89 7-47 8-44 5 141 8-94 8-51 8-6 5 143 8-96 8-52 7 4 6 144 8-85 8-36 7 51 6 138 8-61 8-17 7 21 6 122 8-41 7-10 8-9 5 108 8-30 8 0 8-2 6 94 7-23 8 4 8 6 6 72 8-13 7 5 8-3 5 54 9-5 7 5 8 23 5 33 7-5 8 5 8 6 6 22 8-1 8 3 7 4 6 14 8-1 7 2 7 3 5 8 9 0 8 1 7 3 5 4 9 1 15 0 6 3 8 0 8 1 7 0 5 1 363 0"/>
<path class="d3" d="M1746 971l11 0 10-9 8-32 6-57 6-31 9-129 7-105 8-92 5 56 8-113 8-65 7 12 6 106 8-84 8-31 7 10 5 121 9-57 7-22 8 74 5 98 9-39 7-13 7-11 6 94 8-34 9-8 6 10 6 81 8-28 8-4 7-29 6 78 9-22 7-5 7 10 6 65 8-18 7-3 8 0 6 55 7-16 8 1 8 13 5 41 8-10 9 2 6 4 6 33 8-7 8 1 8 2 6 27 7-7 7 1 8 10 6 19 8-3 7 0 8-3 5 15 8-2 8 1 7 8 6 10 9-1 8 1 6 2 6 7 8-1 7 1 8 1 6 6 9-1 14 0 6 4 23 0 6 3 15 0 8 1 5 2 17 0 7 1 310 0"/>
<path class="d2" d="M1746 971l12 0 8-2 8-16 7-37 6-34 8-104 8-119 7-100 6-3 8-137 8-100 7-57 6 104 8-88 7-42 8 7 6 137 8-48 8-3 7 29 5 122 9-28 7 2 8 2 6 108 7-22 8 6 7 18 7 88 7-14 8 6 7 16 6 66 8-9 8 6 7 12 6 51 8-5 7 4 7 15 6 37 8-3 8 5 7 9 7 27 7-2 9 5 6 7 6 18 9 0 7 2 7 8 6 13 7-1 9 2 7 0 6 10 8-1 8 2 7 2 6 6 7 0 8 1 8 2 5 5 16 0 7 2 7 3 7 0 7 1 8 0 6 2 15 0 7 1 398 0"/>
<path class="d3" d="M1746 971l13 0 8-2 7-9 8-16 5-13 9-52 8-65 7-59 5 0 8-102 8-91 7-96 6 58 8-102 7-58 8 24 5 96 10-77 7-41 7 36 5 96 9-70 8-19 6-55 6 126 8-38 8-3 8-25 5 118 8-29 9 10 6 24 5 95 9-15 8 8 7 18 5 74 8-9 8 7 8-11 5 60 8-6 9 10 7 12 6 45 7-4 8 7 8 11 5 31 8-2 8 5 7 10 6 21 8 0 8 4 7 3 6 15 7-1 8 3 7 5 7 10 8-1 7 2 8 0 6 7 7 0 8 1 7 5 6 3 8 0 8 1 6 1 7 2 8 1 412 0"/>
<path class="d2" d="M1746 971l13 0 8-6 7-16 8-41 5-23 8-96 9-122 6-86 6-9 8-147 8-113 7-15 6 96 8-95 9-48 6-15 6 137 7-53 8-8 8-18 6 142 8-36 8 7 6 1 6 122 9-20 8 8 7 14 5 94 8-12 8 9 7 26 6 75 8-7 8 8 7 7 6 55 8-3 8 6 7 14 5 38 9-1 7 5 7 16 6 26 8-1 8 5 7 9 6 17 8 0 8 3 7 4 6 11 7 0 9 2 7 3 5 7 9 1 7 1 8 1 6 5 7 0 9 2 7 0 5 3 9 0 7 1 7 1 6 2 8 0 8 1 7 1 6 1 16 0 7 1 397 0"/>
<path class="d2" d="M1746 971l12 0 8-2 8-13 8-27 5-20 9-84 7-103 7-115 6 18 8-161 8-117 7-69 6 130 8-114 8-58 7-4 6 162 8-98 7-49 8-36 6 178 8-77 8-20 7 7 5 164 8-58 8-13 8 1 6 145 7-48 8-9 7 25 6 118 8-34 8-4 7-9 6 100 8-29 8-2 7-1 6 84 8-24 7-1 8 27 5 61 8-16 8-1 7 6 6 49 8-12 8 0 7 10 6 37 8-9 8 0 7 4 6 28 7-7 9 1 7 5 6 22 7-6 9 1 7-1 5 18 9-4 7 0 8 4 5 13 7-3 9 0 7 1 6 10 8-2 8 0 7 2 6 7 7-1 8 0 7 2 7 5 8-1 7 1 7 0 7 5 7-1 9 0 6 1 6 3 8-1 8 0 7 1 7 2 22 0 6 1 15 0 8 1 6 1 7-1 8 0 7 1 196 0"/>
<path class="d2" d="M1746 971l13 0 8-2 8-10 7-18 5-12 9-57 7-64 7-78 6-11 8-109 8-79 7-29 6 81 8-37 9 12 6 22 5 99 9 9 8 28 7 32 6 63 7 8 9 21 7 20 5 33 9 7 7 10 7 8 6 16 8 4 8 5 7 6 5 7 9 2 8 2 7 2 7 3 7 1 7 1 8 0 6 1 650 0"/>
<path class="d2" d="M1746 971l11 0 10-8 7-34 8-69 5-44 8-141 9-166 7-104 5 47 8-98 8-46 7-59 6 108 8-66 8-33 7-30 6 113 9-68 6-34 8-13 6 128 7-41 9 0 7 54 6 109 6-31 9 6 8 35 5 88 8-18 9 5 6 8 6 75 7-16 9 6 7-1 5 61 9-9 8 5 7 12 5 51 9-8 7 4 7 7 6 42 8-6 7 2 9 23 5 29 8-4 8 3 7 3 6 24 8-2 8 2 7 8 5 18 8-2 9 3 6 1 7 14 7-1 9 2 7 4 5 10 8-1 8 1 7 3 7 8 7-1 7 1 8 1 6 7 8-1 8 1 7-1 6 5 8-1 8 1 7 1 5 4 8-1 8 1 7 0 6 3 16 0 7 1 6 2 15 0 8 1 6 1 15 0 8 1 253 0"/>
<path class="d2" d="M1746 971l12 0 9-4 7-15 8-32 6-19 7-74 8-86 8-110 5 24 8-153 8-115 7-94 6 122 8-143 8-84 7-23 6 178 7-119 8-60 8 29 6 178 8-107 7-41 7-2 6 187 9-70 7-20 7 4 6 168 9-51 7-10 7 19 6 138 8-39 8-4 6 14 7 114 9-25 6-4 7 4 7 89 7-21 9 4 7 6 5 67 8-15 8 3 8 24 5 45 8-10 8 3 8 10 5 33 8-6 7 1 8 5 6 24 8-4 8 2 7 5 5 17 9-2 7 1 7 2 6 12 8-1 8 1 7 2 6 8 8-1 8 1 7 1 6 5 15 0 8 1 6 4 8-1 8 1 7 0 5 3 9-1 7 1 7 0 6 2 23 0 6 1 305 0"/>
<path class="d2" d="M1746 971l12 0 9-3 7-11 7-28 7-23 7-66 8-81 7-83 6-8 8-118 8-95 7-42 6 68 8-90 7-50 7-15 7 118 8-47 8-7 7-19 6 121 8-33 7-1 7 43 6 96 9-19 7 1 7 22 7 79 7-15 8 4 7 16 6 62 8-11 7 3 8 8 6 48 7-7 8 4 7-6 7 41 8-5 7 4 7 11 6 30 8-4 8 4 7 6 6 22 8-2 7 2 8 5 7 16 7-1 8 2 7 8 6 10 8 0 8 1 6 1 6 8 8-1 8 1 8 2 5 5 8 0 8 1 8 2 6 3 7 0 8 1 7 0 6 3 8-1 7 1 8 1 6 2 7-1 8 1 7 0 6 1 363 0"/>
<path class="d2" d="M1746 971l12 0 9-6 7-33 7-80 6-42 8-199 8-204 8-131 5 127 9-128 7-59 7-24 6 182 8-109 8-55 7-5 6 179 7-108 9-53 6-7 7 183 7-82 8-24 8 20 6 173 7-60 9-8 6 15 6 146 8-42 8-5 7 23 6 114 8-31 7-3 8 1 6 92 7-24 9 1 7-10 6 76 7-19 8 3 8 21 5 54 8-12 8 2 7 10 7 41 8-8 7 0 8 13 5 27 8-5 8 1 7 1 6 19 8-3 8 1 7 4 6 14 7-2 9 1 7 2 5 10 8-2 9 1 6 2 6 7 8-1 8 1 7 1 6 5 9-1 6 0 8 1 6 3 15 0 8 1 6 2 7-1 8 1 347 0"/>
<path class="d1" d="M1746 971l12 0 9-4 7-6 8-10 6-2 7-14 8-13 7-7 6 8 8-12 8-6 7-4 6 16 8-8 8-2 7 0 6 16 8-6 8-2 7 2 5 13 9-5 8-1 7 2 6 11 8-4 7-1 8 0 5 10 9-3 6-1 8-2 6 9 8-3 8 0 7 1 6 7 7-2 8 0 8 1 6 6 8-2 8 0 7 1 5 4 8-1 16 0 5 4 8-1 15 0 6 3 7-1 9 0 7 1 6 2 8-1 15 0 5 2 23 0 6 1 23 0 7 1 22 0 6 1 8-1 7 0 8 1 29 0 5 1 8-1 8 0 7 1 144 0 6 1 190 0"/>
<path class="d1" d="M1746 971l21 0 7-1 13 0 9-1 7-1 7-1 6 0 8-2 8-1 7-1 6 1 7-2 9-2 6 0 7 2 8-2 8-1 7-1 5 3 9-2 15 0 5 2 8-1 15 0 5 2 24 0 6 2 8-1 7 0 8 1 6 1 23 0 6 1 22 0 6 1 8-1 8 0 7 1 29 0 6 1 23 0 6 1 80 0 6 1 167 0 6 1 276 0"/>
<path class="d1" d="M1746 971l28 0 7-1 6 0 8-1 8 0 7-1 6 0 8-1 8-1 7-1 6 0 8-1 8-1 7 0 6 1 8-1 14 0 7 2 8-1 14 0 6 1 16 0 7 1 6 1 23 0 5 1 9-1 7 1 29 0 8 1 29 0 5 1 124 0 8 1 490 0"/>
<path class="d1" d="M1746 971l21 0 8-1 12 0 9-1 7 0 7-1 5 0 9-1 8-2 7 0 6 1 8-2 8-1 7 0 6 2 8-2 14 0 7 2 7-1 15 0 6 2 8-1 8 0 7 1 7 1 23 0 5 1 24 0 4 1 53 0 6 1 109 0 5 1 507 0"/>
<path class="d1" d="M1746 971l20 0 9-1 7-1 6-1 8-1 7-2 7-2 6 1 8-2 8-1 7-1 6 2 8-1 15 0 5 2 9-1 15 0 6 2 8-1 15 0 6 2 7-1 8 0 8 1 5 1 9-1 7 0 7 1 6 1 9-1 14 0 6 1 23 0 6 1 51 0 5 1 53 0 5 1 190 0 7 1 339 0"/>
<path class="d1" d="M1746 971l13 0 7-1 8-1 7-1 6-1 9-4 8-4 6-4 6 2 8-4 8-2 7 1 6 5 8-2 8-1 7 0 6 4 8-1 7-1 7 0 6 4 9-1 7-1 8 1 5 3 8-1 8-1 7 0 6 3 9-1 7 0 7 1 6 2 7-1 15 0 6 2 24 0 5 1 24 0 5 1 23 0 6 1 9-1 7 0 8 1 28 0 6 1 138 0 6 1 391 0"/>
<path class="d1" d="M1746 971l13 0 7-1 8-1 8-3 6-1 7-5 8-5 7-4 6 0 7-7 8-6 8-4 6 4 8-7 7-4 8-1 6 7 8-4 8-2 7-2 6 8 7-3 8-1 7 1 7 7 8-2 7-1 7 1 6 7 8-2 8-1 7 2 6 6 8-2 8 0 7-1 6 5 8-2 7 0 8 1 5 4 9-1 14 0 6 4 8-1 8 0 7 1 7 3 7-1 7 0 8-1 6 3 8-1 14 0 7 3 8-1 8 0 7 1 6 2 23 0 5 1 23 0 6 2 8-1 15 0 6 2 8-1 15 0 5 1 23 0 6 1 24 0 5 1 8-1 9 0 7 1 56 0 6 1 168 0 6 1 74 0"/>
<path class="d1" d="M1746 971l12 0 9-1 7-4 8-6 5-3 7-12 9-15 7-16 6 4 8-18 9-13 6-5 6 17 8-11 7-5 8 5 6 19 8-8 8-2 7 2 6 17 7-6 8-2 7-3 6 15 8-5 8-1 7 2 6 13 9-4 8-1 6 3 6 11 8-4 8 0 7 1 6 9 8-3 14 0 7 7 8-2 7 0 8-1 5 6 8-1 15 0 6 5 8-1 8 0 8 1 5 4 7-1 16 0 6 4 8-1 14 0 6 2 16 0 8 1 5 1 23 0 6 2 8-1 15 0 6 2 8-1 16 0 4 1 24 0 6 1 51 0 6 1 138 0 7 1 160 0"/>
<path class="d1" d="M1746 971l12 0 8-2 8-3 8-5 6-2 7-6 8-7 8-5 5 3 8-5 9-3 6 1 6 6 8-3 7-1 9 2 4 6 9-2 8-1 6 1 6 6 9-2 7-1 8 1 5 5 8-2 15 0 6 4 8-1 8 0 7 1 6 3 8-1 15 0 5 2 24 0 5 3 8-1 8 0 8 1 6 2 7-1 15 0 6 2 8-1 15 0 6 2 8-1 15 0 6 1 23 0 6 1 23 0 5 1 8-1 8 0 8 1 57 0 6 1 138 0 5 1 248 0"/>
<path class="d1" d="M1746 971l21 0 8-1 7-1 6-1 8-2 7-3 7-2 6-1 8-3 8-3 8-3 5 2 8-3 8-2 7 0 5 3 9-1 7-1 8 1 6 3 8-1 14 0 6 3 9-1 14 0 6 3 8-1 15 0 6 2 23 0 6 3 8-1 15 0 5 2 9-1 7 0 8 1 6 1 23 0 6 2 7-1 8 0 7 1 6 1 8-1 7 0 8 1 6 1 7-1 8 1 37 0 5 1 24 0 5 1 8-1 9 0 6 1 58 0 6 1 8-1 7 1 174 0 6 1 167 0"/>
<path class="d1" d="M1746 971l42 0 8-1 7 0 7-1 14 0 8-1 7-1 6 1 8-1 8-1 7-1 6 1 8-1 8-1 6 0 6 1 9 0 8-1 6 1 6 1 8-1 9 0 6 1 6 1 8-1 14 0 7 1 16 0 7-1 5 1 24 0 6 1 51 0 7 1 80 0 6 1 166 0 6 1 9-1 8 0 6 1 311 0"/>
<path class="d1" d="M1746 971l28 0 7-1 14 0 8-1 7-1 6 1 8-1 8-1 7-1 6 1 8-1 7-1 8-1 6 1 7-1 9 0 7-1 5 2 9-1 14 0 6 2 9-1 7 0 7-1 6 2 8-1 15 0 6 1 23 0 5 1 9 0 7-1 8 0 6 1 22 0 6 1 52 0 6 1 8-1 15 0 5 1 81 0 6 1 8-1 8 0 7 1 201 0 7 1 8-1 8 0 6 1 196 0"/>
<path class="d1" d="M1746 971l29 0 6-1 14 0 8-1 13 0 8-1 8-1 7-1 5 0 9-1 7-1 8-1 6 1 8-1 7-1 8-1 6 2 7-1 9-1 7 1 5 2 9-1 7-1 6 0 7 2 8-1 15 0 5 2 10-1 14 0 5 1 9 0 7-1 8 1 6 1 8 0 8-1 6 0 6 2 8-1 15 0 6 1 23 0 6 1 8 0 8-1 7 1 29 0 6 1 8-1 14 0 7 1 51 0 6 1 8-1 15 0 5 1 196 0 6 1 8-1 15 0 6 1 161 0"/>
<path class="d1" d="M1746 971l20 0 9-1 12 0 8-1 8-1 7-1 6 0 8-2 8-1 6-1 7 0 7-1 9-2 7-1 6 2 8-2 8-1 7-1 5 2 9-1 8 0 7 1 5 2 23 0 6 2 16 0 8 1 5 1 23 0 6 1 16 0 6 1 7 1 22 0 7 1 51 0 6 1 102 0 8 1 454 0"/>
<path class="d1" d="M1746 971l12 0 8-1 8-4 7-6 6-2 8-11 8-11 7-5 7 7 7-7 8-3 6-1 7 11 8-5 8-1 7 1 6 9 7-4 8-1 8 1 6 8 8-3 7 0 8 1 6 7 7-3 8-1 8-1 5 6 8-2 7-1 8 0 6 6 7-2 16 0 6 5 8-2 15 0 5 4 8-1 8-1 8 1 5 3 8-1 8 0 7 1 6 2 8-1 8 0 7 1 6 1 23 0 5 1 24 0 6 1 23 0 5 1 52 0 6 1 52 0 6 1 167 0 6 1 189 0"/>
<path class="d1" d="M1746 971l20 0 9-1 12 0 9-1 7-2 8-2 5 0 8-3 8-2 7-2 6 2 8-3 8-2 6-1 6 4 9-2 8-1 7 0 5 4 9-1 7-1 8 1 5 3 8-1 14 0 7 3 9-1 6-1 8 0 5 3 9-1 15 0 6 2 23 0 5 1 24 0 5 1 24 0 5 1 23 0 6 1 8-1 15 0 6 1 51 0 6 1 138 0 6 1 334 0"/>
<path class="d1" d="M1746 971l21 0 7-1 7-1 6 0 8-2 8-3 7-2 6 0 8-4 8-3 7-2 6 2 7-4 8-2 8 0 5 4 9-2 15 0 5 4 9-1 7-1 8 1 6 4 7-2 15 0 6 3 8-1 15 0 6 3 8-1 8 0 6 1 7 2 23 0 6 2 23 0 5 1 23 0 6 1 23 0 5 1 24 0 5 1 52 0 7 1 138 0 5 1 334 0"/>
<path class="d1" d="M1746 971l13 0 7-1 8 0 7-1 6-1 8-1 9-2 7-3 4 1 9-3 8-3 7-2 6 2 8-3 8-2 7 0 6 3 8-2 7-1 8 0 6 3 7-1 8 0 7-1 6 3 9-1 7 0 7 1 6 3 7-1 16 0 6 3 8-1 15 0 5 2 8-1 16 0 6 2 22 0 6 1 24 0 5 1 16 0 8 1 5 1 8-1 8 0 7 1 29 0 5 1 23 0 6 1 9-1 15 0 5 1 52 0 6 1 167 0 5 1 219 0"/>
<path class="d1" d="M1746 971l13 0 8-1 7-2 7-4 6-2 8-8 8-8 7-7 6 1 8-6 9-4 7-1 5 6 8-3 8-1 7-1 6 7 8-2 8-1 7-1 6 7 7-2 8-1 8 1 6 6 8-2 7 0 7 1 6 5 8-2 8 0 7 2 6 4 8-1 15 0 6 3 8-1 7 0 8 1 6 3 8-1 14 0 6 3 8-1 8 0 7 1 6 2 23 0 6 2 8-1 7 0 7 1 7 1 23 0 6 1 23 0 5 1 23 0 7 1 7-1 8 1 36 0 6 1 22 0 6 1 81 0 6 1 189 0 7 1 80 0"/>
<path class="d1" d="M1746 971l12 0 9-1 7-1 8-2 5-1 8-3 8-4 8-4 5 1 8-5 7-4 8-1 6 3 7-4 9-2 7 0 6 5 7-2 9-1 7 2 6 4 8-1 8 0 6-1 6 5 9-1 7 0 7 1 5 4 8-1 9 0 7 1 6 2 16 0 7 1 6 2 23 0 5 2 24 0 6 1 22 0 7 1 23 0 5 1 23 0 6 1 44 0 8 1 115 0 5 1 363 0"/>
<path class="d1" d="M1746 971l20 0 8-1 8-1 5 0 8-2 8-2 7-2 6 1 9-2 7-1 7-1 6 3 8-2 8-1 7 1 6 2 8-1 14 0 6 2 8-1 16 0 5 2 8-1 15 0 7 2 7-1 15 0 6 2 8-1 15 0 6 1 22 0 6 1 8-1 15 0 6 1 23 0 6 1 8-1 15 0 6 1 52 0 6 1 8-1 15 0 5 1 167 0 6 1 8-1 15 0 6 1 276 0"/>
<path class="d1" d="M1746 971l28 0 8-1 5 0 8-1 8-1 7-1 5 0 9-3 8-3 8-2 4 2 9-4 8-2 7 0 5 3 8-2 8-1 8 1 5 4 9-2 15 0 6 4 7-2 16 0 6 3 8-1 14 0 5 3 8-1 16 0 6 2 8-1 14 0 6 2 9-1 7 0 7 1 6 1 53 0 5 1 52 0 6 1 109 0 5 1 392 0"/>
<path class="d1" d="M1746 971l21 0 8-1 6 0 6-1 8-1 8-1 7-2 6 0 7-2 9-2 8-2 5 1 8-2 7-2 8-2 6 3 9-3 7-1 7-1 5 4 8-2 8-1 7 1 7 3 7-1 8-1 7 0 7 3 7-1 8 0 7-1 6 3 8-1 15 0 6 3 8-1 15 0 6 2 22 0 6 2 8-1 16 0 5 2 8-1 16 0 4 1 17 0 7 1 6 1 8-1 15 0 5 1 23 0 7 1 22 0 6 1 8-1 16 0 5 1 53 0 5 1 196 0 5 1 161 0"/>
<path class="d1" d="M1746 971l20 0 8-1 13 0 8-1 8-2 8-1 4 0 10-2 8-2 6-1 6 1 8-2 8-2 7-1 6 3 8-2 7-1 7 0 7 4 7-2 8 0 8-1 5 4 8-2 8 0 8 1 6 3 7-1 15 0 6 2 8-1 15 0 6 2 7-1 9 0 6 1 6 1 24 0 5 1 24 0 5 1 8-1 9 0 6 1 29 0 6 1 8-1 14 0 7 1 138 0 6 1 362 0"/>
<path class="d1" d="M1746 971l29 0 6-1 14 0 8-1 7-1 6 0 8-1 9-1 7-1 5 1 8-2 8-1 7 0 6 1 8-1 8-1 7 0 6 2 7-1 8-1 8 1 6 2 7-1 15 0 6 1 8 0 8-1 7 1 6 1 8 0 7-1 7 0 7 2 8-1 15 0 6 1 22 0 6 1 8-1 15 0 6 1 23 0 6 1 8-1 16 0 5 1 51 0 6 1 8-1 15 0 6 1 196 0 5 1 248 0"/>
<path class="d1" d="M1746 971l12 0 9-1 8-1 7-1 5-1 9-2 7-3 8-3 5 1 9-4 6-3 8-2 6 3 8-3 8-2 7-1 5 5 9-3 7-2 8 0 5 5 9-3 7 0 8-2 6 6 7-3 16 0 5 5 8-2 8-1 7 1 6 4 8-1 8-1 6 0 6 3 8-1 9 0 7 1 6 2 8-1 14 0 6 3 9-1 7 0 8-1 5 3 9-1 14 0 6 2 8-1 7 0 8 1 6 1 8-1 14 0 6 2 9-1 15 0 6 1 22 0 7 1 50 0 7 1 7-1 9 0 7 1 57 0 6 1 8-1 8 0 7 1 173 0 6 1 103 0"/>
<path class="d1" d="M1746 971l11 0 10-2 7-5 8-6 5-2 8-10 8-11 7-10 6 4 8-12 8-8 7-3 5 12 9-8 8-4 7 0 5 13 9-6 8-2 7-2 5 13 9-5 8-2 7-1 5 13 8-5 8-2 7 5 6 10 8-4 9-1 6 2 6 8 8-3 7-1 9-1 4 8 8-3 8-1 7 0 7 7 7-3 9 0 7-2 6 7 7-3 8 0 7 1 7 6 7-2 8-1 8 2 5 4 8-1 8 0 7-1 5 4 9-1 8-1 6 0 6 3 8-1 8 0 8 1 6 3 8-1 7-1 7 1 6 3 9-1 14 0 6 2 23 0 5 1 24 0 6 1 22 0 7 1 21 0 8 1 7-1 16 0 5 1 23 0 6 1 8 0 8-1 7 0 5 1 52 0 6 1 161 0"/>
<path class="d1" d="M1746 971l20 0 9-1 12 0 8-1 9 0 7-1 6 0 7-1 8-1 7-1 6 1 8-2 8-1 8-1 5 1 7-1 8-1 8-1 5 2 9-1 8-1 7 0 5 2 8-1 15 0 6 2 8-1 16 0 5 2 8-1 15 0 5 2 9-1 15 0 6 1 8 0 7-1 8 1 5 1 8 0 8-1 8 1 5 1 8-1 15 0 6 2 8-1 15 0 6 1 52 0 5 1 16 0 7-1 7 1 50 0 6 1 9-1 15 0 6 1 196 0 5 1 161 0"/>
<path class="d1" d="M1746 971l21 0 8-1 7-1 5 0 8-2 8-2 8-2 5 1 8-3 8-3 7-2 5 2 9-4 8-2 7-1 6 3 8-3 7-1 8-1 5 4 8-2 15 0 6 4 9-1 7 0 7 1 7 3 15 0 7 1 6 2 23 0 6 2 23 0 6 2 22 0 6 1 24 0 5 1 16 0 8 1 28 0 6 1 45 0 6 1 116 0 6 1 362 0"/>
<path class="d1" d="M1746 971l29 0 6-1 6 0 8-2 8-2 7-3 6 0 8-5 8-5 7-5 6 2 8-7 7-6 8-3 6 6 8-7 7-4 8 0 5 9 8-5 8-2 8-2 5 9 8-3 8-1 7 0 6 9 8-3 8-1 7 3 7 7 7-2 8-1 7 0 6 6 8-2 8 0 7 1 6 5 8-1 7 0 8 1 6 3 15 0 7-1 7 3 7-1 8 0 8 2 5 2 8-1 7 0 8 1 6 2 8-1 14 0 7 2 8-1 8 1 6 0 6 1 9-1 7 0 8 1 28 0 6 1 23 0 5 1 9-1 15 0 6 1 108 0 6 1 248 0"/>
<path class="d1" d="M1746 971l21 0 8-1 7 0 6-1 7-1 8-3 8-2 6-1 7-4 8-4 7-2 6 2 7-4 8-2 8-2 6 4 8-2 7-1 7 0 6 5 9-2 15 0 6 4 7-1 9-1 7 1 5 4 8-2 7 0 8 1 6 3 8-1 8 0 7 1 6 2 8-1 7 0 8 1 5 2 9 0 7-1 7 0 6 2 24 0 5 1 23 0 6 1 23 0 6 1 23 0 5 1 52 0 6 1 52 0 6 1 166 0 6 1 219 0"/>
<path class="d1" d="M1746 971l29 0 6-1 6 0 8-1 8-2 8-1 5-1 8-3 8-3 7-4 7 0 7-4 8-4 7-3 6 3 8-4 8-3 7-3 6 4 8-3 7-1 7-1 6 5 9-2 7 0 8 2 5 5 8-1 8 0 8 1 6 4 7-1 8 0 7 1 6 4 8-1 7 0 8 1 6 3 8-1 7 1 7 0 7 2 16 0 7 1 5 2 23 0 6 1 16 0 7 1 6 1 23 0 5 1 23 0 6 1 23 0 6 1 23 0 5 1 52 0 6 1 139 0 6 1 218 0"/>
<path class="d1" d="M1746 971l21 0 7-1 7-1 7 0 7-1 8-2 8-1 5 0 9-2 8-1 6 0 6 1 22 0 7 2 8-1 15 0 6 2 8-1 8 0 7 1 5 1 23 0 6 1 44 0 8 1 29 0 6 1 109 0 6 1 535 0"/>
<path class="d1" d="M1746 971l29 0 6-1 14 0 8-1 7-1 6 0 8-1 8-1 7-1 6 1 8-2 8 0 7-1 7 1 6-1 15 0 6 1 24 0 5 1 23 0 6 1 8-1 7 0 8 1 7 1 7-1 8 0 7 1 28 0 6 1 53 0 5 1 52 0 6 1 7-1 9 1 180 0 6 1 333 0"/>
<path class="d1" d="M1746 971l20 0 8-1 8-2 5 0 9-3 7-3 8-2 5 1 8-4 8-3 7-3 5 4 9-5 7-2 7-2 7 5 8-3 7-2 8 0 6 6 8-3 8-1 6 0 6 6 8-3 8 0 7 1 6 4 8-2 8 0 7 1 5 4 9-2 15 0 6 3 8-1 15 0 6 3 8-1 7 0 8-1 5 2 9-1 14 0 6 3 8-1 15 0 5 2 9-1 14 0 7 2 8-1 14 0 7 2 8-1 15 0 5 1 24 0 5 1 52 0 6 1 52 0 5 1 8-1 16 0 5 1 196 0 5 1 104 0"/>
<path class="d1" d="M1746 971l35 0 6-1 8 0 8-1 13 0 8-1 8-1 8-1 5 1 8-1 9-1 6-1 6 1 7-1 8 0 7 1 7 1 7-1 16 0 5 1 16 0 7-1 6 2 8-1 15 0 6 1 23 0 5 1 9-1 15 0 5 1 53 0 6 1 80 0 5 1 8-1 16 0 5 1 197 0 4 1 277 0"/>
<path class="d1" d="M1746 971l11 0 10-1 8-1 7-2 5-1 8-5 8-6 8-7 5 1 8-9 8-9 7-10 6 6 8-13 8-9 7-2 5 12 9-12 8-6 7 2 6 15 7-8 8-2 8-2 5 16 9-6 7-1 7-2 7 15 7-5 8 0 7-1 6 12 7-3 8-1 7 3 6 10 9-3 8 0 6 2 7 8 7-2 8 0 8 1 5 6 8-1 8 0 8 2 5 4 8-1 15 0 6 4 7-1 9 0 7 1 6 3 8-1 8 1 6 0 7 2 8-1 7 1 7 0 6 2 9-1 7 0 7 1 6 1 24 0 5 1 23 0 6 1 8-1 7 1 36 0 6 1 138 0 7 1 189 0"/>
<path class="d1" d="M1746 971l12 0 9-3 7-7 7-11 6-6 8-17 8-14 7-10 6 8 8-10 8-4 8 4 5 13 8-6 7-2 8-2 6 13 9-5 7-1 7-1 5 12 8-4 9-1 6-1 6 11 8-4 8-1 7 2 6 10 8-4 7 0 8 2 6 8 7-3 9 0 6 1 7 7 8-2 8 0 6-2 6 6 8-1 9-1 7 2 5 5 8-2 8 0 8 1 5 4 9-1 7 0 7 1 6 3 8-1 15 0 6 3 8-1 15 0 6 2 22 0 6 2 8-1 8 0 8 1 5 1 23 0 6 2 8-1 15 0 6 1 23 0 6 1 23 0 5 1 23 0 6 1 8-1 8 0 7 1 58 0 6 1 167 0 5 1 9-1 8 1 29 0"/>
<path class="d1" d="M1746 971l29 0 6-1 7 0 7-1 8-1 13 0 9-2 8-1 6-1 5 0 9-2 8-1 7-2 6 2 8-2 8-1 6-1 6 2 9-2 15 0 5 2 9-1 15 0 5 2 8-1 8 0 6 1 7 2 8-1 8 0 7-1 6 2 7-1 16 0 6 2 23 0 5 1 23 0 6 1 23 0 6 1 23 0 5 1 53 0 5 1 24 0 6 1 7-1 15 0 7 1 51 0 6 1 16 0 7-1 5 1 196 0 6 1 132 0"/>
<path class="d1" d="M1746 971l13 0 8-1 7-3 7-3 6-2 8-6 8-7 7-6 6 3 8-6 9-3 6 0 6 6 8-3 7 0 8 1 6 6 8-2 14 0 7 6 7-1 9 0 6 1 6 4 8-1 8 1 7 1 7 3 22 0 5 3 8-1 9 1 7 0 5 2 24 0 5 2 8-1 8 1 8 0 5 1 23 0 6 1 23 0 6 1 44 0 8 1 114 0 6 1 392 0"/>
<path class="d1" d="M1746 971l20 0 8-1 7 0 6-1 9-1 7-2 7-1 6 0 8-3 8-2 7-2 6 1 8-3 8-2 7-2 7 3 7-3 8-1 6-2 7 4 8-2 7-1 8 0 6 4 7-2 8-1 8 1 5 4 9-1 8-1 6 1 6 3 7-1 16 0 6 3 7-1 16 0 6 2 8-1 15 0 5 3 8-1 15 0 6 2 8-1 15 0 6 1 22 0 7 1 23 0 6 1 22 0 7 1 7-1 15 0 7 1 22 0 6 1 52 0 5 1 81 0 6 1 196 0 6 1 8-1 14 0 7 1 45 0"/>
<path class="d1" d="M1746 971l28 0 7-1 15 0 7-1 8-2 5 0 8-2 8-2 7-2 6 0 8-2 7-3 8-1 6 1 8-3 7-1 7-1 7 3 7-1 8-1 8 1 5 3 9-1 7-1 7 1 6 2 8 0 8-1 7 1 6 3 8-1 8 0 7 1 6 2 8-1 14 0 7 2 8-1 7 0 7 1 6 1 24 0 5 2 8-1 15 0 6 1 23 0 6 1 22 0 6 1 45 0 8 1 57 0 6 1 167 0 6 1 218 0"/>
<path class="d1" d="M1746 971l28 0 8-1 5 0 8-1 8-1 7 0 6-1 8-1 7-1 8-1 5 1 9-1 8-1 7 0 6 1 7 0 9-1 6 1 6 1 8-1 8 0 7 1 6 1 8-1 15 0 7 1 22 0 6 1 23 0 6 1 8 0 7-1 8 1 28 0 7 1 80 0 6 1 196 0 6 1 333 0"/>
<path class="d1" d="M1746 971l20 0 8-1 8-1 5 0 8-2 8-3 7-3 6 1 8-3 8-2 7-2 6 3 8-1 8-1 7 1 7 3 7-1 15 0 5 3 9-1 7 0 8 1 5 2 23 0 6 2 24 0 5 1 23 0 6 1 23 0 6 1 51 0 6 1 109 0 6 1 478 0"/>
<path class="d1" d="M1746 971l20 0 8-1 7-2 7-1 7-3 9-4 6-3 6 1 8-6 8-4 7-4 6 4 8-5 7-2 8 1 5 6 8-3 16 0 5 6 8-1 15 0 6 5 8-1 8 1 8 0 5 4 23 0 6 3 16 0 7 1 6 2 22 0 6 2 8-1 9 1 7 0 5 1 24 0 5 1 24 0 5 1 8-1 8 1 86 0 8 1 454 0"/>
<path class="d1" d="M1746 971l29 0 7-1 5 0 8-1 8-1 7-1 6 0 8-2 8-2 7-1 6 1 8-3 8-2 7 0 6 2 7-2 8-1 7-1 6 3 8-1 8-1 8 0 5 3 9-1 14 0 6 3 9-1 7 0 7 1 6 2 9-1 14 0 6 2 23 0 6 2 7-1 9 0 7 1 5 1 9-1 15 0 5 1 23 0 6 1 51 0 7 1 131 0 7 1 368 0"/>
<path class="d1" d="M1746 971l21 0 8-1 6-1 7 0 7-2 8-3 8-3 5 1 8-4 8-4 8-3 5 4 9-4 7-1 8 0 5 5 8-2 7-1 8 0 5 5 8-2 8 0 8 1 5 4 8-2 15 0 6 3 8-1 8 0 7 1 5 3 9-1 15 0 6 2 8-1 7 0 8 1 6 1 23 0 5 1 23 0 6 1 24 0 5 1 52 0 5 1 111 0 4 1 8-1 9 1 375 0"/>
<path class="d1" d="M1746 971l36 0 5-1 16 0 7-1 5 0 9-1 9-1 6-1 6 0 9-1 7-1 7-1 6 1 7-1 9-1 7 0 5 2 8-1 16 0 5 1 23 0 6 1 23 0 6 1 23 0 6 1 22 0 6 1 9-1 14 0 6 1 23 0 7 1 79 0 7 1 167 0 5 1 334 0"/>
<path class="d1" d="M1746 971l20 0 9-1 6 0 6-1 9-1 7-2 7-2 5 0 9-4 8-3 7-2 6 2 8-4 8-4 7-2 6 5 8-5 7-2 8-1 6 7 7-3 15 0 7 6 7-2 16 0 5 5 8-1 8 0 7 1 5 4 9-1 8 0 7 1 6 3 8-1 15 0 6 2 23 0 5 2 24 0 5 1 23 0 6 1 23 0 5 1 9-1 7 0 8 1 86 0 6 1 420 0"/>
<path class="d1" d="M1746 971l20 0 8-1 13 0 9-2 7-1 8-2 5 0 8-3 8-2 7-3 5 2 9-3 8-3 7 0 6 4 7-3 9-2 7 0 5 4 9-2 7-1 8 0 6 4 7-1 8-1 8 1 5 3 8-1 15 0 6 3 7-1 16 0 5 3 9-1 15 0 6 2 7-1 16 0 6 2 8-1 15 0 5 2 9-1 15 0 5 2 8-1 8 0 7 1 6 1 8-1 15 0 6 1 22 0 6 1 8-1 15 0 7 1 51 0 6 1 167 0 5 1 9-1 15 0 5 1 190 0"/>
<path class="d1" d="M1746 971l21 0 8-1 7 0 5-1 8-2 8-2 7-2 6 0 8-5 7-3 8-4 5 3 9-5 7-3 8 0 6 5 8-3 8-1 6-1 6 5 8-2 15 0 6 5 8-2 8-1 7 0 6 5 9-2 14 0 6 4 8-1 9-1 6 0 5 3 10-1 13 0 7 3 8-1 15 0 5 3 8-1 15 0 6 2 8-1 15 0 6 2 7-1 9 0 7 1 5 1 24 0 6 1 23 0 5 1 8-1 8 0 7 1 29 0 6 1 52 0 6 1 195 0 6 1 161 0"/>
<path class="d1" d="M1746 971l12 0 9-2 7-3 7-5 7-1 7-7 9-6 6-1 6 5 8-4 8-1 7-1 6 6 8-3 8-1 7 0 5 6 9-3 7 0 7-1 7 6 8-2 8-1 7 0 6 5 7-2 16 0 5 4 8-2 15 0 6 4 8-2 15 0 6 3 8-1 15 0 6 2 8 0 8-1 6 0 7 3 7-1 15 0 6 2 8-1 15 0 6 2 7-1 16 0 6 1 23 0 5 1 9-1 15 0 6 1 23 0 5 1 52 0 5 1 9-1 7 0 8 1 143 0 6 1 8-1 16 0 5 1 190 0"/>
<path class="d1" d="M1746 971l21 0 7-1 8-1 5 0 9-3 8-2 6-2 6-1 8-4 8-3 7-2 6 1 8-4 8-4 7-3 6 4 8-5 7-3 8-2 5 6 8-3 8-1 8-1 5 7 8-2 8 0 7 1 6 6 9-1 7 0 7 2 6 4 16 0 6 1 7 3 15 0 8 1 6 2 15 0 7 1 6 2 16 0 7 1 6 1 23 0 6 1 16 0 7 1 21 0 7 1 30 0 5 1 109 0 7 1 362 0"/>
<path class="d1" d="M1746 971l21 0 8-1 12 0 8-2 8-1 8-2 5 0 8-2 8-2 7-1 5 1 9-2 15 0 6 2 8-1 15 0 5 2 24 0 5 2 8-1 8 0 7 1 6 1 23 0 7 2 7-1 8 0 7 1 29 0 6 1 23 0 5 1 52 0 5 1 132 0 7 1 426 0"/>
<path class="d1" d="M1746 971l20 0 8-1 8 0 5-1 9-2 7-1 8-2 5 1 8-1 15 0 5 1 24 0 6 1 23 0 6 1 22 0 6 1 22 0 7 1 52 0 6 1 110 0 4 1 565 0"/>
</g>
<g class="axes">
<line x1="47.4" y1="6.4" x2="47.4" y2="244.3"/>
<line x1="42.9" y1="244.30" x2="47.4" y2="244.30"/>
<line x1="45.1" y1="234.78" x2="47.4" y2="234.78"/>
<line x1="45.1" y1="225.27" x2="47.4" y2="225.27"/>
<line x1="45.1" y1="215.75" x2="47.4" y2="215.75"/>
<line x1="45.1" y1="206.24" x2="47.4" y2="206.24"/>
<line x1="42.9" y1="196.72" x2="47.4" y2="196.72"/>
<line x1="45.1" y1="187.20" x2="47.4" y2="187.20"/>
<line x1="45.1" y1="177.69" x2="47.4" y2="177.69"/>
<line x1="45.1" y1="168.17" x2="47.4" y2="168.17"/>
<line x1="45.1" y1="158.66" x2="47.4" y2="158.66"/>
<line x1="42.9" y1="149.14" x2="47.4" y2="149.14"/>
<line x1="45.1" y1="139.62" x2="47.4" y2="139.62"/>
<line x1="45.1" y1="130.11" x2="47.4" y2="130.11"/>
<line x1="45.1" y1="120.59" x2="47.4" y2="120.59"/>
<line x1="45.1" y1="111.08" x2="47.4" y2="111.08"/>
<line x1="42.9" y1="101.56" x2="47.4" y2="101.56"/>
<line x1="45.1" y1="92.04" x2="47.4" y2="92.04"/>
<line x1="45.1" y1="82.53" x2="47.4" y2="82.53"/>
<line x1="45.1" y1="73.01" x2="47.4" y2="73.01"/>
<line x1="45.1" y1="63.50" x2="47.4" y2="63.50"/>
<line x1="42.9" y1="53.98" x2="47.4" y2="53.98"/>
<line x1="45.1" y1="44.46" x2="47.4" y2="44.46"/>
<line x1="45.1" y1="34.95" x2="47.4" y2="34.95"/>
<line x1="45.1" y1="25.43" x2="47.4" y2="25.43"/>
<line x1="45.1" y1="15.92" x2="47.4" y2="15.92"/>
<line x1="42.9" y1="6.40" x2="47.4" y2="6.40"/>
<line x1="60.4" y1="253.4" x2="371.5" y2="253.4"/>
<line x1="60.40" y1="253.4" x2="60.40" y2="258.7"/>
<line x1="68.18" y1="253.4" x2="68.18" y2="256.0"/>
<line x1="75.96" y1="253.4" x2="75.96" y2="256.0"/>
<line x1="83.73" y1="253.4" x2="83.73" y2="256.0"/>
<line x1="91.51" y1="253.4" x2="91.51" y2="256.0"/>
<line x1="99.29" y1="253.4" x2="99.29" y2="258.7"/>
<line x1="107.07" y1="253.4" x2="107.07" y2="256.0"/>
<line x1="114.85" y1="253.4" x2="114.85" y2="256.0"/>
<line x1="122.62" y1="253.4" x2="122.62" y2="256.0"/>
<line x1="130.40" y1="253.4" x2="130.40" y2="256.0"/>
<line x1="138.18" y1="253.4" x2="138.18" y2="258.7"/>
<line x1="145.96" y1="253.4" x2="145.96" y2="256.0"/>
<line x1="153.74" y1="253.4" x2="153.74" y2="256.0"/>
<line x1="161.51" y1="253.4" x2="161.51" y2="256.0"/>
<line x1="169.29" y1="253.4" x2="169.29" y2="256.0"/>
<line x1="177.07" y1="253.4" x2="177.07" y2="258.7"/>
<line x1="184.85" y1="253.4" x2="184.85" y2="256.0"/>
<line x1="192.63" y1="253.4" x2="192.63" y2="256.0"/>
<line x1="200.40" y1="253.4" x2="200.40" y2="256.0"/>
<line x1="208.18" y1="253.4" x2="208.18" y2="256.0"/>
<line x1="215.96" y1="253.4" x2="215.96" y2="258.7"/>
<line x1="223.74" y1="253.4" x2="223.74" y2="256.0"/>
<line x1="231.52" y1="253.4" x2="231.52" y2="256.0"/>
<line x1="239.29" y1="253.4" x2="239.29" y2="256.0"/>
<line x1="247.07" y1="253.4" x2="247.07" y2="256.0"/>
<line x1="254.85" y1="253.4" x2="254.85" y2="258.7"/>
<line x1="262.63" y1="253.4" x2="262.63" y2="256.0"/>
<line x1="270.41" y1="253.4" x2="270.41" y2="256.0"/>
<line x1="278.18" y1="253.4" x2="278.18" y2="256.0"/>
<line x1="285.96" y1="253.4" x2="285.96" y2="256.0"/>
<line x1="293.74" y1="253.4" x2="293.74" y2="258.7"/>
<line x1="301.52" y1="253.4" x2="301.52" y2="256.0"/>
<line x1="309.30" y1="253.4" x2="309.30" y2="256.0"/>
<line x1="317.07" y1="253.4" x2="317.07" y2="256.0"/>
<line x1="324.85" y1="253.4" x2="324.85" y2="256.0"/>
<line x1="332.63" y1="253.4" x2="332.63" y2="258.7"/>
<line x1="340.41" y1="253.4" x2="340.41" y2="256.0"/>
<line x1="348.19" y1="253.4" x2="348.19" y2="256.0"/>
<line x1="355.96" y1="253.4" x2="355.96" y2="256.0"/>
<line x1="363.74" y1="253.4" x2="363.74" y2="256.0"/>
<line x1="371.52" y1="253.4" x2="371.52" y2="258.7"/>
<line x1="427.5" y1="6.3" x2="427.5" y2="242.7"/>
<line x1="422.7" y1="242.70" x2="427.5" y2="242.70"/>
<line x1="425.2" y1="219.06" x2="427.5" y2="219.06"/>
<line x1="422.7" y1="195.42" x2="427.5" y2="195.42"/>
<line x1="425.2" y1="171.78" x2="427.5" y2="171.78"/>
<line x1="422.7" y1="148.14" x2="427.5" y2="148.14"/>
<line x1="425.2" y1="124.50" x2="427.5" y2="124.50"/>
<line x1="422.7" y1="100.86" x2="427.5" y2="100.86"/>
<line x1="425.2" y1="77.22" x2="427.5" y2="77.22"/>
<line x1="422.7" y1="53.58" x2="427.5" y2="53.58"/>
<line x1="425.2" y1="29.94" x2="427.5" y2="29.94"/>
<line x1="422.7" y1="6.30" x2="427.5" y2="6.30"/>
<line x1="436.6" y1="252.4" x2="674.2" y2="252.4"/>
<line x1="436.60" y1="252.4" x2="436.60" y2="257.7"/>
<line x1="443.80" y1="252.4" x2="443.80" y2="254.9"/>
<line x1="451.00" y1="252.4" x2="451.00" y2="254.9"/>
<line x1="458.20" y1="252.4" x2="458.20" y2="257.7"/>
<line x1="465.40" y1="252.4" x2="465.40" y2="254.9"/>
<line x1="472.60" y1="252.4" x2="472.60" y2="254.9"/>
<line x1="479.80" y1="252.4" x2="479.80" y2="254.9"/>
<line x1="487.00" y1="252.4" x2="487.00" y2="254.9"/>
<line x1="494.20" y1="252.4" x2="494.20" y2="257.7"/>
<line x1="501.40" y1="252.4" x2="501.40" y2="254.9"/>
<line x1="508.60" y1="252.4" x2="508.60" y2="254.9"/>
<line x1="515.80" y1="252.4" x2="515.80" y2="254.9"/>
<line x1="523.00" y1="252.4" x2="523.00" y2="254.9"/>
<line x1="530.20" y1="252.4" x2="530.20" y2="257.7"/>
<line x1="537.40" y1="252.4" x2="537.40" y2="254.9"/>
<line x1="544.60" y1="252.4" x2="544.60" y2="254.9"/>
<line x1="551.80" y1="252.4" x2="551.80" y2="254.9"/>
<line x1="559.00" y1="252.4" x2="559.00" y2="254.9"/>
<line x1="566.20" y1="252.4" x2="566.20" y2="257.7"/>
<line x1="573.40" y1="252.4" x2="573.40" y2="254.9"/>
<line x1="580.60" y1="252.4" x2="580.60" y2="254.9"/>
<line x1="587.80" y1="252.4" x2="587.80" y2="254.9"/>
<line x1="595.00" y1="252.4" x2="595.00" y2="254.9"/>
<line x1="602.20" y1="252.4" x2="602.20" y2="257.7"/>
<line x1="609.40" y1="252.4" x2="609.40" y2="254.9"/>
<line x1="616.60" y1="252.4" x2="616.60" y2="254.9"/>
<line x1="623.80" y1="252.4" x2="623.80" y2="254.9"/>
<line x1="631.00" y1="252.4" x2="631.00" y2="254.9"/>
<line x1="638.20" y1="252.4" x2="638.20" y2="257.7"/>
<line x1="645.40" y1="252.4" x2="645.40" y2="254.9"/>
<line x1="652.60" y1="252.4" x2="652.60" y2="254.9"/>
<line x1="659.80" y1="252.4" x2="659.80" y2="254.9"/>
<line x1="667.00" y1="252.4" x2="667.00" y2="254.9"/>
<line x1="674.20" y1="252.4" x2="674.20" y2="257.7"/>
</g>
<text class="tk" x="39.2" y="247.60" text-anchor="end">0</text>
<text class="tk" x="40.6" y="200.02" text-anchor="end">500</text>
<text class="tk" x="40.8" y="152.44" text-anchor="end">1000</text>
<text class="tk" x="40.8" y="104.86" text-anchor="end">1500</text>
<text class="tk" x="41.4" y="57.28" text-anchor="end">2000</text>
<text class="tk" x="40.5" y="9.70" text-anchor="end">2500</text>
<text class="tk" x="60.40" y="271.9" text-anchor="middle">1984</text>
<text class="tk" x="99.29" y="271.9" text-anchor="middle">1989</text>
<text class="tk" x="138.18" y="271.9" text-anchor="middle">1994</text>
<text class="tk" x="177.07" y="271.9" text-anchor="middle">1999</text>
<text class="tk" x="215.96" y="271.9" text-anchor="middle">2004</text>
<text class="tk" x="254.85" y="271.9" text-anchor="middle">2009</text>
<text class="tk" x="293.74" y="271.9" text-anchor="middle">2014</text>
<text class="tk" x="332.63" y="271.9" text-anchor="middle">2019</text>
<text class="tk" x="371.52" y="271.9" text-anchor="middle">2024</text>
<text class="tk" x="417.4" y="246.00" text-anchor="end">0.0</text>
<text class="tk" x="417.4" y="198.72" text-anchor="end">0.2</text>
<text class="tk" x="417.4" y="151.44" text-anchor="end">0.4</text>
<text class="tk" x="417.4" y="104.16" text-anchor="end">0.6</text>
<text class="tk" x="417.4" y="56.88" text-anchor="end">0.8</text>
<text class="tk" x="417.4" y="9.60" text-anchor="end">1.0</text>
<text class="tk" x="436.60" y="270.9" text-anchor="middle">1991</text>
<text class="tk" x="494.20" y="270.9" text-anchor="middle">1999</text>
<text class="tk" x="530.20" y="270.9" text-anchor="middle">2004</text>
<text class="tk" x="566.20" y="270.9" text-anchor="middle">2009</text>
<text class="tk" x="602.20" y="270.9" text-anchor="middle">2014</text>
<text class="tk" x="638.20" y="270.9" text-anchor="middle">2019</text>
<text class="tk" x="674.20" y="270.9" text-anchor="middle">2024</text>
<text class="ax" x="215.9" y="291.6" text-anchor="middle">Year</text>
<text class="ax" x="555.4" y="290.8" text-anchor="middle">Year</text>
<text class="ax" transform="translate(16,124.4) rotate(-90)" text-anchor="middle">Population size</text>
<text class="ax" transform="translate(394.6,124.4) rotate(-90)" text-anchor="middle">Seroprevalence</text>
<text class="pl" x="0.2" y="9.4">(A)</text>
<text class="pl" x="384.0" y="9.9">(B)</text>
<text class="ax" x="606.8" y="10.2">PAM method</text>
<line class="lg l1" x1="607.2" y1="23.6" x2="628.3" y2="23.6"/>
<text class="ax" x="637.5" y="27.9">Cluster 1</text>
<line class="lg l2" x1="607.2" y1="36.9" x2="628.3" y2="36.9"/>
<text class="ax" x="637.5" y="41.2">Cluster 2</text>
<line class="lg l3" x1="607.2" y1="50.2" x2="628.3" y2="50.2"/>
<text class="ax" x="637.5" y="54.5">Cluster 3</text>
</svg>
</body></html>
